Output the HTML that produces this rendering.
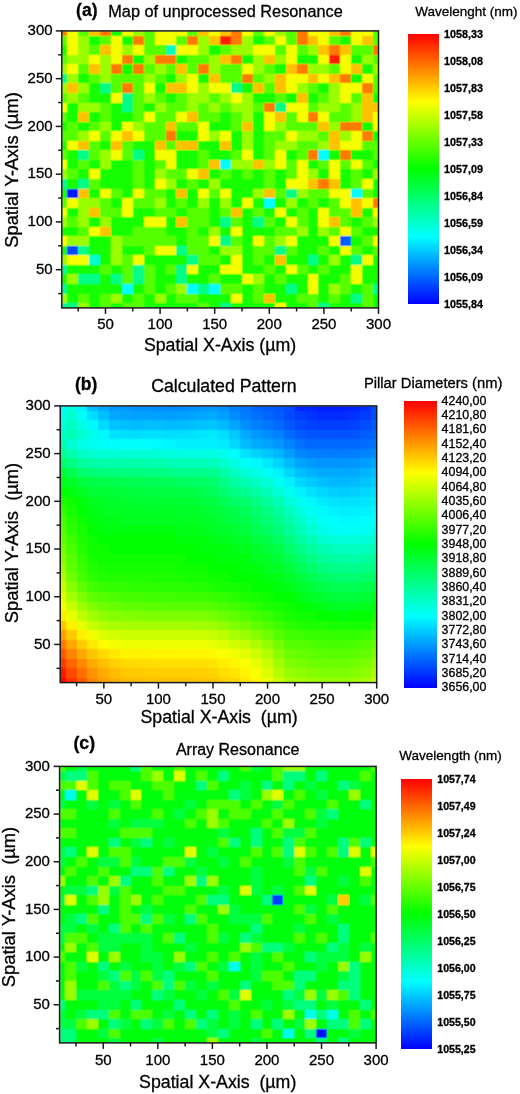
<!DOCTYPE html>
<html><head><meta charset="utf-8"><style>
html,body{margin:0;padding:0;background:#fff;}
body{width:520px;height:1094px;position:relative;overflow:hidden;font-family:"Liberation Sans",Arial,sans-serif;color:#000;-webkit-text-stroke:0.3px #000;}
.t{position:absolute;white-space:pre;line-height:1;}
.tl{position:absolute;white-space:pre;line-height:20px;height:20px;}
.cl{position:absolute;white-space:pre;line-height:20px;height:20px;}
svg{position:absolute;left:0;top:0;}
</style></head><body>
<svg width="520" height="1094" viewBox="0 0 520 1094" shape-rendering="crispEdges"><defs><filter id="bl" x="-2%" y="-2%" width="104%" height="104%"><feConvolveMatrix order="3" kernelMatrix="1 2 1 2 4 2 1 2 1" divisor="16" edgeMode="duplicate"/></filter></defs>
<clipPath id="cpa"><rect x="61.80" y="30.90" width="316.70" height="277.00"/></clipPath>
<g clip-path="url(#cpa)"><g filter="url(#bl)"><rect x="61.80" y="30.90" width="5.76" height="5.08" fill="#ff7a00"/>
<rect x="67.26" y="30.90" width="11.22" height="5.08" fill="#f5ff00"/>
<rect x="78.18" y="30.90" width="11.22" height="5.08" fill="#57ff00"/>
<rect x="89.10" y="30.90" width="11.22" height="5.08" fill="#ffc200"/>
<rect x="100.02" y="30.90" width="11.22" height="5.08" fill="#ff7a00"/>
<rect x="110.94" y="30.90" width="11.22" height="5.08" fill="#14ff00"/>
<rect x="121.86" y="30.90" width="11.22" height="5.08" fill="#f5ff00"/>
<rect x="132.78" y="30.90" width="11.22" height="5.08" fill="#99ff00"/>
<rect x="143.71" y="30.90" width="11.22" height="5.08" fill="#57ff00"/>
<rect x="154.63" y="30.90" width="11.22" height="5.08" fill="#f5ff00"/>
<rect x="165.55" y="30.90" width="11.22" height="5.08" fill="#f5ff00"/>
<rect x="176.47" y="30.90" width="11.22" height="5.08" fill="#f5ff00"/>
<rect x="187.39" y="30.90" width="11.22" height="5.08" fill="#57ff00"/>
<rect x="198.31" y="30.90" width="11.22" height="5.08" fill="#ffc200"/>
<rect x="209.23" y="30.90" width="11.22" height="5.08" fill="#f5ff00"/>
<rect x="220.15" y="30.90" width="11.22" height="5.08" fill="#ffc200"/>
<rect x="231.07" y="30.90" width="11.22" height="5.08" fill="#ff7a00"/>
<rect x="241.99" y="30.90" width="11.22" height="5.08" fill="#f5ff00"/>
<rect x="252.91" y="30.90" width="11.22" height="5.08" fill="#57ff00"/>
<rect x="263.83" y="30.90" width="11.22" height="5.08" fill="#f5ff00"/>
<rect x="274.75" y="30.90" width="11.22" height="5.08" fill="#99ff00"/>
<rect x="285.67" y="30.90" width="11.22" height="5.08" fill="#57ff00"/>
<rect x="296.59" y="30.90" width="11.22" height="5.08" fill="#ff7a00"/>
<rect x="307.52" y="30.90" width="11.22" height="5.08" fill="#f5ff00"/>
<rect x="318.44" y="30.90" width="11.22" height="5.08" fill="#f5ff00"/>
<rect x="329.36" y="30.90" width="11.22" height="5.08" fill="#ffc200"/>
<rect x="340.28" y="30.90" width="11.22" height="5.08" fill="#ff7a00"/>
<rect x="351.20" y="30.90" width="11.22" height="5.08" fill="#f5ff00"/>
<rect x="362.12" y="30.90" width="11.22" height="5.08" fill="#f5ff00"/>
<rect x="373.04" y="30.90" width="5.76" height="5.08" fill="#57ff00"/>
<rect x="61.80" y="35.68" width="5.76" height="9.85" fill="#57ff00"/>
<rect x="67.26" y="35.68" width="11.22" height="9.85" fill="#f5ff00"/>
<rect x="78.18" y="35.68" width="11.22" height="9.85" fill="#99ff00"/>
<rect x="89.10" y="35.68" width="11.22" height="9.85" fill="#14ff00"/>
<rect x="100.02" y="35.68" width="11.22" height="9.85" fill="#57ff00"/>
<rect x="110.94" y="35.68" width="11.22" height="9.85" fill="#f5ff00"/>
<rect x="121.86" y="35.68" width="11.22" height="9.85" fill="#14ff00"/>
<rect x="132.78" y="35.68" width="11.22" height="9.85" fill="#ff7a00"/>
<rect x="143.71" y="35.68" width="11.22" height="9.85" fill="#57ff00"/>
<rect x="154.63" y="35.68" width="11.22" height="9.85" fill="#f5ff00"/>
<rect x="165.55" y="35.68" width="11.22" height="9.85" fill="#f5ff00"/>
<rect x="176.47" y="35.68" width="11.22" height="9.85" fill="#57ff00"/>
<rect x="187.39" y="35.68" width="11.22" height="9.85" fill="#ff7a00"/>
<rect x="198.31" y="35.68" width="11.22" height="9.85" fill="#99ff00"/>
<rect x="209.23" y="35.68" width="11.22" height="9.85" fill="#ffc200"/>
<rect x="220.15" y="35.68" width="11.22" height="9.85" fill="#ff1f00"/>
<rect x="231.07" y="35.68" width="11.22" height="9.85" fill="#ff7a00"/>
<rect x="241.99" y="35.68" width="11.22" height="9.85" fill="#99ff00"/>
<rect x="252.91" y="35.68" width="11.22" height="9.85" fill="#14ff00"/>
<rect x="263.83" y="35.68" width="11.22" height="9.85" fill="#57ff00"/>
<rect x="274.75" y="35.68" width="11.22" height="9.85" fill="#f5ff00"/>
<rect x="285.67" y="35.68" width="11.22" height="9.85" fill="#57ff00"/>
<rect x="296.59" y="35.68" width="11.22" height="9.85" fill="#ff7a00"/>
<rect x="307.52" y="35.68" width="11.22" height="9.85" fill="#ffc200"/>
<rect x="318.44" y="35.68" width="11.22" height="9.85" fill="#f5ff00"/>
<rect x="329.36" y="35.68" width="11.22" height="9.85" fill="#57ff00"/>
<rect x="340.28" y="35.68" width="11.22" height="9.85" fill="#14ff00"/>
<rect x="351.20" y="35.68" width="11.22" height="9.85" fill="#f5ff00"/>
<rect x="362.12" y="35.68" width="11.22" height="9.85" fill="#ffc200"/>
<rect x="373.04" y="35.68" width="5.76" height="9.85" fill="#57ff00"/>
<rect x="61.80" y="45.23" width="5.76" height="9.85" fill="#14ff00"/>
<rect x="67.26" y="45.23" width="11.22" height="9.85" fill="#f5ff00"/>
<rect x="78.18" y="45.23" width="11.22" height="9.85" fill="#99ff00"/>
<rect x="89.10" y="45.23" width="11.22" height="9.85" fill="#57ff00"/>
<rect x="100.02" y="45.23" width="11.22" height="9.85" fill="#ffc200"/>
<rect x="110.94" y="45.23" width="11.22" height="9.85" fill="#f5ff00"/>
<rect x="121.86" y="45.23" width="11.22" height="9.85" fill="#99ff00"/>
<rect x="132.78" y="45.23" width="11.22" height="9.85" fill="#f5ff00"/>
<rect x="143.71" y="45.23" width="11.22" height="9.85" fill="#57ff00"/>
<rect x="154.63" y="45.23" width="11.22" height="9.85" fill="#57ff00"/>
<rect x="165.55" y="45.23" width="11.22" height="9.85" fill="#00ffb8"/>
<rect x="176.47" y="45.23" width="11.22" height="9.85" fill="#f5ff00"/>
<rect x="187.39" y="45.23" width="11.22" height="9.85" fill="#f5ff00"/>
<rect x="198.31" y="45.23" width="11.22" height="9.85" fill="#99ff00"/>
<rect x="209.23" y="45.23" width="11.22" height="9.85" fill="#14ff00"/>
<rect x="220.15" y="45.23" width="11.22" height="9.85" fill="#57ff00"/>
<rect x="231.07" y="45.23" width="11.22" height="9.85" fill="#99ff00"/>
<rect x="241.99" y="45.23" width="11.22" height="9.85" fill="#99ff00"/>
<rect x="252.91" y="45.23" width="11.22" height="9.85" fill="#f5ff00"/>
<rect x="263.83" y="45.23" width="11.22" height="9.85" fill="#f5ff00"/>
<rect x="274.75" y="45.23" width="11.22" height="9.85" fill="#57ff00"/>
<rect x="285.67" y="45.23" width="11.22" height="9.85" fill="#f5ff00"/>
<rect x="296.59" y="45.23" width="11.22" height="9.85" fill="#57ff00"/>
<rect x="307.52" y="45.23" width="11.22" height="9.85" fill="#99ff00"/>
<rect x="318.44" y="45.23" width="11.22" height="9.85" fill="#ffc200"/>
<rect x="329.36" y="45.23" width="11.22" height="9.85" fill="#ff7a00"/>
<rect x="340.28" y="45.23" width="11.22" height="9.85" fill="#ffc200"/>
<rect x="351.20" y="45.23" width="11.22" height="9.85" fill="#57ff00"/>
<rect x="362.12" y="45.23" width="11.22" height="9.85" fill="#57ff00"/>
<rect x="373.04" y="45.23" width="5.76" height="9.85" fill="#ff7a00"/>
<rect x="61.80" y="54.78" width="5.76" height="9.85" fill="#57ff00"/>
<rect x="67.26" y="54.78" width="11.22" height="9.85" fill="#99ff00"/>
<rect x="78.18" y="54.78" width="11.22" height="9.85" fill="#99ff00"/>
<rect x="89.10" y="54.78" width="11.22" height="9.85" fill="#f5ff00"/>
<rect x="100.02" y="54.78" width="11.22" height="9.85" fill="#99ff00"/>
<rect x="110.94" y="54.78" width="11.22" height="9.85" fill="#f5ff00"/>
<rect x="121.86" y="54.78" width="11.22" height="9.85" fill="#ff7a00"/>
<rect x="132.78" y="54.78" width="11.22" height="9.85" fill="#14ff00"/>
<rect x="143.71" y="54.78" width="11.22" height="9.85" fill="#99ff00"/>
<rect x="154.63" y="54.78" width="11.22" height="9.85" fill="#ff7a00"/>
<rect x="165.55" y="54.78" width="11.22" height="9.85" fill="#ff7a00"/>
<rect x="176.47" y="54.78" width="11.22" height="9.85" fill="#14ff00"/>
<rect x="187.39" y="54.78" width="11.22" height="9.85" fill="#57ff00"/>
<rect x="198.31" y="54.78" width="11.22" height="9.85" fill="#57ff00"/>
<rect x="209.23" y="54.78" width="11.22" height="9.85" fill="#99ff00"/>
<rect x="220.15" y="54.78" width="11.22" height="9.85" fill="#ffc200"/>
<rect x="231.07" y="54.78" width="11.22" height="9.85" fill="#ff7a00"/>
<rect x="241.99" y="54.78" width="11.22" height="9.85" fill="#14ff00"/>
<rect x="252.91" y="54.78" width="11.22" height="9.85" fill="#99ff00"/>
<rect x="263.83" y="54.78" width="11.22" height="9.85" fill="#ffc200"/>
<rect x="274.75" y="54.78" width="11.22" height="9.85" fill="#99ff00"/>
<rect x="285.67" y="54.78" width="11.22" height="9.85" fill="#f5ff00"/>
<rect x="296.59" y="54.78" width="11.22" height="9.85" fill="#14ff00"/>
<rect x="307.52" y="54.78" width="11.22" height="9.85" fill="#14ff00"/>
<rect x="318.44" y="54.78" width="11.22" height="9.85" fill="#f5ff00"/>
<rect x="329.36" y="54.78" width="11.22" height="9.85" fill="#ff1f00"/>
<rect x="340.28" y="54.78" width="11.22" height="9.85" fill="#f5ff00"/>
<rect x="351.20" y="54.78" width="11.22" height="9.85" fill="#14ff00"/>
<rect x="362.12" y="54.78" width="11.22" height="9.85" fill="#99ff00"/>
<rect x="373.04" y="54.78" width="5.76" height="9.85" fill="#57ff00"/>
<rect x="61.80" y="64.33" width="5.76" height="9.85" fill="#99ff00"/>
<rect x="67.26" y="64.33" width="11.22" height="9.85" fill="#f5ff00"/>
<rect x="78.18" y="64.33" width="11.22" height="9.85" fill="#57ff00"/>
<rect x="89.10" y="64.33" width="11.22" height="9.85" fill="#ffc200"/>
<rect x="100.02" y="64.33" width="11.22" height="9.85" fill="#99ff00"/>
<rect x="110.94" y="64.33" width="11.22" height="9.85" fill="#ff7a00"/>
<rect x="121.86" y="64.33" width="11.22" height="9.85" fill="#14ff00"/>
<rect x="132.78" y="64.33" width="11.22" height="9.85" fill="#ff7a00"/>
<rect x="143.71" y="64.33" width="11.22" height="9.85" fill="#57ff00"/>
<rect x="154.63" y="64.33" width="11.22" height="9.85" fill="#99ff00"/>
<rect x="165.55" y="64.33" width="11.22" height="9.85" fill="#57ff00"/>
<rect x="176.47" y="64.33" width="11.22" height="9.85" fill="#ffc200"/>
<rect x="187.39" y="64.33" width="11.22" height="9.85" fill="#57ff00"/>
<rect x="198.31" y="64.33" width="11.22" height="9.85" fill="#ff7a00"/>
<rect x="209.23" y="64.33" width="11.22" height="9.85" fill="#99ff00"/>
<rect x="220.15" y="64.33" width="11.22" height="9.85" fill="#57ff00"/>
<rect x="231.07" y="64.33" width="11.22" height="9.85" fill="#57ff00"/>
<rect x="241.99" y="64.33" width="11.22" height="9.85" fill="#f5ff00"/>
<rect x="252.91" y="64.33" width="11.22" height="9.85" fill="#99ff00"/>
<rect x="263.83" y="64.33" width="11.22" height="9.85" fill="#57ff00"/>
<rect x="274.75" y="64.33" width="11.22" height="9.85" fill="#14ff00"/>
<rect x="285.67" y="64.33" width="11.22" height="9.85" fill="#ffc200"/>
<rect x="296.59" y="64.33" width="11.22" height="9.85" fill="#ff7a00"/>
<rect x="307.52" y="64.33" width="11.22" height="9.85" fill="#99ff00"/>
<rect x="318.44" y="64.33" width="11.22" height="9.85" fill="#99ff00"/>
<rect x="329.36" y="64.33" width="11.22" height="9.85" fill="#57ff00"/>
<rect x="340.28" y="64.33" width="11.22" height="9.85" fill="#f5ff00"/>
<rect x="351.20" y="64.33" width="11.22" height="9.85" fill="#ffc200"/>
<rect x="362.12" y="64.33" width="11.22" height="9.85" fill="#14ff00"/>
<rect x="373.04" y="64.33" width="5.76" height="9.85" fill="#99ff00"/>
<rect x="61.80" y="73.88" width="5.76" height="9.85" fill="#00ff85"/>
<rect x="67.26" y="73.88" width="11.22" height="9.85" fill="#99ff00"/>
<rect x="78.18" y="73.88" width="11.22" height="9.85" fill="#14ff00"/>
<rect x="89.10" y="73.88" width="11.22" height="9.85" fill="#57ff00"/>
<rect x="100.02" y="73.88" width="11.22" height="9.85" fill="#99ff00"/>
<rect x="110.94" y="73.88" width="11.22" height="9.85" fill="#57ff00"/>
<rect x="121.86" y="73.88" width="11.22" height="9.85" fill="#57ff00"/>
<rect x="132.78" y="73.88" width="11.22" height="9.85" fill="#57ff00"/>
<rect x="143.71" y="73.88" width="11.22" height="9.85" fill="#99ff00"/>
<rect x="154.63" y="73.88" width="11.22" height="9.85" fill="#57ff00"/>
<rect x="165.55" y="73.88" width="11.22" height="9.85" fill="#14ff00"/>
<rect x="176.47" y="73.88" width="11.22" height="9.85" fill="#99ff00"/>
<rect x="187.39" y="73.88" width="11.22" height="9.85" fill="#f5ff00"/>
<rect x="198.31" y="73.88" width="11.22" height="9.85" fill="#14ff00"/>
<rect x="209.23" y="73.88" width="11.22" height="9.85" fill="#ffc200"/>
<rect x="220.15" y="73.88" width="11.22" height="9.85" fill="#57ff00"/>
<rect x="231.07" y="73.88" width="11.22" height="9.85" fill="#57ff00"/>
<rect x="241.99" y="73.88" width="11.22" height="9.85" fill="#ff7a00"/>
<rect x="252.91" y="73.88" width="11.22" height="9.85" fill="#57ff00"/>
<rect x="263.83" y="73.88" width="11.22" height="9.85" fill="#99ff00"/>
<rect x="274.75" y="73.88" width="11.22" height="9.85" fill="#ffc200"/>
<rect x="285.67" y="73.88" width="11.22" height="9.85" fill="#f5ff00"/>
<rect x="296.59" y="73.88" width="11.22" height="9.85" fill="#f5ff00"/>
<rect x="307.52" y="73.88" width="11.22" height="9.85" fill="#ffc200"/>
<rect x="318.44" y="73.88" width="11.22" height="9.85" fill="#f5ff00"/>
<rect x="329.36" y="73.88" width="11.22" height="9.85" fill="#ffc200"/>
<rect x="340.28" y="73.88" width="11.22" height="9.85" fill="#ff7a00"/>
<rect x="351.20" y="73.88" width="11.22" height="9.85" fill="#14ff00"/>
<rect x="362.12" y="73.88" width="11.22" height="9.85" fill="#f5ff00"/>
<rect x="373.04" y="73.88" width="5.76" height="9.85" fill="#57ff00"/>
<rect x="61.80" y="83.43" width="5.76" height="9.85" fill="#99ff00"/>
<rect x="67.26" y="83.43" width="11.22" height="9.85" fill="#ffc200"/>
<rect x="78.18" y="83.43" width="11.22" height="9.85" fill="#99ff00"/>
<rect x="89.10" y="83.43" width="11.22" height="9.85" fill="#14ff00"/>
<rect x="100.02" y="83.43" width="11.22" height="9.85" fill="#00ff85"/>
<rect x="110.94" y="83.43" width="11.22" height="9.85" fill="#57ff00"/>
<rect x="121.86" y="83.43" width="11.22" height="9.85" fill="#ff7a00"/>
<rect x="132.78" y="83.43" width="11.22" height="9.85" fill="#57ff00"/>
<rect x="143.71" y="83.43" width="11.22" height="9.85" fill="#f5ff00"/>
<rect x="154.63" y="83.43" width="11.22" height="9.85" fill="#14ff00"/>
<rect x="165.55" y="83.43" width="11.22" height="9.85" fill="#ffc200"/>
<rect x="176.47" y="83.43" width="11.22" height="9.85" fill="#ffc200"/>
<rect x="187.39" y="83.43" width="11.22" height="9.85" fill="#f5ff00"/>
<rect x="198.31" y="83.43" width="11.22" height="9.85" fill="#99ff00"/>
<rect x="209.23" y="83.43" width="11.22" height="9.85" fill="#f5ff00"/>
<rect x="220.15" y="83.43" width="11.22" height="9.85" fill="#f5ff00"/>
<rect x="231.07" y="83.43" width="11.22" height="9.85" fill="#00ff85"/>
<rect x="241.99" y="83.43" width="11.22" height="9.85" fill="#14ff00"/>
<rect x="252.91" y="83.43" width="11.22" height="9.85" fill="#ffc200"/>
<rect x="263.83" y="83.43" width="11.22" height="9.85" fill="#57ff00"/>
<rect x="274.75" y="83.43" width="11.22" height="9.85" fill="#ffc200"/>
<rect x="285.67" y="83.43" width="11.22" height="9.85" fill="#f5ff00"/>
<rect x="296.59" y="83.43" width="11.22" height="9.85" fill="#99ff00"/>
<rect x="307.52" y="83.43" width="11.22" height="9.85" fill="#57ff00"/>
<rect x="318.44" y="83.43" width="11.22" height="9.85" fill="#14ff00"/>
<rect x="329.36" y="83.43" width="11.22" height="9.85" fill="#99ff00"/>
<rect x="340.28" y="83.43" width="11.22" height="9.85" fill="#f5ff00"/>
<rect x="351.20" y="83.43" width="11.22" height="9.85" fill="#f5ff00"/>
<rect x="362.12" y="83.43" width="11.22" height="9.85" fill="#ff7a00"/>
<rect x="373.04" y="83.43" width="5.76" height="9.85" fill="#57ff00"/>
<rect x="61.80" y="92.99" width="5.76" height="9.85" fill="#57ff00"/>
<rect x="67.26" y="92.99" width="11.22" height="9.85" fill="#99ff00"/>
<rect x="78.18" y="92.99" width="11.22" height="9.85" fill="#57ff00"/>
<rect x="89.10" y="92.99" width="11.22" height="9.85" fill="#14ff00"/>
<rect x="100.02" y="92.99" width="11.22" height="9.85" fill="#14ff00"/>
<rect x="110.94" y="92.99" width="11.22" height="9.85" fill="#f5ff00"/>
<rect x="121.86" y="92.99" width="11.22" height="9.85" fill="#00ff85"/>
<rect x="132.78" y="92.99" width="11.22" height="9.85" fill="#57ff00"/>
<rect x="143.71" y="92.99" width="11.22" height="9.85" fill="#99ff00"/>
<rect x="154.63" y="92.99" width="11.22" height="9.85" fill="#57ff00"/>
<rect x="165.55" y="92.99" width="11.22" height="9.85" fill="#14ff00"/>
<rect x="176.47" y="92.99" width="11.22" height="9.85" fill="#57ff00"/>
<rect x="187.39" y="92.99" width="11.22" height="9.85" fill="#99ff00"/>
<rect x="198.31" y="92.99" width="11.22" height="9.85" fill="#99ff00"/>
<rect x="209.23" y="92.99" width="11.22" height="9.85" fill="#57ff00"/>
<rect x="220.15" y="92.99" width="11.22" height="9.85" fill="#99ff00"/>
<rect x="231.07" y="92.99" width="11.22" height="9.85" fill="#f5ff00"/>
<rect x="241.99" y="92.99" width="11.22" height="9.85" fill="#99ff00"/>
<rect x="252.91" y="92.99" width="11.22" height="9.85" fill="#14ff00"/>
<rect x="263.83" y="92.99" width="11.22" height="9.85" fill="#14ff00"/>
<rect x="274.75" y="92.99" width="11.22" height="9.85" fill="#57ff00"/>
<rect x="285.67" y="92.99" width="11.22" height="9.85" fill="#14ff00"/>
<rect x="296.59" y="92.99" width="11.22" height="9.85" fill="#ffc200"/>
<rect x="307.52" y="92.99" width="11.22" height="9.85" fill="#14ff00"/>
<rect x="318.44" y="92.99" width="11.22" height="9.85" fill="#57ff00"/>
<rect x="329.36" y="92.99" width="11.22" height="9.85" fill="#99ff00"/>
<rect x="340.28" y="92.99" width="11.22" height="9.85" fill="#f5ff00"/>
<rect x="351.20" y="92.99" width="11.22" height="9.85" fill="#57ff00"/>
<rect x="362.12" y="92.99" width="11.22" height="9.85" fill="#ffc200"/>
<rect x="373.04" y="92.99" width="5.76" height="9.85" fill="#14ff00"/>
<rect x="61.80" y="102.54" width="5.76" height="9.85" fill="#f5ff00"/>
<rect x="67.26" y="102.54" width="11.22" height="9.85" fill="#14ff00"/>
<rect x="78.18" y="102.54" width="11.22" height="9.85" fill="#99ff00"/>
<rect x="89.10" y="102.54" width="11.22" height="9.85" fill="#99ff00"/>
<rect x="100.02" y="102.54" width="11.22" height="9.85" fill="#57ff00"/>
<rect x="110.94" y="102.54" width="11.22" height="9.85" fill="#14ff00"/>
<rect x="121.86" y="102.54" width="11.22" height="9.85" fill="#00ff85"/>
<rect x="132.78" y="102.54" width="11.22" height="9.85" fill="#57ff00"/>
<rect x="143.71" y="102.54" width="11.22" height="9.85" fill="#14ff00"/>
<rect x="154.63" y="102.54" width="11.22" height="9.85" fill="#99ff00"/>
<rect x="165.55" y="102.54" width="11.22" height="9.85" fill="#57ff00"/>
<rect x="176.47" y="102.54" width="11.22" height="9.85" fill="#57ff00"/>
<rect x="187.39" y="102.54" width="11.22" height="9.85" fill="#99ff00"/>
<rect x="198.31" y="102.54" width="11.22" height="9.85" fill="#57ff00"/>
<rect x="209.23" y="102.54" width="11.22" height="9.85" fill="#99ff00"/>
<rect x="220.15" y="102.54" width="11.22" height="9.85" fill="#57ff00"/>
<rect x="231.07" y="102.54" width="11.22" height="9.85" fill="#99ff00"/>
<rect x="241.99" y="102.54" width="11.22" height="9.85" fill="#99ff00"/>
<rect x="252.91" y="102.54" width="11.22" height="9.85" fill="#57ff00"/>
<rect x="263.83" y="102.54" width="11.22" height="9.85" fill="#ff7a00"/>
<rect x="274.75" y="102.54" width="11.22" height="9.85" fill="#00ff85"/>
<rect x="285.67" y="102.54" width="11.22" height="9.85" fill="#f5ff00"/>
<rect x="296.59" y="102.54" width="11.22" height="9.85" fill="#f5ff00"/>
<rect x="307.52" y="102.54" width="11.22" height="9.85" fill="#57ff00"/>
<rect x="318.44" y="102.54" width="11.22" height="9.85" fill="#99ff00"/>
<rect x="329.36" y="102.54" width="11.22" height="9.85" fill="#99ff00"/>
<rect x="340.28" y="102.54" width="11.22" height="9.85" fill="#57ff00"/>
<rect x="351.20" y="102.54" width="11.22" height="9.85" fill="#99ff00"/>
<rect x="362.12" y="102.54" width="11.22" height="9.85" fill="#ffc200"/>
<rect x="373.04" y="102.54" width="5.76" height="9.85" fill="#ffc200"/>
<rect x="61.80" y="112.09" width="5.76" height="9.85" fill="#57ff00"/>
<rect x="67.26" y="112.09" width="11.22" height="9.85" fill="#14ff00"/>
<rect x="78.18" y="112.09" width="11.22" height="9.85" fill="#ffc200"/>
<rect x="89.10" y="112.09" width="11.22" height="9.85" fill="#14ff00"/>
<rect x="100.02" y="112.09" width="11.22" height="9.85" fill="#57ff00"/>
<rect x="110.94" y="112.09" width="11.22" height="9.85" fill="#14ff00"/>
<rect x="121.86" y="112.09" width="11.22" height="9.85" fill="#14ff00"/>
<rect x="132.78" y="112.09" width="11.22" height="9.85" fill="#57ff00"/>
<rect x="143.71" y="112.09" width="11.22" height="9.85" fill="#f5ff00"/>
<rect x="154.63" y="112.09" width="11.22" height="9.85" fill="#57ff00"/>
<rect x="165.55" y="112.09" width="11.22" height="9.85" fill="#57ff00"/>
<rect x="176.47" y="112.09" width="11.22" height="9.85" fill="#f5ff00"/>
<rect x="187.39" y="112.09" width="11.22" height="9.85" fill="#ffc200"/>
<rect x="198.31" y="112.09" width="11.22" height="9.85" fill="#57ff00"/>
<rect x="209.23" y="112.09" width="11.22" height="9.85" fill="#57ff00"/>
<rect x="220.15" y="112.09" width="11.22" height="9.85" fill="#14ff00"/>
<rect x="231.07" y="112.09" width="11.22" height="9.85" fill="#57ff00"/>
<rect x="241.99" y="112.09" width="11.22" height="9.85" fill="#99ff00"/>
<rect x="252.91" y="112.09" width="11.22" height="9.85" fill="#14ff00"/>
<rect x="263.83" y="112.09" width="11.22" height="9.85" fill="#f5ff00"/>
<rect x="274.75" y="112.09" width="11.22" height="9.85" fill="#ffc200"/>
<rect x="285.67" y="112.09" width="11.22" height="9.85" fill="#57ff00"/>
<rect x="296.59" y="112.09" width="11.22" height="9.85" fill="#f5ff00"/>
<rect x="307.52" y="112.09" width="11.22" height="9.85" fill="#ff7a00"/>
<rect x="318.44" y="112.09" width="11.22" height="9.85" fill="#f5ff00"/>
<rect x="329.36" y="112.09" width="11.22" height="9.85" fill="#57ff00"/>
<rect x="340.28" y="112.09" width="11.22" height="9.85" fill="#57ff00"/>
<rect x="351.20" y="112.09" width="11.22" height="9.85" fill="#99ff00"/>
<rect x="362.12" y="112.09" width="11.22" height="9.85" fill="#ffc200"/>
<rect x="373.04" y="112.09" width="5.76" height="9.85" fill="#f5ff00"/>
<rect x="61.80" y="121.64" width="5.76" height="9.85" fill="#14ff00"/>
<rect x="67.26" y="121.64" width="11.22" height="9.85" fill="#57ff00"/>
<rect x="78.18" y="121.64" width="11.22" height="9.85" fill="#14ff00"/>
<rect x="89.10" y="121.64" width="11.22" height="9.85" fill="#57ff00"/>
<rect x="100.02" y="121.64" width="11.22" height="9.85" fill="#99ff00"/>
<rect x="110.94" y="121.64" width="11.22" height="9.85" fill="#14ff00"/>
<rect x="121.86" y="121.64" width="11.22" height="9.85" fill="#f5ff00"/>
<rect x="132.78" y="121.64" width="11.22" height="9.85" fill="#99ff00"/>
<rect x="143.71" y="121.64" width="11.22" height="9.85" fill="#57ff00"/>
<rect x="154.63" y="121.64" width="11.22" height="9.85" fill="#57ff00"/>
<rect x="165.55" y="121.64" width="11.22" height="9.85" fill="#ffc200"/>
<rect x="176.47" y="121.64" width="11.22" height="9.85" fill="#57ff00"/>
<rect x="187.39" y="121.64" width="11.22" height="9.85" fill="#57ff00"/>
<rect x="198.31" y="121.64" width="11.22" height="9.85" fill="#f5ff00"/>
<rect x="209.23" y="121.64" width="11.22" height="9.85" fill="#14ff00"/>
<rect x="220.15" y="121.64" width="11.22" height="9.85" fill="#14ff00"/>
<rect x="231.07" y="121.64" width="11.22" height="9.85" fill="#57ff00"/>
<rect x="241.99" y="121.64" width="11.22" height="9.85" fill="#ffc200"/>
<rect x="252.91" y="121.64" width="11.22" height="9.85" fill="#14ff00"/>
<rect x="263.83" y="121.64" width="11.22" height="9.85" fill="#f5ff00"/>
<rect x="274.75" y="121.64" width="11.22" height="9.85" fill="#99ff00"/>
<rect x="285.67" y="121.64" width="11.22" height="9.85" fill="#57ff00"/>
<rect x="296.59" y="121.64" width="11.22" height="9.85" fill="#57ff00"/>
<rect x="307.52" y="121.64" width="11.22" height="9.85" fill="#57ff00"/>
<rect x="318.44" y="121.64" width="11.22" height="9.85" fill="#ffc200"/>
<rect x="329.36" y="121.64" width="11.22" height="9.85" fill="#99ff00"/>
<rect x="340.28" y="121.64" width="11.22" height="9.85" fill="#ff7a00"/>
<rect x="351.20" y="121.64" width="11.22" height="9.85" fill="#ff7a00"/>
<rect x="362.12" y="121.64" width="11.22" height="9.85" fill="#14ff00"/>
<rect x="373.04" y="121.64" width="5.76" height="9.85" fill="#f5ff00"/>
<rect x="61.80" y="131.19" width="5.76" height="9.85" fill="#57ff00"/>
<rect x="67.26" y="131.19" width="11.22" height="9.85" fill="#57ff00"/>
<rect x="78.18" y="131.19" width="11.22" height="9.85" fill="#99ff00"/>
<rect x="89.10" y="131.19" width="11.22" height="9.85" fill="#f5ff00"/>
<rect x="100.02" y="131.19" width="11.22" height="9.85" fill="#57ff00"/>
<rect x="110.94" y="131.19" width="11.22" height="9.85" fill="#f5ff00"/>
<rect x="121.86" y="131.19" width="11.22" height="9.85" fill="#ffc200"/>
<rect x="132.78" y="131.19" width="11.22" height="9.85" fill="#f5ff00"/>
<rect x="143.71" y="131.19" width="11.22" height="9.85" fill="#57ff00"/>
<rect x="154.63" y="131.19" width="11.22" height="9.85" fill="#57ff00"/>
<rect x="165.55" y="131.19" width="11.22" height="9.85" fill="#ff7a00"/>
<rect x="176.47" y="131.19" width="11.22" height="9.85" fill="#14ff00"/>
<rect x="187.39" y="131.19" width="11.22" height="9.85" fill="#14ff00"/>
<rect x="198.31" y="131.19" width="11.22" height="9.85" fill="#f5ff00"/>
<rect x="209.23" y="131.19" width="11.22" height="9.85" fill="#99ff00"/>
<rect x="220.15" y="131.19" width="11.22" height="9.85" fill="#f5ff00"/>
<rect x="231.07" y="131.19" width="11.22" height="9.85" fill="#14ff00"/>
<rect x="241.99" y="131.19" width="11.22" height="9.85" fill="#99ff00"/>
<rect x="252.91" y="131.19" width="11.22" height="9.85" fill="#14ff00"/>
<rect x="263.83" y="131.19" width="11.22" height="9.85" fill="#57ff00"/>
<rect x="274.75" y="131.19" width="11.22" height="9.85" fill="#57ff00"/>
<rect x="285.67" y="131.19" width="11.22" height="9.85" fill="#f5ff00"/>
<rect x="296.59" y="131.19" width="11.22" height="9.85" fill="#99ff00"/>
<rect x="307.52" y="131.19" width="11.22" height="9.85" fill="#99ff00"/>
<rect x="318.44" y="131.19" width="11.22" height="9.85" fill="#57ff00"/>
<rect x="329.36" y="131.19" width="11.22" height="9.85" fill="#ffc200"/>
<rect x="340.28" y="131.19" width="11.22" height="9.85" fill="#99ff00"/>
<rect x="351.20" y="131.19" width="11.22" height="9.85" fill="#f5ff00"/>
<rect x="362.12" y="131.19" width="11.22" height="9.85" fill="#ff7a00"/>
<rect x="373.04" y="131.19" width="5.76" height="9.85" fill="#14ff00"/>
<rect x="61.80" y="140.74" width="5.76" height="9.85" fill="#14ff00"/>
<rect x="67.26" y="140.74" width="11.22" height="9.85" fill="#f5ff00"/>
<rect x="78.18" y="140.74" width="11.22" height="9.85" fill="#ffc200"/>
<rect x="89.10" y="140.74" width="11.22" height="9.85" fill="#57ff00"/>
<rect x="100.02" y="140.74" width="11.22" height="9.85" fill="#14ff00"/>
<rect x="110.94" y="140.74" width="11.22" height="9.85" fill="#ffc200"/>
<rect x="121.86" y="140.74" width="11.22" height="9.85" fill="#57ff00"/>
<rect x="132.78" y="140.74" width="11.22" height="9.85" fill="#14ff00"/>
<rect x="143.71" y="140.74" width="11.22" height="9.85" fill="#14ff00"/>
<rect x="154.63" y="140.74" width="11.22" height="9.85" fill="#ffc200"/>
<rect x="165.55" y="140.74" width="11.22" height="9.85" fill="#57ff00"/>
<rect x="176.47" y="140.74" width="11.22" height="9.85" fill="#ffc200"/>
<rect x="187.39" y="140.74" width="11.22" height="9.85" fill="#ffc200"/>
<rect x="198.31" y="140.74" width="11.22" height="9.85" fill="#14ff00"/>
<rect x="209.23" y="140.74" width="11.22" height="9.85" fill="#14ff00"/>
<rect x="220.15" y="140.74" width="11.22" height="9.85" fill="#ffc200"/>
<rect x="231.07" y="140.74" width="11.22" height="9.85" fill="#14ff00"/>
<rect x="241.99" y="140.74" width="11.22" height="9.85" fill="#99ff00"/>
<rect x="252.91" y="140.74" width="11.22" height="9.85" fill="#14ff00"/>
<rect x="263.83" y="140.74" width="11.22" height="9.85" fill="#57ff00"/>
<rect x="274.75" y="140.74" width="11.22" height="9.85" fill="#99ff00"/>
<rect x="285.67" y="140.74" width="11.22" height="9.85" fill="#99ff00"/>
<rect x="296.59" y="140.74" width="11.22" height="9.85" fill="#57ff00"/>
<rect x="307.52" y="140.74" width="11.22" height="9.85" fill="#57ff00"/>
<rect x="318.44" y="140.74" width="11.22" height="9.85" fill="#99ff00"/>
<rect x="329.36" y="140.74" width="11.22" height="9.85" fill="#ffc200"/>
<rect x="340.28" y="140.74" width="11.22" height="9.85" fill="#f5ff00"/>
<rect x="351.20" y="140.74" width="11.22" height="9.85" fill="#f5ff00"/>
<rect x="362.12" y="140.74" width="11.22" height="9.85" fill="#57ff00"/>
<rect x="373.04" y="140.74" width="5.76" height="9.85" fill="#57ff00"/>
<rect x="61.80" y="150.30" width="5.76" height="9.85" fill="#57ff00"/>
<rect x="67.26" y="150.30" width="11.22" height="9.85" fill="#14ff00"/>
<rect x="78.18" y="150.30" width="11.22" height="9.85" fill="#00ff85"/>
<rect x="89.10" y="150.30" width="11.22" height="9.85" fill="#57ff00"/>
<rect x="100.02" y="150.30" width="11.22" height="9.85" fill="#99ff00"/>
<rect x="110.94" y="150.30" width="11.22" height="9.85" fill="#f5ff00"/>
<rect x="121.86" y="150.30" width="11.22" height="9.85" fill="#57ff00"/>
<rect x="132.78" y="150.30" width="11.22" height="9.85" fill="#00ff85"/>
<rect x="143.71" y="150.30" width="11.22" height="9.85" fill="#14ff00"/>
<rect x="154.63" y="150.30" width="11.22" height="9.85" fill="#f5ff00"/>
<rect x="165.55" y="150.30" width="11.22" height="9.85" fill="#f5ff00"/>
<rect x="176.47" y="150.30" width="11.22" height="9.85" fill="#14ff00"/>
<rect x="187.39" y="150.30" width="11.22" height="9.85" fill="#14ff00"/>
<rect x="198.31" y="150.30" width="11.22" height="9.85" fill="#57ff00"/>
<rect x="209.23" y="150.30" width="11.22" height="9.85" fill="#14ff00"/>
<rect x="220.15" y="150.30" width="11.22" height="9.85" fill="#14ff00"/>
<rect x="231.07" y="150.30" width="11.22" height="9.85" fill="#57ff00"/>
<rect x="241.99" y="150.30" width="11.22" height="9.85" fill="#f5ff00"/>
<rect x="252.91" y="150.30" width="11.22" height="9.85" fill="#14ff00"/>
<rect x="263.83" y="150.30" width="11.22" height="9.85" fill="#57ff00"/>
<rect x="274.75" y="150.30" width="11.22" height="9.85" fill="#f5ff00"/>
<rect x="285.67" y="150.30" width="11.22" height="9.85" fill="#14ff00"/>
<rect x="296.59" y="150.30" width="11.22" height="9.85" fill="#57ff00"/>
<rect x="307.52" y="150.30" width="11.22" height="9.85" fill="#ff7a00"/>
<rect x="318.44" y="150.30" width="11.22" height="9.85" fill="#00ffff"/>
<rect x="329.36" y="150.30" width="11.22" height="9.85" fill="#14ff00"/>
<rect x="340.28" y="150.30" width="11.22" height="9.85" fill="#ff7a00"/>
<rect x="351.20" y="150.30" width="11.22" height="9.85" fill="#14ff00"/>
<rect x="362.12" y="150.30" width="11.22" height="9.85" fill="#14ff00"/>
<rect x="373.04" y="150.30" width="5.76" height="9.85" fill="#57ff00"/>
<rect x="61.80" y="159.85" width="5.76" height="9.85" fill="#f5ff00"/>
<rect x="67.26" y="159.85" width="11.22" height="9.85" fill="#14ff00"/>
<rect x="78.18" y="159.85" width="11.22" height="9.85" fill="#57ff00"/>
<rect x="89.10" y="159.85" width="11.22" height="9.85" fill="#14ff00"/>
<rect x="100.02" y="159.85" width="11.22" height="9.85" fill="#99ff00"/>
<rect x="110.94" y="159.85" width="11.22" height="9.85" fill="#14ff00"/>
<rect x="121.86" y="159.85" width="11.22" height="9.85" fill="#14ff00"/>
<rect x="132.78" y="159.85" width="11.22" height="9.85" fill="#57ff00"/>
<rect x="143.71" y="159.85" width="11.22" height="9.85" fill="#14ff00"/>
<rect x="154.63" y="159.85" width="11.22" height="9.85" fill="#57ff00"/>
<rect x="165.55" y="159.85" width="11.22" height="9.85" fill="#f5ff00"/>
<rect x="176.47" y="159.85" width="11.22" height="9.85" fill="#14ff00"/>
<rect x="187.39" y="159.85" width="11.22" height="9.85" fill="#14ff00"/>
<rect x="198.31" y="159.85" width="11.22" height="9.85" fill="#57ff00"/>
<rect x="209.23" y="159.85" width="11.22" height="9.85" fill="#ffc200"/>
<rect x="220.15" y="159.85" width="11.22" height="9.85" fill="#00ffff"/>
<rect x="231.07" y="159.85" width="11.22" height="9.85" fill="#99ff00"/>
<rect x="241.99" y="159.85" width="11.22" height="9.85" fill="#99ff00"/>
<rect x="252.91" y="159.85" width="11.22" height="9.85" fill="#ffc200"/>
<rect x="263.83" y="159.85" width="11.22" height="9.85" fill="#99ff00"/>
<rect x="274.75" y="159.85" width="11.22" height="9.85" fill="#f5ff00"/>
<rect x="285.67" y="159.85" width="11.22" height="9.85" fill="#57ff00"/>
<rect x="296.59" y="159.85" width="11.22" height="9.85" fill="#f5ff00"/>
<rect x="307.52" y="159.85" width="11.22" height="9.85" fill="#14ff00"/>
<rect x="318.44" y="159.85" width="11.22" height="9.85" fill="#57ff00"/>
<rect x="329.36" y="159.85" width="11.22" height="9.85" fill="#f5ff00"/>
<rect x="340.28" y="159.85" width="11.22" height="9.85" fill="#57ff00"/>
<rect x="351.20" y="159.85" width="11.22" height="9.85" fill="#f5ff00"/>
<rect x="362.12" y="159.85" width="11.22" height="9.85" fill="#57ff00"/>
<rect x="373.04" y="159.85" width="5.76" height="9.85" fill="#14ff00"/>
<rect x="61.80" y="169.40" width="5.76" height="9.85" fill="#99ff00"/>
<rect x="67.26" y="169.40" width="11.22" height="9.85" fill="#57ff00"/>
<rect x="78.18" y="169.40" width="11.22" height="9.85" fill="#14ff00"/>
<rect x="89.10" y="169.40" width="11.22" height="9.85" fill="#f5ff00"/>
<rect x="100.02" y="169.40" width="11.22" height="9.85" fill="#14ff00"/>
<rect x="110.94" y="169.40" width="11.22" height="9.85" fill="#14ff00"/>
<rect x="121.86" y="169.40" width="11.22" height="9.85" fill="#14ff00"/>
<rect x="132.78" y="169.40" width="11.22" height="9.85" fill="#57ff00"/>
<rect x="143.71" y="169.40" width="11.22" height="9.85" fill="#14ff00"/>
<rect x="154.63" y="169.40" width="11.22" height="9.85" fill="#99ff00"/>
<rect x="165.55" y="169.40" width="11.22" height="9.85" fill="#57ff00"/>
<rect x="176.47" y="169.40" width="11.22" height="9.85" fill="#57ff00"/>
<rect x="187.39" y="169.40" width="11.22" height="9.85" fill="#f5ff00"/>
<rect x="198.31" y="169.40" width="11.22" height="9.85" fill="#ffc200"/>
<rect x="209.23" y="169.40" width="11.22" height="9.85" fill="#14ff00"/>
<rect x="220.15" y="169.40" width="11.22" height="9.85" fill="#57ff00"/>
<rect x="231.07" y="169.40" width="11.22" height="9.85" fill="#14ff00"/>
<rect x="241.99" y="169.40" width="11.22" height="9.85" fill="#57ff00"/>
<rect x="252.91" y="169.40" width="11.22" height="9.85" fill="#14ff00"/>
<rect x="263.83" y="169.40" width="11.22" height="9.85" fill="#57ff00"/>
<rect x="274.75" y="169.40" width="11.22" height="9.85" fill="#14ff00"/>
<rect x="285.67" y="169.40" width="11.22" height="9.85" fill="#57ff00"/>
<rect x="296.59" y="169.40" width="11.22" height="9.85" fill="#f5ff00"/>
<rect x="307.52" y="169.40" width="11.22" height="9.85" fill="#99ff00"/>
<rect x="318.44" y="169.40" width="11.22" height="9.85" fill="#14ff00"/>
<rect x="329.36" y="169.40" width="11.22" height="9.85" fill="#f5ff00"/>
<rect x="340.28" y="169.40" width="11.22" height="9.85" fill="#14ff00"/>
<rect x="351.20" y="169.40" width="11.22" height="9.85" fill="#57ff00"/>
<rect x="362.12" y="169.40" width="11.22" height="9.85" fill="#14ff00"/>
<rect x="373.04" y="169.40" width="5.76" height="9.85" fill="#99ff00"/>
<rect x="61.80" y="178.95" width="5.76" height="9.85" fill="#00ff85"/>
<rect x="67.26" y="178.95" width="11.22" height="9.85" fill="#14ff00"/>
<rect x="78.18" y="178.95" width="11.22" height="9.85" fill="#00ff85"/>
<rect x="89.10" y="178.95" width="11.22" height="9.85" fill="#57ff00"/>
<rect x="100.02" y="178.95" width="11.22" height="9.85" fill="#14ff00"/>
<rect x="110.94" y="178.95" width="11.22" height="9.85" fill="#14ff00"/>
<rect x="121.86" y="178.95" width="11.22" height="9.85" fill="#14ff00"/>
<rect x="132.78" y="178.95" width="11.22" height="9.85" fill="#57ff00"/>
<rect x="143.71" y="178.95" width="11.22" height="9.85" fill="#14ff00"/>
<rect x="154.63" y="178.95" width="11.22" height="9.85" fill="#f5ff00"/>
<rect x="165.55" y="178.95" width="11.22" height="9.85" fill="#99ff00"/>
<rect x="176.47" y="178.95" width="11.22" height="9.85" fill="#14ff00"/>
<rect x="187.39" y="178.95" width="11.22" height="9.85" fill="#57ff00"/>
<rect x="198.31" y="178.95" width="11.22" height="9.85" fill="#14ff00"/>
<rect x="209.23" y="178.95" width="11.22" height="9.85" fill="#99ff00"/>
<rect x="220.15" y="178.95" width="11.22" height="9.85" fill="#14ff00"/>
<rect x="231.07" y="178.95" width="11.22" height="9.85" fill="#14ff00"/>
<rect x="241.99" y="178.95" width="11.22" height="9.85" fill="#14ff00"/>
<rect x="252.91" y="178.95" width="11.22" height="9.85" fill="#14ff00"/>
<rect x="263.83" y="178.95" width="11.22" height="9.85" fill="#57ff00"/>
<rect x="274.75" y="178.95" width="11.22" height="9.85" fill="#14ff00"/>
<rect x="285.67" y="178.95" width="11.22" height="9.85" fill="#f5ff00"/>
<rect x="296.59" y="178.95" width="11.22" height="9.85" fill="#f5ff00"/>
<rect x="307.52" y="178.95" width="11.22" height="9.85" fill="#ffc200"/>
<rect x="318.44" y="178.95" width="11.22" height="9.85" fill="#ff7a00"/>
<rect x="329.36" y="178.95" width="11.22" height="9.85" fill="#ffc200"/>
<rect x="340.28" y="178.95" width="11.22" height="9.85" fill="#14ff00"/>
<rect x="351.20" y="178.95" width="11.22" height="9.85" fill="#57ff00"/>
<rect x="362.12" y="178.95" width="11.22" height="9.85" fill="#f5ff00"/>
<rect x="373.04" y="178.95" width="5.76" height="9.85" fill="#14ff00"/>
<rect x="61.80" y="188.50" width="5.76" height="9.85" fill="#14ff00"/>
<rect x="67.26" y="188.50" width="11.22" height="9.85" fill="#0014ff"/>
<rect x="78.18" y="188.50" width="11.22" height="9.85" fill="#ffc200"/>
<rect x="89.10" y="188.50" width="11.22" height="9.85" fill="#14ff00"/>
<rect x="100.02" y="188.50" width="11.22" height="9.85" fill="#f5ff00"/>
<rect x="110.94" y="188.50" width="11.22" height="9.85" fill="#57ff00"/>
<rect x="121.86" y="188.50" width="11.22" height="9.85" fill="#14ff00"/>
<rect x="132.78" y="188.50" width="11.22" height="9.85" fill="#f5ff00"/>
<rect x="143.71" y="188.50" width="11.22" height="9.85" fill="#57ff00"/>
<rect x="154.63" y="188.50" width="11.22" height="9.85" fill="#57ff00"/>
<rect x="165.55" y="188.50" width="11.22" height="9.85" fill="#14ff00"/>
<rect x="176.47" y="188.50" width="11.22" height="9.85" fill="#ffc200"/>
<rect x="187.39" y="188.50" width="11.22" height="9.85" fill="#14ff00"/>
<rect x="198.31" y="188.50" width="11.22" height="9.85" fill="#f5ff00"/>
<rect x="209.23" y="188.50" width="11.22" height="9.85" fill="#57ff00"/>
<rect x="220.15" y="188.50" width="11.22" height="9.85" fill="#f5ff00"/>
<rect x="231.07" y="188.50" width="11.22" height="9.85" fill="#14ff00"/>
<rect x="241.99" y="188.50" width="11.22" height="9.85" fill="#14ff00"/>
<rect x="252.91" y="188.50" width="11.22" height="9.85" fill="#99ff00"/>
<rect x="263.83" y="188.50" width="11.22" height="9.85" fill="#ffc200"/>
<rect x="274.75" y="188.50" width="11.22" height="9.85" fill="#57ff00"/>
<rect x="285.67" y="188.50" width="11.22" height="9.85" fill="#00ff85"/>
<rect x="296.59" y="188.50" width="11.22" height="9.85" fill="#99ff00"/>
<rect x="307.52" y="188.50" width="11.22" height="9.85" fill="#57ff00"/>
<rect x="318.44" y="188.50" width="11.22" height="9.85" fill="#57ff00"/>
<rect x="329.36" y="188.50" width="11.22" height="9.85" fill="#f5ff00"/>
<rect x="340.28" y="188.50" width="11.22" height="9.85" fill="#f5ff00"/>
<rect x="351.20" y="188.50" width="11.22" height="9.85" fill="#00ffff"/>
<rect x="362.12" y="188.50" width="11.22" height="9.85" fill="#57ff00"/>
<rect x="373.04" y="188.50" width="5.76" height="9.85" fill="#14ff00"/>
<rect x="61.80" y="198.06" width="5.76" height="9.85" fill="#57ff00"/>
<rect x="67.26" y="198.06" width="11.22" height="9.85" fill="#f5ff00"/>
<rect x="78.18" y="198.06" width="11.22" height="9.85" fill="#99ff00"/>
<rect x="89.10" y="198.06" width="11.22" height="9.85" fill="#99ff00"/>
<rect x="100.02" y="198.06" width="11.22" height="9.85" fill="#57ff00"/>
<rect x="110.94" y="198.06" width="11.22" height="9.85" fill="#14ff00"/>
<rect x="121.86" y="198.06" width="11.22" height="9.85" fill="#f5ff00"/>
<rect x="132.78" y="198.06" width="11.22" height="9.85" fill="#57ff00"/>
<rect x="143.71" y="198.06" width="11.22" height="9.85" fill="#57ff00"/>
<rect x="154.63" y="198.06" width="11.22" height="9.85" fill="#99ff00"/>
<rect x="165.55" y="198.06" width="11.22" height="9.85" fill="#14ff00"/>
<rect x="176.47" y="198.06" width="11.22" height="9.85" fill="#57ff00"/>
<rect x="187.39" y="198.06" width="11.22" height="9.85" fill="#14ff00"/>
<rect x="198.31" y="198.06" width="11.22" height="9.85" fill="#99ff00"/>
<rect x="209.23" y="198.06" width="11.22" height="9.85" fill="#14ff00"/>
<rect x="220.15" y="198.06" width="11.22" height="9.85" fill="#99ff00"/>
<rect x="231.07" y="198.06" width="11.22" height="9.85" fill="#14ff00"/>
<rect x="241.99" y="198.06" width="11.22" height="9.85" fill="#f5ff00"/>
<rect x="252.91" y="198.06" width="11.22" height="9.85" fill="#14ff00"/>
<rect x="263.83" y="198.06" width="11.22" height="9.85" fill="#00ffff"/>
<rect x="274.75" y="198.06" width="11.22" height="9.85" fill="#14ff00"/>
<rect x="285.67" y="198.06" width="11.22" height="9.85" fill="#99ff00"/>
<rect x="296.59" y="198.06" width="11.22" height="9.85" fill="#14ff00"/>
<rect x="307.52" y="198.06" width="11.22" height="9.85" fill="#57ff00"/>
<rect x="318.44" y="198.06" width="11.22" height="9.85" fill="#14ff00"/>
<rect x="329.36" y="198.06" width="11.22" height="9.85" fill="#57ff00"/>
<rect x="340.28" y="198.06" width="11.22" height="9.85" fill="#f5ff00"/>
<rect x="351.20" y="198.06" width="11.22" height="9.85" fill="#ffc200"/>
<rect x="362.12" y="198.06" width="11.22" height="9.85" fill="#f5ff00"/>
<rect x="373.04" y="198.06" width="5.76" height="9.85" fill="#ff7a00"/>
<rect x="61.80" y="207.61" width="5.76" height="9.85" fill="#f5ff00"/>
<rect x="67.26" y="207.61" width="11.22" height="9.85" fill="#14ff00"/>
<rect x="78.18" y="207.61" width="11.22" height="9.85" fill="#99ff00"/>
<rect x="89.10" y="207.61" width="11.22" height="9.85" fill="#ffc200"/>
<rect x="100.02" y="207.61" width="11.22" height="9.85" fill="#57ff00"/>
<rect x="110.94" y="207.61" width="11.22" height="9.85" fill="#57ff00"/>
<rect x="121.86" y="207.61" width="11.22" height="9.85" fill="#f5ff00"/>
<rect x="132.78" y="207.61" width="11.22" height="9.85" fill="#14ff00"/>
<rect x="143.71" y="207.61" width="11.22" height="9.85" fill="#14ff00"/>
<rect x="154.63" y="207.61" width="11.22" height="9.85" fill="#57ff00"/>
<rect x="165.55" y="207.61" width="11.22" height="9.85" fill="#57ff00"/>
<rect x="176.47" y="207.61" width="11.22" height="9.85" fill="#14ff00"/>
<rect x="187.39" y="207.61" width="11.22" height="9.85" fill="#57ff00"/>
<rect x="198.31" y="207.61" width="11.22" height="9.85" fill="#57ff00"/>
<rect x="209.23" y="207.61" width="11.22" height="9.85" fill="#14ff00"/>
<rect x="220.15" y="207.61" width="11.22" height="9.85" fill="#57ff00"/>
<rect x="231.07" y="207.61" width="11.22" height="9.85" fill="#ffc200"/>
<rect x="241.99" y="207.61" width="11.22" height="9.85" fill="#14ff00"/>
<rect x="252.91" y="207.61" width="11.22" height="9.85" fill="#57ff00"/>
<rect x="263.83" y="207.61" width="11.22" height="9.85" fill="#14ff00"/>
<rect x="274.75" y="207.61" width="11.22" height="9.85" fill="#f5ff00"/>
<rect x="285.67" y="207.61" width="11.22" height="9.85" fill="#14ff00"/>
<rect x="296.59" y="207.61" width="11.22" height="9.85" fill="#57ff00"/>
<rect x="307.52" y="207.61" width="11.22" height="9.85" fill="#14ff00"/>
<rect x="318.44" y="207.61" width="11.22" height="9.85" fill="#f5ff00"/>
<rect x="329.36" y="207.61" width="11.22" height="9.85" fill="#57ff00"/>
<rect x="340.28" y="207.61" width="11.22" height="9.85" fill="#57ff00"/>
<rect x="351.20" y="207.61" width="11.22" height="9.85" fill="#ffc200"/>
<rect x="362.12" y="207.61" width="11.22" height="9.85" fill="#14ff00"/>
<rect x="373.04" y="207.61" width="5.76" height="9.85" fill="#f5ff00"/>
<rect x="61.80" y="217.16" width="5.76" height="9.85" fill="#99ff00"/>
<rect x="67.26" y="217.16" width="11.22" height="9.85" fill="#57ff00"/>
<rect x="78.18" y="217.16" width="11.22" height="9.85" fill="#99ff00"/>
<rect x="89.10" y="217.16" width="11.22" height="9.85" fill="#14ff00"/>
<rect x="100.02" y="217.16" width="11.22" height="9.85" fill="#99ff00"/>
<rect x="110.94" y="217.16" width="11.22" height="9.85" fill="#14ff00"/>
<rect x="121.86" y="217.16" width="11.22" height="9.85" fill="#14ff00"/>
<rect x="132.78" y="217.16" width="11.22" height="9.85" fill="#14ff00"/>
<rect x="143.71" y="217.16" width="11.22" height="9.85" fill="#f5ff00"/>
<rect x="154.63" y="217.16" width="11.22" height="9.85" fill="#f5ff00"/>
<rect x="165.55" y="217.16" width="11.22" height="9.85" fill="#14ff00"/>
<rect x="176.47" y="217.16" width="11.22" height="9.85" fill="#ffc200"/>
<rect x="187.39" y="217.16" width="11.22" height="9.85" fill="#57ff00"/>
<rect x="198.31" y="217.16" width="11.22" height="9.85" fill="#57ff00"/>
<rect x="209.23" y="217.16" width="11.22" height="9.85" fill="#14ff00"/>
<rect x="220.15" y="217.16" width="11.22" height="9.85" fill="#00ff85"/>
<rect x="231.07" y="217.16" width="11.22" height="9.85" fill="#57ff00"/>
<rect x="241.99" y="217.16" width="11.22" height="9.85" fill="#14ff00"/>
<rect x="252.91" y="217.16" width="11.22" height="9.85" fill="#00ff85"/>
<rect x="263.83" y="217.16" width="11.22" height="9.85" fill="#57ff00"/>
<rect x="274.75" y="217.16" width="11.22" height="9.85" fill="#14ff00"/>
<rect x="285.67" y="217.16" width="11.22" height="9.85" fill="#f5ff00"/>
<rect x="296.59" y="217.16" width="11.22" height="9.85" fill="#57ff00"/>
<rect x="307.52" y="217.16" width="11.22" height="9.85" fill="#14ff00"/>
<rect x="318.44" y="217.16" width="11.22" height="9.85" fill="#f5ff00"/>
<rect x="329.36" y="217.16" width="11.22" height="9.85" fill="#ffc200"/>
<rect x="340.28" y="217.16" width="11.22" height="9.85" fill="#57ff00"/>
<rect x="351.20" y="217.16" width="11.22" height="9.85" fill="#14ff00"/>
<rect x="362.12" y="217.16" width="11.22" height="9.85" fill="#57ff00"/>
<rect x="373.04" y="217.16" width="5.76" height="9.85" fill="#99ff00"/>
<rect x="61.80" y="226.71" width="5.76" height="9.85" fill="#14ff00"/>
<rect x="67.26" y="226.71" width="11.22" height="9.85" fill="#14ff00"/>
<rect x="78.18" y="226.71" width="11.22" height="9.85" fill="#57ff00"/>
<rect x="89.10" y="226.71" width="11.22" height="9.85" fill="#f5ff00"/>
<rect x="100.02" y="226.71" width="11.22" height="9.85" fill="#ffc200"/>
<rect x="110.94" y="226.71" width="11.22" height="9.85" fill="#14ff00"/>
<rect x="121.86" y="226.71" width="11.22" height="9.85" fill="#14ff00"/>
<rect x="132.78" y="226.71" width="11.22" height="9.85" fill="#57ff00"/>
<rect x="143.71" y="226.71" width="11.22" height="9.85" fill="#57ff00"/>
<rect x="154.63" y="226.71" width="11.22" height="9.85" fill="#57ff00"/>
<rect x="165.55" y="226.71" width="11.22" height="9.85" fill="#14ff00"/>
<rect x="176.47" y="226.71" width="11.22" height="9.85" fill="#14ff00"/>
<rect x="187.39" y="226.71" width="11.22" height="9.85" fill="#57ff00"/>
<rect x="198.31" y="226.71" width="11.22" height="9.85" fill="#14ff00"/>
<rect x="209.23" y="226.71" width="11.22" height="9.85" fill="#99ff00"/>
<rect x="220.15" y="226.71" width="11.22" height="9.85" fill="#14ff00"/>
<rect x="231.07" y="226.71" width="11.22" height="9.85" fill="#f5ff00"/>
<rect x="241.99" y="226.71" width="11.22" height="9.85" fill="#14ff00"/>
<rect x="252.91" y="226.71" width="11.22" height="9.85" fill="#14ff00"/>
<rect x="263.83" y="226.71" width="11.22" height="9.85" fill="#14ff00"/>
<rect x="274.75" y="226.71" width="11.22" height="9.85" fill="#57ff00"/>
<rect x="285.67" y="226.71" width="11.22" height="9.85" fill="#57ff00"/>
<rect x="296.59" y="226.71" width="11.22" height="9.85" fill="#99ff00"/>
<rect x="307.52" y="226.71" width="11.22" height="9.85" fill="#14ff00"/>
<rect x="318.44" y="226.71" width="11.22" height="9.85" fill="#99ff00"/>
<rect x="329.36" y="226.71" width="11.22" height="9.85" fill="#57ff00"/>
<rect x="340.28" y="226.71" width="11.22" height="9.85" fill="#f5ff00"/>
<rect x="351.20" y="226.71" width="11.22" height="9.85" fill="#57ff00"/>
<rect x="362.12" y="226.71" width="11.22" height="9.85" fill="#14ff00"/>
<rect x="373.04" y="226.71" width="5.76" height="9.85" fill="#14ff00"/>
<rect x="61.80" y="236.26" width="5.76" height="9.85" fill="#f5ff00"/>
<rect x="67.26" y="236.26" width="11.22" height="9.85" fill="#99ff00"/>
<rect x="78.18" y="236.26" width="11.22" height="9.85" fill="#99ff00"/>
<rect x="89.10" y="236.26" width="11.22" height="9.85" fill="#14ff00"/>
<rect x="100.02" y="236.26" width="11.22" height="9.85" fill="#14ff00"/>
<rect x="110.94" y="236.26" width="11.22" height="9.85" fill="#99ff00"/>
<rect x="121.86" y="236.26" width="11.22" height="9.85" fill="#57ff00"/>
<rect x="132.78" y="236.26" width="11.22" height="9.85" fill="#57ff00"/>
<rect x="143.71" y="236.26" width="11.22" height="9.85" fill="#57ff00"/>
<rect x="154.63" y="236.26" width="11.22" height="9.85" fill="#57ff00"/>
<rect x="165.55" y="236.26" width="11.22" height="9.85" fill="#57ff00"/>
<rect x="176.47" y="236.26" width="11.22" height="9.85" fill="#14ff00"/>
<rect x="187.39" y="236.26" width="11.22" height="9.85" fill="#57ff00"/>
<rect x="198.31" y="236.26" width="11.22" height="9.85" fill="#57ff00"/>
<rect x="209.23" y="236.26" width="11.22" height="9.85" fill="#f5ff00"/>
<rect x="220.15" y="236.26" width="11.22" height="9.85" fill="#00ff85"/>
<rect x="231.07" y="236.26" width="11.22" height="9.85" fill="#57ff00"/>
<rect x="241.99" y="236.26" width="11.22" height="9.85" fill="#14ff00"/>
<rect x="252.91" y="236.26" width="11.22" height="9.85" fill="#f5ff00"/>
<rect x="263.83" y="236.26" width="11.22" height="9.85" fill="#57ff00"/>
<rect x="274.75" y="236.26" width="11.22" height="9.85" fill="#99ff00"/>
<rect x="285.67" y="236.26" width="11.22" height="9.85" fill="#f5ff00"/>
<rect x="296.59" y="236.26" width="11.22" height="9.85" fill="#14ff00"/>
<rect x="307.52" y="236.26" width="11.22" height="9.85" fill="#14ff00"/>
<rect x="318.44" y="236.26" width="11.22" height="9.85" fill="#14ff00"/>
<rect x="329.36" y="236.26" width="11.22" height="9.85" fill="#f5ff00"/>
<rect x="340.28" y="236.26" width="11.22" height="9.85" fill="#005cff"/>
<rect x="351.20" y="236.26" width="11.22" height="9.85" fill="#14ff00"/>
<rect x="362.12" y="236.26" width="11.22" height="9.85" fill="#57ff00"/>
<rect x="373.04" y="236.26" width="5.76" height="9.85" fill="#f5ff00"/>
<rect x="61.80" y="245.81" width="5.76" height="9.85" fill="#14ff00"/>
<rect x="67.26" y="245.81" width="11.22" height="9.85" fill="#0047ff"/>
<rect x="78.18" y="245.81" width="11.22" height="9.85" fill="#00ff85"/>
<rect x="89.10" y="245.81" width="11.22" height="9.85" fill="#14ff00"/>
<rect x="100.02" y="245.81" width="11.22" height="9.85" fill="#14ff00"/>
<rect x="110.94" y="245.81" width="11.22" height="9.85" fill="#99ff00"/>
<rect x="121.86" y="245.81" width="11.22" height="9.85" fill="#14ff00"/>
<rect x="132.78" y="245.81" width="11.22" height="9.85" fill="#14ff00"/>
<rect x="143.71" y="245.81" width="11.22" height="9.85" fill="#57ff00"/>
<rect x="154.63" y="245.81" width="11.22" height="9.85" fill="#f5ff00"/>
<rect x="165.55" y="245.81" width="11.22" height="9.85" fill="#f5ff00"/>
<rect x="176.47" y="245.81" width="11.22" height="9.85" fill="#00ff85"/>
<rect x="187.39" y="245.81" width="11.22" height="9.85" fill="#57ff00"/>
<rect x="198.31" y="245.81" width="11.22" height="9.85" fill="#57ff00"/>
<rect x="209.23" y="245.81" width="11.22" height="9.85" fill="#14ff00"/>
<rect x="220.15" y="245.81" width="11.22" height="9.85" fill="#99ff00"/>
<rect x="231.07" y="245.81" width="11.22" height="9.85" fill="#99ff00"/>
<rect x="241.99" y="245.81" width="11.22" height="9.85" fill="#14ff00"/>
<rect x="252.91" y="245.81" width="11.22" height="9.85" fill="#57ff00"/>
<rect x="263.83" y="245.81" width="11.22" height="9.85" fill="#57ff00"/>
<rect x="274.75" y="245.81" width="11.22" height="9.85" fill="#00ff85"/>
<rect x="285.67" y="245.81" width="11.22" height="9.85" fill="#57ff00"/>
<rect x="296.59" y="245.81" width="11.22" height="9.85" fill="#14ff00"/>
<rect x="307.52" y="245.81" width="11.22" height="9.85" fill="#14ff00"/>
<rect x="318.44" y="245.81" width="11.22" height="9.85" fill="#57ff00"/>
<rect x="329.36" y="245.81" width="11.22" height="9.85" fill="#14ff00"/>
<rect x="340.28" y="245.81" width="11.22" height="9.85" fill="#f5ff00"/>
<rect x="351.20" y="245.81" width="11.22" height="9.85" fill="#57ff00"/>
<rect x="362.12" y="245.81" width="11.22" height="9.85" fill="#14ff00"/>
<rect x="373.04" y="245.81" width="5.76" height="9.85" fill="#57ff00"/>
<rect x="61.80" y="255.37" width="5.76" height="9.85" fill="#99ff00"/>
<rect x="67.26" y="255.37" width="11.22" height="9.85" fill="#f5ff00"/>
<rect x="78.18" y="255.37" width="11.22" height="9.85" fill="#f5ff00"/>
<rect x="89.10" y="255.37" width="11.22" height="9.85" fill="#00ffcc"/>
<rect x="100.02" y="255.37" width="11.22" height="9.85" fill="#14ff00"/>
<rect x="110.94" y="255.37" width="11.22" height="9.85" fill="#99ff00"/>
<rect x="121.86" y="255.37" width="11.22" height="9.85" fill="#57ff00"/>
<rect x="132.78" y="255.37" width="11.22" height="9.85" fill="#f5ff00"/>
<rect x="143.71" y="255.37" width="11.22" height="9.85" fill="#14ff00"/>
<rect x="154.63" y="255.37" width="11.22" height="9.85" fill="#14ff00"/>
<rect x="165.55" y="255.37" width="11.22" height="9.85" fill="#14ff00"/>
<rect x="176.47" y="255.37" width="11.22" height="9.85" fill="#14ff00"/>
<rect x="187.39" y="255.37" width="11.22" height="9.85" fill="#00ff85"/>
<rect x="198.31" y="255.37" width="11.22" height="9.85" fill="#57ff00"/>
<rect x="209.23" y="255.37" width="11.22" height="9.85" fill="#57ff00"/>
<rect x="220.15" y="255.37" width="11.22" height="9.85" fill="#14ff00"/>
<rect x="231.07" y="255.37" width="11.22" height="9.85" fill="#f5ff00"/>
<rect x="241.99" y="255.37" width="11.22" height="9.85" fill="#14ff00"/>
<rect x="252.91" y="255.37" width="11.22" height="9.85" fill="#57ff00"/>
<rect x="263.83" y="255.37" width="11.22" height="9.85" fill="#14ff00"/>
<rect x="274.75" y="255.37" width="11.22" height="9.85" fill="#ffc200"/>
<rect x="285.67" y="255.37" width="11.22" height="9.85" fill="#14ff00"/>
<rect x="296.59" y="255.37" width="11.22" height="9.85" fill="#14ff00"/>
<rect x="307.52" y="255.37" width="11.22" height="9.85" fill="#00ff85"/>
<rect x="318.44" y="255.37" width="11.22" height="9.85" fill="#14ff00"/>
<rect x="329.36" y="255.37" width="11.22" height="9.85" fill="#99ff00"/>
<rect x="340.28" y="255.37" width="11.22" height="9.85" fill="#14ff00"/>
<rect x="351.20" y="255.37" width="11.22" height="9.85" fill="#00ff85"/>
<rect x="362.12" y="255.37" width="11.22" height="9.85" fill="#f5ff00"/>
<rect x="373.04" y="255.37" width="5.76" height="9.85" fill="#14ff00"/>
<rect x="61.80" y="264.92" width="5.76" height="9.85" fill="#00ff85"/>
<rect x="67.26" y="264.92" width="11.22" height="9.85" fill="#14ff00"/>
<rect x="78.18" y="264.92" width="11.22" height="9.85" fill="#14ff00"/>
<rect x="89.10" y="264.92" width="11.22" height="9.85" fill="#14ff00"/>
<rect x="100.02" y="264.92" width="11.22" height="9.85" fill="#57ff00"/>
<rect x="110.94" y="264.92" width="11.22" height="9.85" fill="#14ff00"/>
<rect x="121.86" y="264.92" width="11.22" height="9.85" fill="#57ff00"/>
<rect x="132.78" y="264.92" width="11.22" height="9.85" fill="#00ff85"/>
<rect x="143.71" y="264.92" width="11.22" height="9.85" fill="#57ff00"/>
<rect x="154.63" y="264.92" width="11.22" height="9.85" fill="#14ff00"/>
<rect x="165.55" y="264.92" width="11.22" height="9.85" fill="#57ff00"/>
<rect x="176.47" y="264.92" width="11.22" height="9.85" fill="#00ff85"/>
<rect x="187.39" y="264.92" width="11.22" height="9.85" fill="#f5ff00"/>
<rect x="198.31" y="264.92" width="11.22" height="9.85" fill="#14ff00"/>
<rect x="209.23" y="264.92" width="11.22" height="9.85" fill="#14ff00"/>
<rect x="220.15" y="264.92" width="11.22" height="9.85" fill="#f5ff00"/>
<rect x="231.07" y="264.92" width="11.22" height="9.85" fill="#f5ff00"/>
<rect x="241.99" y="264.92" width="11.22" height="9.85" fill="#14ff00"/>
<rect x="252.91" y="264.92" width="11.22" height="9.85" fill="#14ff00"/>
<rect x="263.83" y="264.92" width="11.22" height="9.85" fill="#57ff00"/>
<rect x="274.75" y="264.92" width="11.22" height="9.85" fill="#14ff00"/>
<rect x="285.67" y="264.92" width="11.22" height="9.85" fill="#f5ff00"/>
<rect x="296.59" y="264.92" width="11.22" height="9.85" fill="#57ff00"/>
<rect x="307.52" y="264.92" width="11.22" height="9.85" fill="#14ff00"/>
<rect x="318.44" y="264.92" width="11.22" height="9.85" fill="#57ff00"/>
<rect x="329.36" y="264.92" width="11.22" height="9.85" fill="#14ff00"/>
<rect x="340.28" y="264.92" width="11.22" height="9.85" fill="#14ff00"/>
<rect x="351.20" y="264.92" width="11.22" height="9.85" fill="#f5ff00"/>
<rect x="362.12" y="264.92" width="11.22" height="9.85" fill="#14ff00"/>
<rect x="373.04" y="264.92" width="5.76" height="9.85" fill="#14ff00"/>
<rect x="61.80" y="274.47" width="5.76" height="9.85" fill="#14ff00"/>
<rect x="67.26" y="274.47" width="11.22" height="9.85" fill="#99ff00"/>
<rect x="78.18" y="274.47" width="11.22" height="9.85" fill="#00ff85"/>
<rect x="89.10" y="274.47" width="11.22" height="9.85" fill="#00ff85"/>
<rect x="100.02" y="274.47" width="11.22" height="9.85" fill="#14ff00"/>
<rect x="110.94" y="274.47" width="11.22" height="9.85" fill="#00ff85"/>
<rect x="121.86" y="274.47" width="11.22" height="9.85" fill="#57ff00"/>
<rect x="132.78" y="274.47" width="11.22" height="9.85" fill="#00ff85"/>
<rect x="143.71" y="274.47" width="11.22" height="9.85" fill="#57ff00"/>
<rect x="154.63" y="274.47" width="11.22" height="9.85" fill="#14ff00"/>
<rect x="165.55" y="274.47" width="11.22" height="9.85" fill="#14ff00"/>
<rect x="176.47" y="274.47" width="11.22" height="9.85" fill="#00ff85"/>
<rect x="187.39" y="274.47" width="11.22" height="9.85" fill="#14ff00"/>
<rect x="198.31" y="274.47" width="11.22" height="9.85" fill="#14ff00"/>
<rect x="209.23" y="274.47" width="11.22" height="9.85" fill="#57ff00"/>
<rect x="220.15" y="274.47" width="11.22" height="9.85" fill="#14ff00"/>
<rect x="231.07" y="274.47" width="11.22" height="9.85" fill="#14ff00"/>
<rect x="241.99" y="274.47" width="11.22" height="9.85" fill="#f5ff00"/>
<rect x="252.91" y="274.47" width="11.22" height="9.85" fill="#99ff00"/>
<rect x="263.83" y="274.47" width="11.22" height="9.85" fill="#14ff00"/>
<rect x="274.75" y="274.47" width="11.22" height="9.85" fill="#57ff00"/>
<rect x="285.67" y="274.47" width="11.22" height="9.85" fill="#14ff00"/>
<rect x="296.59" y="274.47" width="11.22" height="9.85" fill="#14ff00"/>
<rect x="307.52" y="274.47" width="11.22" height="9.85" fill="#f5ff00"/>
<rect x="318.44" y="274.47" width="11.22" height="9.85" fill="#14ff00"/>
<rect x="329.36" y="274.47" width="11.22" height="9.85" fill="#14ff00"/>
<rect x="340.28" y="274.47" width="11.22" height="9.85" fill="#57ff00"/>
<rect x="351.20" y="274.47" width="11.22" height="9.85" fill="#f5ff00"/>
<rect x="362.12" y="274.47" width="11.22" height="9.85" fill="#14ff00"/>
<rect x="373.04" y="274.47" width="5.76" height="9.85" fill="#14ff00"/>
<rect x="61.80" y="284.02" width="5.76" height="9.85" fill="#00ff85"/>
<rect x="67.26" y="284.02" width="11.22" height="9.85" fill="#14ff00"/>
<rect x="78.18" y="284.02" width="11.22" height="9.85" fill="#14ff00"/>
<rect x="89.10" y="284.02" width="11.22" height="9.85" fill="#14ff00"/>
<rect x="100.02" y="284.02" width="11.22" height="9.85" fill="#14ff00"/>
<rect x="110.94" y="284.02" width="11.22" height="9.85" fill="#14ff00"/>
<rect x="121.86" y="284.02" width="11.22" height="9.85" fill="#00ffff"/>
<rect x="132.78" y="284.02" width="11.22" height="9.85" fill="#14ff00"/>
<rect x="143.71" y="284.02" width="11.22" height="9.85" fill="#57ff00"/>
<rect x="154.63" y="284.02" width="11.22" height="9.85" fill="#14ff00"/>
<rect x="165.55" y="284.02" width="11.22" height="9.85" fill="#57ff00"/>
<rect x="176.47" y="284.02" width="11.22" height="9.85" fill="#99ff00"/>
<rect x="187.39" y="284.02" width="11.22" height="9.85" fill="#00ffff"/>
<rect x="198.31" y="284.02" width="11.22" height="9.85" fill="#00ff85"/>
<rect x="209.23" y="284.02" width="11.22" height="9.85" fill="#00ffff"/>
<rect x="220.15" y="284.02" width="11.22" height="9.85" fill="#57ff00"/>
<rect x="231.07" y="284.02" width="11.22" height="9.85" fill="#57ff00"/>
<rect x="241.99" y="284.02" width="11.22" height="9.85" fill="#14ff00"/>
<rect x="252.91" y="284.02" width="11.22" height="9.85" fill="#57ff00"/>
<rect x="263.83" y="284.02" width="11.22" height="9.85" fill="#14ff00"/>
<rect x="274.75" y="284.02" width="11.22" height="9.85" fill="#14ff00"/>
<rect x="285.67" y="284.02" width="11.22" height="9.85" fill="#00ff85"/>
<rect x="296.59" y="284.02" width="11.22" height="9.85" fill="#14ff00"/>
<rect x="307.52" y="284.02" width="11.22" height="9.85" fill="#f5ff00"/>
<rect x="318.44" y="284.02" width="11.22" height="9.85" fill="#14ff00"/>
<rect x="329.36" y="284.02" width="11.22" height="9.85" fill="#99ff00"/>
<rect x="340.28" y="284.02" width="11.22" height="9.85" fill="#57ff00"/>
<rect x="351.20" y="284.02" width="11.22" height="9.85" fill="#14ff00"/>
<rect x="362.12" y="284.02" width="11.22" height="9.85" fill="#57ff00"/>
<rect x="373.04" y="284.02" width="5.76" height="9.85" fill="#00ff85"/>
<rect x="61.80" y="293.57" width="5.76" height="9.85" fill="#99ff00"/>
<rect x="67.26" y="293.57" width="11.22" height="9.85" fill="#14ff00"/>
<rect x="78.18" y="293.57" width="11.22" height="9.85" fill="#57ff00"/>
<rect x="89.10" y="293.57" width="11.22" height="9.85" fill="#14ff00"/>
<rect x="100.02" y="293.57" width="11.22" height="9.85" fill="#57ff00"/>
<rect x="110.94" y="293.57" width="11.22" height="9.85" fill="#99ff00"/>
<rect x="121.86" y="293.57" width="11.22" height="9.85" fill="#14ff00"/>
<rect x="132.78" y="293.57" width="11.22" height="9.85" fill="#57ff00"/>
<rect x="143.71" y="293.57" width="11.22" height="9.85" fill="#14ff00"/>
<rect x="154.63" y="293.57" width="11.22" height="9.85" fill="#99ff00"/>
<rect x="165.55" y="293.57" width="11.22" height="9.85" fill="#14ff00"/>
<rect x="176.47" y="293.57" width="11.22" height="9.85" fill="#57ff00"/>
<rect x="187.39" y="293.57" width="11.22" height="9.85" fill="#57ff00"/>
<rect x="198.31" y="293.57" width="11.22" height="9.85" fill="#14ff00"/>
<rect x="209.23" y="293.57" width="11.22" height="9.85" fill="#14ff00"/>
<rect x="220.15" y="293.57" width="11.22" height="9.85" fill="#14ff00"/>
<rect x="231.07" y="293.57" width="11.22" height="9.85" fill="#f5ff00"/>
<rect x="241.99" y="293.57" width="11.22" height="9.85" fill="#14ff00"/>
<rect x="252.91" y="293.57" width="11.22" height="9.85" fill="#57ff00"/>
<rect x="263.83" y="293.57" width="11.22" height="9.85" fill="#ffc200"/>
<rect x="274.75" y="293.57" width="11.22" height="9.85" fill="#14ff00"/>
<rect x="285.67" y="293.57" width="11.22" height="9.85" fill="#14ff00"/>
<rect x="296.59" y="293.57" width="11.22" height="9.85" fill="#57ff00"/>
<rect x="307.52" y="293.57" width="11.22" height="9.85" fill="#57ff00"/>
<rect x="318.44" y="293.57" width="11.22" height="9.85" fill="#14ff00"/>
<rect x="329.36" y="293.57" width="11.22" height="9.85" fill="#57ff00"/>
<rect x="340.28" y="293.57" width="11.22" height="9.85" fill="#14ff00"/>
<rect x="351.20" y="293.57" width="11.22" height="9.85" fill="#00ff85"/>
<rect x="362.12" y="293.57" width="11.22" height="9.85" fill="#57ff00"/>
<rect x="373.04" y="293.57" width="5.76" height="9.85" fill="#14ff00"/>
<rect x="61.80" y="303.12" width="5.76" height="5.08" fill="#00ff85"/>
<rect x="67.26" y="303.12" width="11.22" height="5.08" fill="#00ff85"/>
<rect x="78.18" y="303.12" width="11.22" height="5.08" fill="#99ff00"/>
<rect x="89.10" y="303.12" width="11.22" height="5.08" fill="#14ff00"/>
<rect x="100.02" y="303.12" width="11.22" height="5.08" fill="#57ff00"/>
<rect x="110.94" y="303.12" width="11.22" height="5.08" fill="#14ff00"/>
<rect x="121.86" y="303.12" width="11.22" height="5.08" fill="#57ff00"/>
<rect x="132.78" y="303.12" width="11.22" height="5.08" fill="#57ff00"/>
<rect x="143.71" y="303.12" width="11.22" height="5.08" fill="#14ff00"/>
<rect x="154.63" y="303.12" width="11.22" height="5.08" fill="#14ff00"/>
<rect x="165.55" y="303.12" width="11.22" height="5.08" fill="#14ff00"/>
<rect x="176.47" y="303.12" width="11.22" height="5.08" fill="#14ff00"/>
<rect x="187.39" y="303.12" width="11.22" height="5.08" fill="#14ff00"/>
<rect x="198.31" y="303.12" width="11.22" height="5.08" fill="#57ff00"/>
<rect x="209.23" y="303.12" width="11.22" height="5.08" fill="#14ff00"/>
<rect x="220.15" y="303.12" width="11.22" height="5.08" fill="#00ff85"/>
<rect x="231.07" y="303.12" width="11.22" height="5.08" fill="#14ff00"/>
<rect x="241.99" y="303.12" width="11.22" height="5.08" fill="#14ff00"/>
<rect x="252.91" y="303.12" width="11.22" height="5.08" fill="#14ff00"/>
<rect x="263.83" y="303.12" width="11.22" height="5.08" fill="#14ff00"/>
<rect x="274.75" y="303.12" width="11.22" height="5.08" fill="#f5ff00"/>
<rect x="285.67" y="303.12" width="11.22" height="5.08" fill="#14ff00"/>
<rect x="296.59" y="303.12" width="11.22" height="5.08" fill="#14ff00"/>
<rect x="307.52" y="303.12" width="11.22" height="5.08" fill="#57ff00"/>
<rect x="318.44" y="303.12" width="11.22" height="5.08" fill="#00ff85"/>
<rect x="329.36" y="303.12" width="11.22" height="5.08" fill="#14ff00"/>
<rect x="340.28" y="303.12" width="11.22" height="5.08" fill="#14ff00"/>
<rect x="351.20" y="303.12" width="11.22" height="5.08" fill="#14ff00"/>
<rect x="362.12" y="303.12" width="11.22" height="5.08" fill="#57ff00"/>
<rect x="373.04" y="303.12" width="5.76" height="5.08" fill="#14ff00"/></g></g>
<clipPath id="cpb"><rect x="60.20" y="405.90" width="316.50" height="276.70"/></clipPath>
<g clip-path="url(#cpb)"><g filter="url(#bl)"><rect x="60.20" y="405.90" width="5.76" height="5.07" fill="#00fbff"/>
<rect x="65.66" y="405.90" width="11.21" height="5.07" fill="#00ffde"/>
<rect x="76.57" y="405.90" width="11.21" height="5.07" fill="#00f1ff"/>
<rect x="87.48" y="405.90" width="11.21" height="5.07" fill="#00bdff"/>
<rect x="98.40" y="405.90" width="11.21" height="5.07" fill="#00a9ff"/>
<rect x="109.31" y="405.90" width="11.21" height="5.07" fill="#0099ff"/>
<rect x="120.23" y="405.90" width="11.21" height="5.07" fill="#0097ff"/>
<rect x="131.14" y="405.90" width="11.21" height="5.07" fill="#0092ff"/>
<rect x="142.05" y="405.90" width="11.21" height="5.07" fill="#0090ff"/>
<rect x="152.97" y="405.90" width="11.21" height="5.07" fill="#008dff"/>
<rect x="163.88" y="405.90" width="11.21" height="5.07" fill="#008aff"/>
<rect x="174.79" y="405.90" width="11.21" height="5.07" fill="#008cff"/>
<rect x="185.71" y="405.90" width="11.21" height="5.07" fill="#0090ff"/>
<rect x="196.62" y="405.90" width="11.21" height="5.07" fill="#0095ff"/>
<rect x="207.54" y="405.90" width="11.21" height="5.07" fill="#0098ff"/>
<rect x="218.45" y="405.90" width="11.21" height="5.07" fill="#0091ff"/>
<rect x="229.36" y="405.90" width="11.21" height="5.07" fill="#007eff"/>
<rect x="240.28" y="405.90" width="11.21" height="5.07" fill="#0075ff"/>
<rect x="251.19" y="405.90" width="11.21" height="5.07" fill="#0062ff"/>
<rect x="262.11" y="405.90" width="11.21" height="5.07" fill="#005bff"/>
<rect x="273.02" y="405.90" width="11.21" height="5.07" fill="#0054ff"/>
<rect x="283.93" y="405.90" width="11.21" height="5.07" fill="#0049ff"/>
<rect x="294.85" y="405.90" width="11.21" height="5.07" fill="#0027ff"/>
<rect x="305.76" y="405.90" width="11.21" height="5.07" fill="#0021ff"/>
<rect x="316.67" y="405.90" width="11.21" height="5.07" fill="#001fff"/>
<rect x="327.59" y="405.90" width="11.21" height="5.07" fill="#001fff"/>
<rect x="338.50" y="405.90" width="11.21" height="5.07" fill="#001fff"/>
<rect x="349.42" y="405.90" width="11.21" height="5.07" fill="#0022ff"/>
<rect x="360.33" y="405.90" width="11.21" height="5.07" fill="#002eff"/>
<rect x="371.24" y="405.90" width="5.76" height="5.07" fill="#004aff"/>
<rect x="60.20" y="410.67" width="5.76" height="9.84" fill="#00ffeb"/>
<rect x="65.66" y="410.67" width="11.21" height="9.84" fill="#00ffd1"/>
<rect x="76.57" y="410.67" width="11.21" height="9.84" fill="#00fff9"/>
<rect x="87.48" y="410.67" width="11.21" height="9.84" fill="#00ddff"/>
<rect x="98.40" y="410.67" width="11.21" height="9.84" fill="#00beff"/>
<rect x="109.31" y="410.67" width="11.21" height="9.84" fill="#00a9ff"/>
<rect x="120.23" y="410.67" width="11.21" height="9.84" fill="#00a4ff"/>
<rect x="131.14" y="410.67" width="11.21" height="9.84" fill="#00a1ff"/>
<rect x="142.05" y="410.67" width="11.21" height="9.84" fill="#00a1ff"/>
<rect x="152.97" y="410.67" width="11.21" height="9.84" fill="#00a0ff"/>
<rect x="163.88" y="410.67" width="11.21" height="9.84" fill="#009fff"/>
<rect x="174.79" y="410.67" width="11.21" height="9.84" fill="#00a0ff"/>
<rect x="185.71" y="410.67" width="11.21" height="9.84" fill="#00a3ff"/>
<rect x="196.62" y="410.67" width="11.21" height="9.84" fill="#00a7ff"/>
<rect x="207.54" y="410.67" width="11.21" height="9.84" fill="#00aaff"/>
<rect x="218.45" y="410.67" width="11.21" height="9.84" fill="#009fff"/>
<rect x="229.36" y="410.67" width="11.21" height="9.84" fill="#008eff"/>
<rect x="240.28" y="410.67" width="11.21" height="9.84" fill="#007cff"/>
<rect x="251.19" y="410.67" width="11.21" height="9.84" fill="#006fff"/>
<rect x="262.11" y="410.67" width="11.21" height="9.84" fill="#0066ff"/>
<rect x="273.02" y="410.67" width="11.21" height="9.84" fill="#005bff"/>
<rect x="283.93" y="410.67" width="11.21" height="9.84" fill="#004aff"/>
<rect x="294.85" y="410.67" width="11.21" height="9.84" fill="#003aff"/>
<rect x="305.76" y="410.67" width="11.21" height="9.84" fill="#0030ff"/>
<rect x="316.67" y="410.67" width="11.21" height="9.84" fill="#002cff"/>
<rect x="327.59" y="410.67" width="11.21" height="9.84" fill="#002bff"/>
<rect x="338.50" y="410.67" width="11.21" height="9.84" fill="#002cff"/>
<rect x="349.42" y="410.67" width="11.21" height="9.84" fill="#0031ff"/>
<rect x="360.33" y="410.67" width="11.21" height="9.84" fill="#003dff"/>
<rect x="371.24" y="410.67" width="5.76" height="9.84" fill="#004dff"/>
<rect x="60.20" y="420.21" width="5.76" height="9.84" fill="#00ffde"/>
<rect x="65.66" y="420.21" width="11.21" height="9.84" fill="#00ffc2"/>
<rect x="76.57" y="420.21" width="11.21" height="9.84" fill="#00ffe4"/>
<rect x="87.48" y="420.21" width="11.21" height="9.84" fill="#00f8ff"/>
<rect x="98.40" y="420.21" width="11.21" height="9.84" fill="#00daff"/>
<rect x="109.31" y="420.21" width="11.21" height="9.84" fill="#00c3ff"/>
<rect x="120.23" y="420.21" width="11.21" height="9.84" fill="#00beff"/>
<rect x="131.14" y="420.21" width="11.21" height="9.84" fill="#00bbff"/>
<rect x="142.05" y="420.21" width="11.21" height="9.84" fill="#00beff"/>
<rect x="152.97" y="420.21" width="11.21" height="9.84" fill="#00bdff"/>
<rect x="163.88" y="420.21" width="11.21" height="9.84" fill="#00baff"/>
<rect x="174.79" y="420.21" width="11.21" height="9.84" fill="#00bbff"/>
<rect x="185.71" y="420.21" width="11.21" height="9.84" fill="#00beff"/>
<rect x="196.62" y="420.21" width="11.21" height="9.84" fill="#00c2ff"/>
<rect x="207.54" y="420.21" width="11.21" height="9.84" fill="#00c5ff"/>
<rect x="218.45" y="420.21" width="11.21" height="9.84" fill="#00baff"/>
<rect x="229.36" y="420.21" width="11.21" height="9.84" fill="#00a5ff"/>
<rect x="240.28" y="420.21" width="11.21" height="9.84" fill="#008fff"/>
<rect x="251.19" y="420.21" width="11.21" height="9.84" fill="#0080ff"/>
<rect x="262.11" y="420.21" width="11.21" height="9.84" fill="#0077ff"/>
<rect x="273.02" y="420.21" width="11.21" height="9.84" fill="#006aff"/>
<rect x="283.93" y="420.21" width="11.21" height="9.84" fill="#0057ff"/>
<rect x="294.85" y="420.21" width="11.21" height="9.84" fill="#0048ff"/>
<rect x="305.76" y="420.21" width="11.21" height="9.84" fill="#0040ff"/>
<rect x="316.67" y="420.21" width="11.21" height="9.84" fill="#003dff"/>
<rect x="327.59" y="420.21" width="11.21" height="9.84" fill="#003dff"/>
<rect x="338.50" y="420.21" width="11.21" height="9.84" fill="#003dff"/>
<rect x="349.42" y="420.21" width="11.21" height="9.84" fill="#0041ff"/>
<rect x="360.33" y="420.21" width="11.21" height="9.84" fill="#004bff"/>
<rect x="371.24" y="420.21" width="5.76" height="9.84" fill="#0058ff"/>
<rect x="60.20" y="429.75" width="5.76" height="9.84" fill="#00ffc9"/>
<rect x="65.66" y="429.75" width="11.21" height="9.84" fill="#00ffb2"/>
<rect x="76.57" y="429.75" width="11.21" height="9.84" fill="#00ffd0"/>
<rect x="87.48" y="429.75" width="11.21" height="9.84" fill="#00ffec"/>
<rect x="98.40" y="429.75" width="11.21" height="9.84" fill="#00f8ff"/>
<rect x="109.31" y="429.75" width="11.21" height="9.84" fill="#00e3ff"/>
<rect x="120.23" y="429.75" width="11.21" height="9.84" fill="#00dfff"/>
<rect x="131.14" y="429.75" width="11.21" height="9.84" fill="#00deff"/>
<rect x="142.05" y="429.75" width="11.21" height="9.84" fill="#00e1ff"/>
<rect x="152.97" y="429.75" width="11.21" height="9.84" fill="#00e1ff"/>
<rect x="163.88" y="429.75" width="11.21" height="9.84" fill="#00deff"/>
<rect x="174.79" y="429.75" width="11.21" height="9.84" fill="#00dfff"/>
<rect x="185.71" y="429.75" width="11.21" height="9.84" fill="#00e2ff"/>
<rect x="196.62" y="429.75" width="11.21" height="9.84" fill="#00e6ff"/>
<rect x="207.54" y="429.75" width="11.21" height="9.84" fill="#00eaff"/>
<rect x="218.45" y="429.75" width="11.21" height="9.84" fill="#00dfff"/>
<rect x="229.36" y="429.75" width="11.21" height="9.84" fill="#00c8ff"/>
<rect x="240.28" y="429.75" width="11.21" height="9.84" fill="#00abff"/>
<rect x="251.19" y="429.75" width="11.21" height="9.84" fill="#0099ff"/>
<rect x="262.11" y="429.75" width="11.21" height="9.84" fill="#008eff"/>
<rect x="273.02" y="429.75" width="11.21" height="9.84" fill="#0081ff"/>
<rect x="283.93" y="429.75" width="11.21" height="9.84" fill="#006cff"/>
<rect x="294.85" y="429.75" width="11.21" height="9.84" fill="#005cff"/>
<rect x="305.76" y="429.75" width="11.21" height="9.84" fill="#0054ff"/>
<rect x="316.67" y="429.75" width="11.21" height="9.84" fill="#0052ff"/>
<rect x="327.59" y="429.75" width="11.21" height="9.84" fill="#0051ff"/>
<rect x="338.50" y="429.75" width="11.21" height="9.84" fill="#0052ff"/>
<rect x="349.42" y="429.75" width="11.21" height="9.84" fill="#0054ff"/>
<rect x="360.33" y="429.75" width="11.21" height="9.84" fill="#005bff"/>
<rect x="371.24" y="429.75" width="5.76" height="9.84" fill="#0065ff"/>
<rect x="60.20" y="439.29" width="5.76" height="9.84" fill="#00ffac"/>
<rect x="65.66" y="439.29" width="11.21" height="9.84" fill="#00ffd2"/>
<rect x="76.57" y="439.29" width="11.21" height="9.84" fill="#00ffe6"/>
<rect x="87.48" y="439.29" width="11.21" height="9.84" fill="#00fff1"/>
<rect x="98.40" y="439.29" width="11.21" height="9.84" fill="#00fff8"/>
<rect x="109.31" y="439.29" width="11.21" height="9.84" fill="#00fffc"/>
<rect x="120.23" y="439.29" width="11.21" height="9.84" fill="#00fffd"/>
<rect x="131.14" y="439.29" width="11.21" height="9.84" fill="#00fffe"/>
<rect x="142.05" y="439.29" width="11.21" height="9.84" fill="#00feff"/>
<rect x="152.97" y="439.29" width="11.21" height="9.84" fill="#00fbff"/>
<rect x="163.88" y="439.29" width="11.21" height="9.84" fill="#00f5ff"/>
<rect x="174.79" y="439.29" width="11.21" height="9.84" fill="#00f2ff"/>
<rect x="185.71" y="439.29" width="11.21" height="9.84" fill="#00f1ff"/>
<rect x="196.62" y="439.29" width="11.21" height="9.84" fill="#00f1ff"/>
<rect x="207.54" y="439.29" width="11.21" height="9.84" fill="#00f0ff"/>
<rect x="218.45" y="439.29" width="11.21" height="9.84" fill="#00ebff"/>
<rect x="229.36" y="439.29" width="11.21" height="9.84" fill="#00d8ff"/>
<rect x="240.28" y="439.29" width="11.21" height="9.84" fill="#00bcff"/>
<rect x="251.19" y="439.29" width="11.21" height="9.84" fill="#00abff"/>
<rect x="262.11" y="439.29" width="11.21" height="9.84" fill="#00a3ff"/>
<rect x="273.02" y="439.29" width="11.21" height="9.84" fill="#0097ff"/>
<rect x="283.93" y="439.29" width="11.21" height="9.84" fill="#0083ff"/>
<rect x="294.85" y="439.29" width="11.21" height="9.84" fill="#0071ff"/>
<rect x="305.76" y="439.29" width="11.21" height="9.84" fill="#0068ff"/>
<rect x="316.67" y="439.29" width="11.21" height="9.84" fill="#0067ff"/>
<rect x="327.59" y="439.29" width="11.21" height="9.84" fill="#0067ff"/>
<rect x="338.50" y="439.29" width="11.21" height="9.84" fill="#0067ff"/>
<rect x="349.42" y="439.29" width="11.21" height="9.84" fill="#0068ff"/>
<rect x="360.33" y="439.29" width="11.21" height="9.84" fill="#006dff"/>
<rect x="371.24" y="439.29" width="5.76" height="9.84" fill="#0076ff"/>
<rect x="60.20" y="448.84" width="5.76" height="9.84" fill="#00ff8c"/>
<rect x="65.66" y="448.84" width="11.21" height="9.84" fill="#00ffaf"/>
<rect x="76.57" y="448.84" width="11.21" height="9.84" fill="#00ffc7"/>
<rect x="87.48" y="448.84" width="11.21" height="9.84" fill="#00ffd1"/>
<rect x="98.40" y="448.84" width="11.21" height="9.84" fill="#00ffd4"/>
<rect x="109.31" y="448.84" width="11.21" height="9.84" fill="#00ffd6"/>
<rect x="120.23" y="448.84" width="11.21" height="9.84" fill="#00ffd6"/>
<rect x="131.14" y="448.84" width="11.21" height="9.84" fill="#00ffd7"/>
<rect x="142.05" y="448.84" width="11.21" height="9.84" fill="#00ffd8"/>
<rect x="152.97" y="448.84" width="11.21" height="9.84" fill="#00ffdb"/>
<rect x="163.88" y="448.84" width="11.21" height="9.84" fill="#00ffdf"/>
<rect x="174.79" y="448.84" width="11.21" height="9.84" fill="#00ffe2"/>
<rect x="185.71" y="448.84" width="11.21" height="9.84" fill="#00ffe3"/>
<rect x="196.62" y="448.84" width="11.21" height="9.84" fill="#00ffe3"/>
<rect x="207.54" y="448.84" width="11.21" height="9.84" fill="#00ffe4"/>
<rect x="218.45" y="448.84" width="11.21" height="9.84" fill="#00ffed"/>
<rect x="229.36" y="448.84" width="11.21" height="9.84" fill="#00fdff"/>
<rect x="240.28" y="448.84" width="11.21" height="9.84" fill="#00e2ff"/>
<rect x="251.19" y="448.84" width="11.21" height="9.84" fill="#00d2ff"/>
<rect x="262.11" y="448.84" width="11.21" height="9.84" fill="#00c6ff"/>
<rect x="273.02" y="448.84" width="11.21" height="9.84" fill="#00b5ff"/>
<rect x="283.93" y="448.84" width="11.21" height="9.84" fill="#009dff"/>
<rect x="294.85" y="448.84" width="11.21" height="9.84" fill="#0089ff"/>
<rect x="305.76" y="448.84" width="11.21" height="9.84" fill="#0080ff"/>
<rect x="316.67" y="448.84" width="11.21" height="9.84" fill="#007eff"/>
<rect x="327.59" y="448.84" width="11.21" height="9.84" fill="#007dff"/>
<rect x="338.50" y="448.84" width="11.21" height="9.84" fill="#007eff"/>
<rect x="349.42" y="448.84" width="11.21" height="9.84" fill="#007fff"/>
<rect x="360.33" y="448.84" width="11.21" height="9.84" fill="#0084ff"/>
<rect x="371.24" y="448.84" width="5.76" height="9.84" fill="#008cff"/>
<rect x="60.20" y="458.38" width="5.76" height="9.84" fill="#00ff64"/>
<rect x="65.66" y="458.38" width="11.21" height="9.84" fill="#00ff83"/>
<rect x="76.57" y="458.38" width="11.21" height="9.84" fill="#00ff9d"/>
<rect x="87.48" y="458.38" width="11.21" height="9.84" fill="#00ffa7"/>
<rect x="98.40" y="458.38" width="11.21" height="9.84" fill="#00ffaa"/>
<rect x="109.31" y="458.38" width="11.21" height="9.84" fill="#00ffaa"/>
<rect x="120.23" y="458.38" width="11.21" height="9.84" fill="#00ffab"/>
<rect x="131.14" y="458.38" width="11.21" height="9.84" fill="#00ffab"/>
<rect x="142.05" y="458.38" width="11.21" height="9.84" fill="#00ffac"/>
<rect x="152.97" y="458.38" width="11.21" height="9.84" fill="#00ffaf"/>
<rect x="163.88" y="458.38" width="11.21" height="9.84" fill="#00ffb4"/>
<rect x="174.79" y="458.38" width="11.21" height="9.84" fill="#00ffb7"/>
<rect x="185.71" y="458.38" width="11.21" height="9.84" fill="#00ffb8"/>
<rect x="196.62" y="458.38" width="11.21" height="9.84" fill="#00ffb9"/>
<rect x="207.54" y="458.38" width="11.21" height="9.84" fill="#00ffbb"/>
<rect x="218.45" y="458.38" width="11.21" height="9.84" fill="#00ffca"/>
<rect x="229.36" y="458.38" width="11.21" height="9.84" fill="#00ffe2"/>
<rect x="240.28" y="458.38" width="11.21" height="9.84" fill="#00fff8"/>
<rect x="251.19" y="458.38" width="11.21" height="9.84" fill="#00f9ff"/>
<rect x="262.11" y="458.38" width="11.21" height="9.84" fill="#00eaff"/>
<rect x="273.02" y="458.38" width="11.21" height="9.84" fill="#00d5ff"/>
<rect x="283.93" y="458.38" width="11.21" height="9.84" fill="#00baff"/>
<rect x="294.85" y="458.38" width="11.21" height="9.84" fill="#00a4ff"/>
<rect x="305.76" y="458.38" width="11.21" height="9.84" fill="#0099ff"/>
<rect x="316.67" y="458.38" width="11.21" height="9.84" fill="#0096ff"/>
<rect x="327.59" y="458.38" width="11.21" height="9.84" fill="#0096ff"/>
<rect x="338.50" y="458.38" width="11.21" height="9.84" fill="#0096ff"/>
<rect x="349.42" y="458.38" width="11.21" height="9.84" fill="#0097ff"/>
<rect x="360.33" y="458.38" width="11.21" height="9.84" fill="#009dff"/>
<rect x="371.24" y="458.38" width="5.76" height="9.84" fill="#00a6ff"/>
<rect x="60.20" y="467.92" width="5.76" height="9.84" fill="#00ff37"/>
<rect x="65.66" y="467.92" width="11.21" height="9.84" fill="#00ff52"/>
<rect x="76.57" y="467.92" width="11.21" height="9.84" fill="#00ff6b"/>
<rect x="87.48" y="467.92" width="11.21" height="9.84" fill="#00ff76"/>
<rect x="98.40" y="467.92" width="11.21" height="9.84" fill="#00ff79"/>
<rect x="109.31" y="467.92" width="11.21" height="9.84" fill="#00ff7a"/>
<rect x="120.23" y="467.92" width="11.21" height="9.84" fill="#00ff7b"/>
<rect x="131.14" y="467.92" width="11.21" height="9.84" fill="#00ff7c"/>
<rect x="142.05" y="467.92" width="11.21" height="9.84" fill="#00ff7e"/>
<rect x="152.97" y="467.92" width="11.21" height="9.84" fill="#00ff81"/>
<rect x="163.88" y="467.92" width="11.21" height="9.84" fill="#00ff85"/>
<rect x="174.79" y="467.92" width="11.21" height="9.84" fill="#00ff89"/>
<rect x="185.71" y="467.92" width="11.21" height="9.84" fill="#00ff8b"/>
<rect x="196.62" y="467.92" width="11.21" height="9.84" fill="#00ff8d"/>
<rect x="207.54" y="467.92" width="11.21" height="9.84" fill="#00ff92"/>
<rect x="218.45" y="467.92" width="11.21" height="9.84" fill="#00ffa5"/>
<rect x="229.36" y="467.92" width="11.21" height="9.84" fill="#00ffc1"/>
<rect x="240.28" y="467.92" width="11.21" height="9.84" fill="#00ffd7"/>
<rect x="251.19" y="467.92" width="11.21" height="9.84" fill="#00ffe4"/>
<rect x="262.11" y="467.92" width="11.21" height="9.84" fill="#00fff5"/>
<rect x="273.02" y="467.92" width="11.21" height="9.84" fill="#00f2ff"/>
<rect x="283.93" y="467.92" width="11.21" height="9.84" fill="#00d6ff"/>
<rect x="294.85" y="467.92" width="11.21" height="9.84" fill="#00beff"/>
<rect x="305.76" y="467.92" width="11.21" height="9.84" fill="#00b1ff"/>
<rect x="316.67" y="467.92" width="11.21" height="9.84" fill="#00abff"/>
<rect x="327.59" y="467.92" width="11.21" height="9.84" fill="#00a9ff"/>
<rect x="338.50" y="467.92" width="11.21" height="9.84" fill="#00a9ff"/>
<rect x="349.42" y="467.92" width="11.21" height="9.84" fill="#00abff"/>
<rect x="360.33" y="467.92" width="11.21" height="9.84" fill="#00b3ff"/>
<rect x="371.24" y="467.92" width="5.76" height="9.84" fill="#00bdff"/>
<rect x="60.20" y="477.46" width="5.76" height="9.84" fill="#00ff17"/>
<rect x="65.66" y="477.46" width="11.21" height="9.84" fill="#00ff25"/>
<rect x="76.57" y="477.46" width="11.21" height="9.84" fill="#00ff3d"/>
<rect x="87.48" y="477.46" width="11.21" height="9.84" fill="#00ff49"/>
<rect x="98.40" y="477.46" width="11.21" height="9.84" fill="#00ff4c"/>
<rect x="109.31" y="477.46" width="11.21" height="9.84" fill="#00ff4e"/>
<rect x="120.23" y="477.46" width="11.21" height="9.84" fill="#00ff4f"/>
<rect x="131.14" y="477.46" width="11.21" height="9.84" fill="#00ff51"/>
<rect x="142.05" y="477.46" width="11.21" height="9.84" fill="#00ff53"/>
<rect x="152.97" y="477.46" width="11.21" height="9.84" fill="#00ff55"/>
<rect x="163.88" y="477.46" width="11.21" height="9.84" fill="#00ff59"/>
<rect x="174.79" y="477.46" width="11.21" height="9.84" fill="#00ff5d"/>
<rect x="185.71" y="477.46" width="11.21" height="9.84" fill="#00ff60"/>
<rect x="196.62" y="477.46" width="11.21" height="9.84" fill="#00ff63"/>
<rect x="207.54" y="477.46" width="11.21" height="9.84" fill="#00ff6b"/>
<rect x="218.45" y="477.46" width="11.21" height="9.84" fill="#00ff83"/>
<rect x="229.36" y="477.46" width="11.21" height="9.84" fill="#00ff9f"/>
<rect x="240.28" y="477.46" width="11.21" height="9.84" fill="#00ffb4"/>
<rect x="251.19" y="477.46" width="11.21" height="9.84" fill="#00ffc4"/>
<rect x="262.11" y="477.46" width="11.21" height="9.84" fill="#00ffd9"/>
<rect x="273.02" y="477.46" width="11.21" height="9.84" fill="#00fff2"/>
<rect x="283.93" y="477.46" width="11.21" height="9.84" fill="#00f1ff"/>
<rect x="294.85" y="477.46" width="11.21" height="9.84" fill="#00d8ff"/>
<rect x="305.76" y="477.46" width="11.21" height="9.84" fill="#00c9ff"/>
<rect x="316.67" y="477.46" width="11.21" height="9.84" fill="#00bfff"/>
<rect x="327.59" y="477.46" width="11.21" height="9.84" fill="#00b9ff"/>
<rect x="338.50" y="477.46" width="11.21" height="9.84" fill="#00b8ff"/>
<rect x="349.42" y="477.46" width="11.21" height="9.84" fill="#00bbff"/>
<rect x="360.33" y="477.46" width="11.21" height="9.84" fill="#00c4ff"/>
<rect x="371.24" y="477.46" width="5.76" height="9.84" fill="#00ceff"/>
<rect x="60.20" y="487.00" width="5.76" height="9.84" fill="#01ff00"/>
<rect x="65.66" y="487.00" width="11.21" height="9.84" fill="#00ff0d"/>
<rect x="76.57" y="487.00" width="11.21" height="9.84" fill="#00ff24"/>
<rect x="87.48" y="487.00" width="11.21" height="9.84" fill="#00ff31"/>
<rect x="98.40" y="487.00" width="11.21" height="9.84" fill="#00ff36"/>
<rect x="109.31" y="487.00" width="11.21" height="9.84" fill="#00ff39"/>
<rect x="120.23" y="487.00" width="11.21" height="9.84" fill="#00ff3b"/>
<rect x="131.14" y="487.00" width="11.21" height="9.84" fill="#00ff3c"/>
<rect x="142.05" y="487.00" width="11.21" height="9.84" fill="#00ff3e"/>
<rect x="152.97" y="487.00" width="11.21" height="9.84" fill="#00ff3f"/>
<rect x="163.88" y="487.00" width="11.21" height="9.84" fill="#00ff40"/>
<rect x="174.79" y="487.00" width="11.21" height="9.84" fill="#00ff43"/>
<rect x="185.71" y="487.00" width="11.21" height="9.84" fill="#00ff47"/>
<rect x="196.62" y="487.00" width="11.21" height="9.84" fill="#00ff4d"/>
<rect x="207.54" y="487.00" width="11.21" height="9.84" fill="#00ff57"/>
<rect x="218.45" y="487.00" width="11.21" height="9.84" fill="#00ff6c"/>
<rect x="229.36" y="487.00" width="11.21" height="9.84" fill="#00ff82"/>
<rect x="240.28" y="487.00" width="11.21" height="9.84" fill="#00ff92"/>
<rect x="251.19" y="487.00" width="11.21" height="9.84" fill="#00ffa3"/>
<rect x="262.11" y="487.00" width="11.21" height="9.84" fill="#00ffb9"/>
<rect x="273.02" y="487.00" width="11.21" height="9.84" fill="#00ffd4"/>
<rect x="283.93" y="487.00" width="11.21" height="9.84" fill="#00fff1"/>
<rect x="294.85" y="487.00" width="11.21" height="9.84" fill="#00f3ff"/>
<rect x="305.76" y="487.00" width="11.21" height="9.84" fill="#00e3ff"/>
<rect x="316.67" y="487.00" width="11.21" height="9.84" fill="#00d6ff"/>
<rect x="327.59" y="487.00" width="11.21" height="9.84" fill="#00cfff"/>
<rect x="338.50" y="487.00" width="11.21" height="9.84" fill="#00ccff"/>
<rect x="349.42" y="487.00" width="11.21" height="9.84" fill="#00cfff"/>
<rect x="360.33" y="487.00" width="11.21" height="9.84" fill="#00d6ff"/>
<rect x="371.24" y="487.00" width="5.76" height="9.84" fill="#00deff"/>
<rect x="60.20" y="496.54" width="5.76" height="9.84" fill="#1dff00"/>
<rect x="65.66" y="496.54" width="11.21" height="9.84" fill="#08ff00"/>
<rect x="76.57" y="496.54" width="11.21" height="9.84" fill="#00ff0f"/>
<rect x="87.48" y="496.54" width="11.21" height="9.84" fill="#00ff1e"/>
<rect x="98.40" y="496.54" width="11.21" height="9.84" fill="#00ff26"/>
<rect x="109.31" y="496.54" width="11.21" height="9.84" fill="#00ff2a"/>
<rect x="120.23" y="496.54" width="11.21" height="9.84" fill="#00ff2d"/>
<rect x="131.14" y="496.54" width="11.21" height="9.84" fill="#00ff2f"/>
<rect x="142.05" y="496.54" width="11.21" height="9.84" fill="#00ff2f"/>
<rect x="152.97" y="496.54" width="11.21" height="9.84" fill="#00ff2f"/>
<rect x="163.88" y="496.54" width="11.21" height="9.84" fill="#00ff2f"/>
<rect x="174.79" y="496.54" width="11.21" height="9.84" fill="#00ff30"/>
<rect x="185.71" y="496.54" width="11.21" height="9.84" fill="#00ff34"/>
<rect x="196.62" y="496.54" width="11.21" height="9.84" fill="#00ff3a"/>
<rect x="207.54" y="496.54" width="11.21" height="9.84" fill="#00ff42"/>
<rect x="218.45" y="496.54" width="11.21" height="9.84" fill="#00ff52"/>
<rect x="229.36" y="496.54" width="11.21" height="9.84" fill="#00ff62"/>
<rect x="240.28" y="496.54" width="11.21" height="9.84" fill="#00ff70"/>
<rect x="251.19" y="496.54" width="11.21" height="9.84" fill="#00ff82"/>
<rect x="262.11" y="496.54" width="11.21" height="9.84" fill="#00ff9a"/>
<rect x="273.02" y="496.54" width="11.21" height="9.84" fill="#00ffb6"/>
<rect x="283.93" y="496.54" width="11.21" height="9.84" fill="#00ffd6"/>
<rect x="294.85" y="496.54" width="11.21" height="9.84" fill="#00fff3"/>
<rect x="305.76" y="496.54" width="11.21" height="9.84" fill="#00f8ff"/>
<rect x="316.67" y="496.54" width="11.21" height="9.84" fill="#00ebff"/>
<rect x="327.59" y="496.54" width="11.21" height="9.84" fill="#00e4ff"/>
<rect x="338.50" y="496.54" width="11.21" height="9.84" fill="#00e1ff"/>
<rect x="349.42" y="496.54" width="11.21" height="9.84" fill="#00e2ff"/>
<rect x="360.33" y="496.54" width="11.21" height="9.84" fill="#00e6ff"/>
<rect x="371.24" y="496.54" width="5.76" height="9.84" fill="#00ecff"/>
<rect x="60.20" y="506.08" width="5.76" height="9.84" fill="#32ff00"/>
<rect x="65.66" y="506.08" width="11.21" height="9.84" fill="#16ff00"/>
<rect x="76.57" y="506.08" width="11.21" height="9.84" fill="#00ff02"/>
<rect x="87.48" y="506.08" width="11.21" height="9.84" fill="#00ff12"/>
<rect x="98.40" y="506.08" width="11.21" height="9.84" fill="#00ff1b"/>
<rect x="109.31" y="506.08" width="11.21" height="9.84" fill="#00ff20"/>
<rect x="120.23" y="506.08" width="11.21" height="9.84" fill="#00ff23"/>
<rect x="131.14" y="506.08" width="11.21" height="9.84" fill="#00ff24"/>
<rect x="142.05" y="506.08" width="11.21" height="9.84" fill="#00ff25"/>
<rect x="152.97" y="506.08" width="11.21" height="9.84" fill="#00ff25"/>
<rect x="163.88" y="506.08" width="11.21" height="9.84" fill="#00ff24"/>
<rect x="174.79" y="506.08" width="11.21" height="9.84" fill="#00ff25"/>
<rect x="185.71" y="506.08" width="11.21" height="9.84" fill="#00ff28"/>
<rect x="196.62" y="506.08" width="11.21" height="9.84" fill="#00ff2d"/>
<rect x="207.54" y="506.08" width="11.21" height="9.84" fill="#00ff34"/>
<rect x="218.45" y="506.08" width="11.21" height="9.84" fill="#00ff3f"/>
<rect x="229.36" y="506.08" width="11.21" height="9.84" fill="#00ff4c"/>
<rect x="240.28" y="506.08" width="11.21" height="9.84" fill="#00ff59"/>
<rect x="251.19" y="506.08" width="11.21" height="9.84" fill="#00ff6d"/>
<rect x="262.11" y="506.08" width="11.21" height="9.84" fill="#00ff83"/>
<rect x="273.02" y="506.08" width="11.21" height="9.84" fill="#00ff9d"/>
<rect x="283.93" y="506.08" width="11.21" height="9.84" fill="#00ffbe"/>
<rect x="294.85" y="506.08" width="11.21" height="9.84" fill="#00ffde"/>
<rect x="305.76" y="506.08" width="11.21" height="9.84" fill="#00fff4"/>
<rect x="316.67" y="506.08" width="11.21" height="9.84" fill="#00fbff"/>
<rect x="327.59" y="506.08" width="11.21" height="9.84" fill="#00f2ff"/>
<rect x="338.50" y="506.08" width="11.21" height="9.84" fill="#00eeff"/>
<rect x="349.42" y="506.08" width="11.21" height="9.84" fill="#00eeff"/>
<rect x="360.33" y="506.08" width="11.21" height="9.84" fill="#00f2ff"/>
<rect x="371.24" y="506.08" width="5.76" height="9.84" fill="#00f9ff"/>
<rect x="60.20" y="515.63" width="5.76" height="9.84" fill="#46ff00"/>
<rect x="65.66" y="515.63" width="11.21" height="9.84" fill="#20ff00"/>
<rect x="76.57" y="515.63" width="11.21" height="9.84" fill="#07ff00"/>
<rect x="87.48" y="515.63" width="11.21" height="9.84" fill="#00ff0b"/>
<rect x="98.40" y="515.63" width="11.21" height="9.84" fill="#00ff14"/>
<rect x="109.31" y="515.63" width="11.21" height="9.84" fill="#00ff18"/>
<rect x="120.23" y="515.63" width="11.21" height="9.84" fill="#00ff1a"/>
<rect x="131.14" y="515.63" width="11.21" height="9.84" fill="#00ff1c"/>
<rect x="142.05" y="515.63" width="11.21" height="9.84" fill="#00ff1d"/>
<rect x="152.97" y="515.63" width="11.21" height="9.84" fill="#00ff1e"/>
<rect x="163.88" y="515.63" width="11.21" height="9.84" fill="#00ff1e"/>
<rect x="174.79" y="515.63" width="11.21" height="9.84" fill="#00ff1f"/>
<rect x="185.71" y="515.63" width="11.21" height="9.84" fill="#00ff22"/>
<rect x="196.62" y="515.63" width="11.21" height="9.84" fill="#00ff26"/>
<rect x="207.54" y="515.63" width="11.21" height="9.84" fill="#00ff2c"/>
<rect x="218.45" y="515.63" width="11.21" height="9.84" fill="#00ff35"/>
<rect x="229.36" y="515.63" width="11.21" height="9.84" fill="#00ff3f"/>
<rect x="240.28" y="515.63" width="11.21" height="9.84" fill="#00ff4b"/>
<rect x="251.19" y="515.63" width="11.21" height="9.84" fill="#00ff5f"/>
<rect x="262.11" y="515.63" width="11.21" height="9.84" fill="#00ff72"/>
<rect x="273.02" y="515.63" width="11.21" height="9.84" fill="#00ff89"/>
<rect x="283.93" y="515.63" width="11.21" height="9.84" fill="#00ffa8"/>
<rect x="294.85" y="515.63" width="11.21" height="9.84" fill="#00ffcb"/>
<rect x="305.76" y="515.63" width="11.21" height="9.84" fill="#00ffe4"/>
<rect x="316.67" y="515.63" width="11.21" height="9.84" fill="#00fff6"/>
<rect x="327.59" y="515.63" width="11.21" height="9.84" fill="#00feff"/>
<rect x="338.50" y="515.63" width="11.21" height="9.84" fill="#00f9ff"/>
<rect x="349.42" y="515.63" width="11.21" height="9.84" fill="#00f9ff"/>
<rect x="360.33" y="515.63" width="11.21" height="9.84" fill="#00feff"/>
<rect x="371.24" y="515.63" width="5.76" height="9.84" fill="#00fff9"/>
<rect x="60.20" y="525.17" width="5.76" height="9.84" fill="#56ff00"/>
<rect x="65.66" y="525.17" width="11.21" height="9.84" fill="#2fff00"/>
<rect x="76.57" y="525.17" width="11.21" height="9.84" fill="#14ff00"/>
<rect x="87.48" y="525.17" width="11.21" height="9.84" fill="#01ff00"/>
<rect x="98.40" y="525.17" width="11.21" height="9.84" fill="#00ff08"/>
<rect x="109.31" y="525.17" width="11.21" height="9.84" fill="#00ff0c"/>
<rect x="120.23" y="525.17" width="11.21" height="9.84" fill="#00ff0d"/>
<rect x="131.14" y="525.17" width="11.21" height="9.84" fill="#00ff0e"/>
<rect x="142.05" y="525.17" width="11.21" height="9.84" fill="#00ff0f"/>
<rect x="152.97" y="525.17" width="11.21" height="9.84" fill="#00ff10"/>
<rect x="163.88" y="525.17" width="11.21" height="9.84" fill="#00ff11"/>
<rect x="174.79" y="525.17" width="11.21" height="9.84" fill="#00ff13"/>
<rect x="185.71" y="525.17" width="11.21" height="9.84" fill="#00ff16"/>
<rect x="196.62" y="525.17" width="11.21" height="9.84" fill="#00ff1a"/>
<rect x="207.54" y="525.17" width="11.21" height="9.84" fill="#00ff20"/>
<rect x="218.45" y="525.17" width="11.21" height="9.84" fill="#00ff27"/>
<rect x="229.36" y="525.17" width="11.21" height="9.84" fill="#00ff30"/>
<rect x="240.28" y="525.17" width="11.21" height="9.84" fill="#00ff3b"/>
<rect x="251.19" y="525.17" width="11.21" height="9.84" fill="#00ff4f"/>
<rect x="262.11" y="525.17" width="11.21" height="9.84" fill="#00ff62"/>
<rect x="273.02" y="525.17" width="11.21" height="9.84" fill="#00ff78"/>
<rect x="283.93" y="525.17" width="11.21" height="9.84" fill="#00ff97"/>
<rect x="294.85" y="525.17" width="11.21" height="9.84" fill="#00ffbb"/>
<rect x="305.76" y="525.17" width="11.21" height="9.84" fill="#00ffd5"/>
<rect x="316.67" y="525.17" width="11.21" height="9.84" fill="#00ffe8"/>
<rect x="327.59" y="525.17" width="11.21" height="9.84" fill="#00fff3"/>
<rect x="338.50" y="525.17" width="11.21" height="9.84" fill="#00fff8"/>
<rect x="349.42" y="525.17" width="11.21" height="9.84" fill="#00fff8"/>
<rect x="360.33" y="525.17" width="11.21" height="9.84" fill="#00fff4"/>
<rect x="371.24" y="525.17" width="5.76" height="9.84" fill="#00ffec"/>
<rect x="60.20" y="534.71" width="5.76" height="9.84" fill="#66ff00"/>
<rect x="65.66" y="534.71" width="11.21" height="9.84" fill="#3dff00"/>
<rect x="76.57" y="534.71" width="11.21" height="9.84" fill="#1fff00"/>
<rect x="87.48" y="534.71" width="11.21" height="9.84" fill="#0aff00"/>
<rect x="98.40" y="534.71" width="11.21" height="9.84" fill="#00ff00"/>
<rect x="109.31" y="534.71" width="11.21" height="9.84" fill="#00ff02"/>
<rect x="120.23" y="534.71" width="11.21" height="9.84" fill="#00ff03"/>
<rect x="131.14" y="534.71" width="11.21" height="9.84" fill="#00ff03"/>
<rect x="142.05" y="534.71" width="11.21" height="9.84" fill="#00ff03"/>
<rect x="152.97" y="534.71" width="11.21" height="9.84" fill="#00ff04"/>
<rect x="163.88" y="534.71" width="11.21" height="9.84" fill="#00ff05"/>
<rect x="174.79" y="534.71" width="11.21" height="9.84" fill="#00ff08"/>
<rect x="185.71" y="534.71" width="11.21" height="9.84" fill="#00ff0c"/>
<rect x="196.62" y="534.71" width="11.21" height="9.84" fill="#00ff10"/>
<rect x="207.54" y="534.71" width="11.21" height="9.84" fill="#00ff15"/>
<rect x="218.45" y="534.71" width="11.21" height="9.84" fill="#00ff1b"/>
<rect x="229.36" y="534.71" width="11.21" height="9.84" fill="#00ff22"/>
<rect x="240.28" y="534.71" width="11.21" height="9.84" fill="#00ff2b"/>
<rect x="251.19" y="534.71" width="11.21" height="9.84" fill="#00ff3c"/>
<rect x="262.11" y="534.71" width="11.21" height="9.84" fill="#00ff4c"/>
<rect x="273.02" y="534.71" width="11.21" height="9.84" fill="#00ff60"/>
<rect x="283.93" y="534.71" width="11.21" height="9.84" fill="#00ff7d"/>
<rect x="294.85" y="534.71" width="11.21" height="9.84" fill="#00ffa0"/>
<rect x="305.76" y="534.71" width="11.21" height="9.84" fill="#00ffb9"/>
<rect x="316.67" y="534.71" width="11.21" height="9.84" fill="#00ffcd"/>
<rect x="327.59" y="534.71" width="11.21" height="9.84" fill="#00ffd8"/>
<rect x="338.50" y="534.71" width="11.21" height="9.84" fill="#00ffdc"/>
<rect x="349.42" y="534.71" width="11.21" height="9.84" fill="#00ffdd"/>
<rect x="360.33" y="534.71" width="11.21" height="9.84" fill="#00ffd8"/>
<rect x="371.24" y="534.71" width="5.76" height="9.84" fill="#00ffd0"/>
<rect x="60.20" y="544.25" width="5.76" height="9.84" fill="#76ff00"/>
<rect x="65.66" y="544.25" width="11.21" height="9.84" fill="#49ff00"/>
<rect x="76.57" y="544.25" width="11.21" height="9.84" fill="#28ff00"/>
<rect x="87.48" y="544.25" width="11.21" height="9.84" fill="#11ff00"/>
<rect x="98.40" y="544.25" width="11.21" height="9.84" fill="#07ff00"/>
<rect x="109.31" y="544.25" width="11.21" height="9.84" fill="#05ff00"/>
<rect x="120.23" y="544.25" width="11.21" height="9.84" fill="#05ff00"/>
<rect x="131.14" y="544.25" width="11.21" height="9.84" fill="#05ff00"/>
<rect x="142.05" y="544.25" width="11.21" height="9.84" fill="#05ff00"/>
<rect x="152.97" y="544.25" width="11.21" height="9.84" fill="#04ff00"/>
<rect x="163.88" y="544.25" width="11.21" height="9.84" fill="#03ff00"/>
<rect x="174.79" y="544.25" width="11.21" height="9.84" fill="#00ff00"/>
<rect x="185.71" y="544.25" width="11.21" height="9.84" fill="#00ff04"/>
<rect x="196.62" y="544.25" width="11.21" height="9.84" fill="#00ff08"/>
<rect x="207.54" y="544.25" width="11.21" height="9.84" fill="#00ff0b"/>
<rect x="218.45" y="544.25" width="11.21" height="9.84" fill="#00ff10"/>
<rect x="229.36" y="544.25" width="11.21" height="9.84" fill="#00ff16"/>
<rect x="240.28" y="544.25" width="11.21" height="9.84" fill="#00ff1d"/>
<rect x="251.19" y="544.25" width="11.21" height="9.84" fill="#00ff2b"/>
<rect x="262.11" y="544.25" width="11.21" height="9.84" fill="#00ff39"/>
<rect x="273.02" y="544.25" width="11.21" height="9.84" fill="#00ff4a"/>
<rect x="283.93" y="544.25" width="11.21" height="9.84" fill="#00ff65"/>
<rect x="294.85" y="544.25" width="11.21" height="9.84" fill="#00ff85"/>
<rect x="305.76" y="544.25" width="11.21" height="9.84" fill="#00ff9e"/>
<rect x="316.67" y="544.25" width="11.21" height="9.84" fill="#00ffb1"/>
<rect x="327.59" y="544.25" width="11.21" height="9.84" fill="#00ffbc"/>
<rect x="338.50" y="544.25" width="11.21" height="9.84" fill="#00ffc1"/>
<rect x="349.42" y="544.25" width="11.21" height="9.84" fill="#00ffc1"/>
<rect x="360.33" y="544.25" width="11.21" height="9.84" fill="#00ffbd"/>
<rect x="371.24" y="544.25" width="5.76" height="9.84" fill="#00ffb5"/>
<rect x="60.20" y="553.79" width="5.76" height="9.84" fill="#86ff00"/>
<rect x="65.66" y="553.79" width="11.21" height="9.84" fill="#54ff00"/>
<rect x="76.57" y="553.79" width="11.21" height="9.84" fill="#30ff00"/>
<rect x="87.48" y="553.79" width="11.21" height="9.84" fill="#18ff00"/>
<rect x="98.40" y="553.79" width="11.21" height="9.84" fill="#0eff00"/>
<rect x="109.31" y="553.79" width="11.21" height="9.84" fill="#0cff00"/>
<rect x="120.23" y="553.79" width="11.21" height="9.84" fill="#0cff00"/>
<rect x="131.14" y="553.79" width="11.21" height="9.84" fill="#0cff00"/>
<rect x="142.05" y="553.79" width="11.21" height="9.84" fill="#0cff00"/>
<rect x="152.97" y="553.79" width="11.21" height="9.84" fill="#0cff00"/>
<rect x="163.88" y="553.79" width="11.21" height="9.84" fill="#0aff00"/>
<rect x="174.79" y="553.79" width="11.21" height="9.84" fill="#07ff00"/>
<rect x="185.71" y="553.79" width="11.21" height="9.84" fill="#03ff00"/>
<rect x="196.62" y="553.79" width="11.21" height="9.84" fill="#00ff00"/>
<rect x="207.54" y="553.79" width="11.21" height="9.84" fill="#00ff03"/>
<rect x="218.45" y="553.79" width="11.21" height="9.84" fill="#00ff07"/>
<rect x="229.36" y="553.79" width="11.21" height="9.84" fill="#00ff0c"/>
<rect x="240.28" y="553.79" width="11.21" height="9.84" fill="#00ff11"/>
<rect x="251.19" y="553.79" width="11.21" height="9.84" fill="#00ff1c"/>
<rect x="262.11" y="553.79" width="11.21" height="9.84" fill="#00ff28"/>
<rect x="273.02" y="553.79" width="11.21" height="9.84" fill="#00ff37"/>
<rect x="283.93" y="553.79" width="11.21" height="9.84" fill="#00ff4f"/>
<rect x="294.85" y="553.79" width="11.21" height="9.84" fill="#00ff6c"/>
<rect x="305.76" y="553.79" width="11.21" height="9.84" fill="#00ff84"/>
<rect x="316.67" y="553.79" width="11.21" height="9.84" fill="#00ff96"/>
<rect x="327.59" y="553.79" width="11.21" height="9.84" fill="#00ffa1"/>
<rect x="338.50" y="553.79" width="11.21" height="9.84" fill="#00ffa5"/>
<rect x="349.42" y="553.79" width="11.21" height="9.84" fill="#00ffa6"/>
<rect x="360.33" y="553.79" width="11.21" height="9.84" fill="#00ffa1"/>
<rect x="371.24" y="553.79" width="5.76" height="9.84" fill="#00ff99"/>
<rect x="60.20" y="563.33" width="5.76" height="9.84" fill="#9aff00"/>
<rect x="65.66" y="563.33" width="11.21" height="9.84" fill="#61ff00"/>
<rect x="76.57" y="563.33" width="11.21" height="9.84" fill="#3aff00"/>
<rect x="87.48" y="563.33" width="11.21" height="9.84" fill="#21ff00"/>
<rect x="98.40" y="563.33" width="11.21" height="9.84" fill="#17ff00"/>
<rect x="109.31" y="563.33" width="11.21" height="9.84" fill="#15ff00"/>
<rect x="120.23" y="563.33" width="11.21" height="9.84" fill="#15ff00"/>
<rect x="131.14" y="563.33" width="11.21" height="9.84" fill="#15ff00"/>
<rect x="142.05" y="563.33" width="11.21" height="9.84" fill="#15ff00"/>
<rect x="152.97" y="563.33" width="11.21" height="9.84" fill="#15ff00"/>
<rect x="163.88" y="563.33" width="11.21" height="9.84" fill="#13ff00"/>
<rect x="174.79" y="563.33" width="11.21" height="9.84" fill="#10ff00"/>
<rect x="185.71" y="563.33" width="11.21" height="9.84" fill="#0bff00"/>
<rect x="196.62" y="563.33" width="11.21" height="9.84" fill="#08ff00"/>
<rect x="207.54" y="563.33" width="11.21" height="9.84" fill="#04ff00"/>
<rect x="218.45" y="563.33" width="11.21" height="9.84" fill="#00ff00"/>
<rect x="229.36" y="563.33" width="11.21" height="9.84" fill="#00ff04"/>
<rect x="240.28" y="563.33" width="11.21" height="9.84" fill="#00ff08"/>
<rect x="251.19" y="563.33" width="11.21" height="9.84" fill="#00ff10"/>
<rect x="262.11" y="563.33" width="11.21" height="9.84" fill="#00ff1a"/>
<rect x="273.02" y="563.33" width="11.21" height="9.84" fill="#00ff26"/>
<rect x="283.93" y="563.33" width="11.21" height="9.84" fill="#00ff3b"/>
<rect x="294.85" y="563.33" width="11.21" height="9.84" fill="#00ff55"/>
<rect x="305.76" y="563.33" width="11.21" height="9.84" fill="#00ff6b"/>
<rect x="316.67" y="563.33" width="11.21" height="9.84" fill="#00ff7c"/>
<rect x="327.59" y="563.33" width="11.21" height="9.84" fill="#00ff86"/>
<rect x="338.50" y="563.33" width="11.21" height="9.84" fill="#00ff8a"/>
<rect x="349.42" y="563.33" width="11.21" height="9.84" fill="#00ff8b"/>
<rect x="360.33" y="563.33" width="11.21" height="9.84" fill="#00ff86"/>
<rect x="371.24" y="563.33" width="5.76" height="9.84" fill="#00ff7e"/>
<rect x="60.20" y="572.87" width="5.76" height="9.84" fill="#afff00"/>
<rect x="65.66" y="572.87" width="11.21" height="9.84" fill="#71ff00"/>
<rect x="76.57" y="572.87" width="11.21" height="9.84" fill="#48ff00"/>
<rect x="87.48" y="572.87" width="11.21" height="9.84" fill="#2dff00"/>
<rect x="98.40" y="572.87" width="11.21" height="9.84" fill="#23ff00"/>
<rect x="109.31" y="572.87" width="11.21" height="9.84" fill="#20ff00"/>
<rect x="120.23" y="572.87" width="11.21" height="9.84" fill="#20ff00"/>
<rect x="131.14" y="572.87" width="11.21" height="9.84" fill="#20ff00"/>
<rect x="142.05" y="572.87" width="11.21" height="9.84" fill="#20ff00"/>
<rect x="152.97" y="572.87" width="11.21" height="9.84" fill="#1fff00"/>
<rect x="163.88" y="572.87" width="11.21" height="9.84" fill="#1eff00"/>
<rect x="174.79" y="572.87" width="11.21" height="9.84" fill="#1aff00"/>
<rect x="185.71" y="572.87" width="11.21" height="9.84" fill="#16ff00"/>
<rect x="196.62" y="572.87" width="11.21" height="9.84" fill="#12ff00"/>
<rect x="207.54" y="572.87" width="11.21" height="9.84" fill="#0dff00"/>
<rect x="218.45" y="572.87" width="11.21" height="9.84" fill="#09ff00"/>
<rect x="229.36" y="572.87" width="11.21" height="9.84" fill="#04ff00"/>
<rect x="240.28" y="572.87" width="11.21" height="9.84" fill="#00ff00"/>
<rect x="251.19" y="572.87" width="11.21" height="9.84" fill="#00ff06"/>
<rect x="262.11" y="572.87" width="11.21" height="9.84" fill="#00ff0c"/>
<rect x="273.02" y="572.87" width="11.21" height="9.84" fill="#00ff16"/>
<rect x="283.93" y="572.87" width="11.21" height="9.84" fill="#00ff27"/>
<rect x="294.85" y="572.87" width="11.21" height="9.84" fill="#00ff3d"/>
<rect x="305.76" y="572.87" width="11.21" height="9.84" fill="#00ff51"/>
<rect x="316.67" y="572.87" width="11.21" height="9.84" fill="#00ff61"/>
<rect x="327.59" y="572.87" width="11.21" height="9.84" fill="#00ff6b"/>
<rect x="338.50" y="572.87" width="11.21" height="9.84" fill="#00ff6f"/>
<rect x="349.42" y="572.87" width="11.21" height="9.84" fill="#00ff6f"/>
<rect x="360.33" y="572.87" width="11.21" height="9.84" fill="#00ff6a"/>
<rect x="371.24" y="572.87" width="5.76" height="9.84" fill="#00ff62"/>
<rect x="60.20" y="582.42" width="5.76" height="9.84" fill="#caff00"/>
<rect x="65.66" y="582.42" width="11.21" height="9.84" fill="#88ff00"/>
<rect x="76.57" y="582.42" width="11.21" height="9.84" fill="#5eff00"/>
<rect x="87.48" y="582.42" width="11.21" height="9.84" fill="#42ff00"/>
<rect x="98.40" y="582.42" width="11.21" height="9.84" fill="#36ff00"/>
<rect x="109.31" y="582.42" width="11.21" height="9.84" fill="#32ff00"/>
<rect x="120.23" y="582.42" width="11.21" height="9.84" fill="#30ff00"/>
<rect x="131.14" y="582.42" width="11.21" height="9.84" fill="#2fff00"/>
<rect x="142.05" y="582.42" width="11.21" height="9.84" fill="#2eff00"/>
<rect x="152.97" y="582.42" width="11.21" height="9.84" fill="#2dff00"/>
<rect x="163.88" y="582.42" width="11.21" height="9.84" fill="#2bff00"/>
<rect x="174.79" y="582.42" width="11.21" height="9.84" fill="#29ff00"/>
<rect x="185.71" y="582.42" width="11.21" height="9.84" fill="#26ff00"/>
<rect x="196.62" y="582.42" width="11.21" height="9.84" fill="#22ff00"/>
<rect x="207.54" y="582.42" width="11.21" height="9.84" fill="#1dff00"/>
<rect x="218.45" y="582.42" width="11.21" height="9.84" fill="#18ff00"/>
<rect x="229.36" y="582.42" width="11.21" height="9.84" fill="#12ff00"/>
<rect x="240.28" y="582.42" width="11.21" height="9.84" fill="#0cff00"/>
<rect x="251.19" y="582.42" width="11.21" height="9.84" fill="#06ff00"/>
<rect x="262.11" y="582.42" width="11.21" height="9.84" fill="#00ff00"/>
<rect x="273.02" y="582.42" width="11.21" height="9.84" fill="#00ff08"/>
<rect x="283.93" y="582.42" width="11.21" height="9.84" fill="#00ff15"/>
<rect x="294.85" y="582.42" width="11.21" height="9.84" fill="#00ff26"/>
<rect x="305.76" y="582.42" width="11.21" height="9.84" fill="#00ff37"/>
<rect x="316.67" y="582.42" width="11.21" height="9.84" fill="#00ff47"/>
<rect x="327.59" y="582.42" width="11.21" height="9.84" fill="#00ff51"/>
<rect x="338.50" y="582.42" width="11.21" height="9.84" fill="#00ff55"/>
<rect x="349.42" y="582.42" width="11.21" height="9.84" fill="#00ff53"/>
<rect x="360.33" y="582.42" width="11.21" height="9.84" fill="#00ff4d"/>
<rect x="371.24" y="582.42" width="5.76" height="9.84" fill="#00ff44"/>
<rect x="60.20" y="591.96" width="5.76" height="9.84" fill="#e1ff00"/>
<rect x="65.66" y="591.96" width="11.21" height="9.84" fill="#a6ff00"/>
<rect x="76.57" y="591.96" width="11.21" height="9.84" fill="#7dff00"/>
<rect x="87.48" y="591.96" width="11.21" height="9.84" fill="#61ff00"/>
<rect x="98.40" y="591.96" width="11.21" height="9.84" fill="#52ff00"/>
<rect x="109.31" y="591.96" width="11.21" height="9.84" fill="#4bff00"/>
<rect x="120.23" y="591.96" width="11.21" height="9.84" fill="#47ff00"/>
<rect x="131.14" y="591.96" width="11.21" height="9.84" fill="#45ff00"/>
<rect x="142.05" y="591.96" width="11.21" height="9.84" fill="#42ff00"/>
<rect x="152.97" y="591.96" width="11.21" height="9.84" fill="#40ff00"/>
<rect x="163.88" y="591.96" width="11.21" height="9.84" fill="#3fff00"/>
<rect x="174.79" y="591.96" width="11.21" height="9.84" fill="#3eff00"/>
<rect x="185.71" y="591.96" width="11.21" height="9.84" fill="#3cff00"/>
<rect x="196.62" y="591.96" width="11.21" height="9.84" fill="#3aff00"/>
<rect x="207.54" y="591.96" width="11.21" height="9.84" fill="#36ff00"/>
<rect x="218.45" y="591.96" width="11.21" height="9.84" fill="#30ff00"/>
<rect x="229.36" y="591.96" width="11.21" height="9.84" fill="#27ff00"/>
<rect x="240.28" y="591.96" width="11.21" height="9.84" fill="#1eff00"/>
<rect x="251.19" y="591.96" width="11.21" height="9.84" fill="#16ff00"/>
<rect x="262.11" y="591.96" width="11.21" height="9.84" fill="#0eff00"/>
<rect x="273.02" y="591.96" width="11.21" height="9.84" fill="#05ff00"/>
<rect x="283.93" y="591.96" width="11.21" height="9.84" fill="#00ff06"/>
<rect x="294.85" y="591.96" width="11.21" height="9.84" fill="#00ff13"/>
<rect x="305.76" y="591.96" width="11.21" height="9.84" fill="#00ff21"/>
<rect x="316.67" y="591.96" width="11.21" height="9.84" fill="#00ff2f"/>
<rect x="327.59" y="591.96" width="11.21" height="9.84" fill="#00ff39"/>
<rect x="338.50" y="591.96" width="11.21" height="9.84" fill="#00ff3d"/>
<rect x="349.42" y="591.96" width="11.21" height="9.84" fill="#00ff3a"/>
<rect x="360.33" y="591.96" width="11.21" height="9.84" fill="#00ff32"/>
<rect x="371.24" y="591.96" width="5.76" height="9.84" fill="#00ff1b"/>
<rect x="60.20" y="601.50" width="5.76" height="9.84" fill="#f7ff00"/>
<rect x="65.66" y="601.50" width="11.21" height="9.84" fill="#c6ff00"/>
<rect x="76.57" y="601.50" width="11.21" height="9.84" fill="#9eff00"/>
<rect x="87.48" y="601.50" width="11.21" height="9.84" fill="#81ff00"/>
<rect x="98.40" y="601.50" width="11.21" height="9.84" fill="#6fff00"/>
<rect x="109.31" y="601.50" width="11.21" height="9.84" fill="#67ff00"/>
<rect x="120.23" y="601.50" width="11.21" height="9.84" fill="#62ff00"/>
<rect x="131.14" y="601.50" width="11.21" height="9.84" fill="#5fff00"/>
<rect x="142.05" y="601.50" width="11.21" height="9.84" fill="#5cff00"/>
<rect x="152.97" y="601.50" width="11.21" height="9.84" fill="#5aff00"/>
<rect x="163.88" y="601.50" width="11.21" height="9.84" fill="#59ff00"/>
<rect x="174.79" y="601.50" width="11.21" height="9.84" fill="#59ff00"/>
<rect x="185.71" y="601.50" width="11.21" height="9.84" fill="#58ff00"/>
<rect x="196.62" y="601.50" width="11.21" height="9.84" fill="#57ff00"/>
<rect x="207.54" y="601.50" width="11.21" height="9.84" fill="#54ff00"/>
<rect x="218.45" y="601.50" width="11.21" height="9.84" fill="#4bff00"/>
<rect x="229.36" y="601.50" width="11.21" height="9.84" fill="#41ff00"/>
<rect x="240.28" y="601.50" width="11.21" height="9.84" fill="#36ff00"/>
<rect x="251.19" y="601.50" width="11.21" height="9.84" fill="#2bff00"/>
<rect x="262.11" y="601.50" width="11.21" height="9.84" fill="#1fff00"/>
<rect x="273.02" y="601.50" width="11.21" height="9.84" fill="#13ff00"/>
<rect x="283.93" y="601.50" width="11.21" height="9.84" fill="#08ff00"/>
<rect x="294.85" y="601.50" width="11.21" height="9.84" fill="#00ff03"/>
<rect x="305.76" y="601.50" width="11.21" height="9.84" fill="#00ff0d"/>
<rect x="316.67" y="601.50" width="11.21" height="9.84" fill="#00ff18"/>
<rect x="327.59" y="601.50" width="11.21" height="9.84" fill="#00ff20"/>
<rect x="338.50" y="601.50" width="11.21" height="9.84" fill="#00ff24"/>
<rect x="349.42" y="601.50" width="11.21" height="9.84" fill="#00ff22"/>
<rect x="360.33" y="601.50" width="11.21" height="9.84" fill="#00ff1c"/>
<rect x="371.24" y="601.50" width="5.76" height="9.84" fill="#00ff07"/>
<rect x="60.20" y="611.04" width="5.76" height="9.84" fill="#ffea00"/>
<rect x="65.66" y="611.04" width="11.21" height="9.84" fill="#e6ff00"/>
<rect x="76.57" y="611.04" width="11.21" height="9.84" fill="#bfff00"/>
<rect x="87.48" y="611.04" width="11.21" height="9.84" fill="#a0ff00"/>
<rect x="98.40" y="611.04" width="11.21" height="9.84" fill="#8dff00"/>
<rect x="109.31" y="611.04" width="11.21" height="9.84" fill="#85ff00"/>
<rect x="120.23" y="611.04" width="11.21" height="9.84" fill="#82ff00"/>
<rect x="131.14" y="611.04" width="11.21" height="9.84" fill="#80ff00"/>
<rect x="142.05" y="611.04" width="11.21" height="9.84" fill="#7eff00"/>
<rect x="152.97" y="611.04" width="11.21" height="9.84" fill="#7cff00"/>
<rect x="163.88" y="611.04" width="11.21" height="9.84" fill="#7cff00"/>
<rect x="174.79" y="611.04" width="11.21" height="9.84" fill="#7cff00"/>
<rect x="185.71" y="611.04" width="11.21" height="9.84" fill="#7cff00"/>
<rect x="196.62" y="611.04" width="11.21" height="9.84" fill="#7bff00"/>
<rect x="207.54" y="611.04" width="11.21" height="9.84" fill="#76ff00"/>
<rect x="218.45" y="611.04" width="11.21" height="9.84" fill="#6cff00"/>
<rect x="229.36" y="611.04" width="11.21" height="9.84" fill="#5eff00"/>
<rect x="240.28" y="611.04" width="11.21" height="9.84" fill="#50ff00"/>
<rect x="251.19" y="611.04" width="11.21" height="9.84" fill="#43ff00"/>
<rect x="262.11" y="611.04" width="11.21" height="9.84" fill="#35ff00"/>
<rect x="273.02" y="611.04" width="11.21" height="9.84" fill="#25ff00"/>
<rect x="283.93" y="611.04" width="11.21" height="9.84" fill="#18ff00"/>
<rect x="294.85" y="611.04" width="11.21" height="9.84" fill="#0fff00"/>
<rect x="305.76" y="611.04" width="11.21" height="9.84" fill="#08ff00"/>
<rect x="316.67" y="611.04" width="11.21" height="9.84" fill="#01ff00"/>
<rect x="327.59" y="611.04" width="11.21" height="9.84" fill="#00ff05"/>
<rect x="338.50" y="611.04" width="11.21" height="9.84" fill="#00ff08"/>
<rect x="349.42" y="611.04" width="11.21" height="9.84" fill="#00ff06"/>
<rect x="360.33" y="611.04" width="11.21" height="9.84" fill="#00ff02"/>
<rect x="371.24" y="611.04" width="5.76" height="9.84" fill="#11ff00"/>
<rect x="60.20" y="620.58" width="5.76" height="9.84" fill="#ffc300"/>
<rect x="65.66" y="620.58" width="11.21" height="9.84" fill="#fff100"/>
<rect x="76.57" y="620.58" width="11.21" height="9.84" fill="#e7ff00"/>
<rect x="87.48" y="620.58" width="11.21" height="9.84" fill="#c6ff00"/>
<rect x="98.40" y="620.58" width="11.21" height="9.84" fill="#b2ff00"/>
<rect x="109.31" y="620.58" width="11.21" height="9.84" fill="#a9ff00"/>
<rect x="120.23" y="620.58" width="11.21" height="9.84" fill="#a6ff00"/>
<rect x="131.14" y="620.58" width="11.21" height="9.84" fill="#a5ff00"/>
<rect x="142.05" y="620.58" width="11.21" height="9.84" fill="#a4ff00"/>
<rect x="152.97" y="620.58" width="11.21" height="9.84" fill="#a4ff00"/>
<rect x="163.88" y="620.58" width="11.21" height="9.84" fill="#a3ff00"/>
<rect x="174.79" y="620.58" width="11.21" height="9.84" fill="#a3ff00"/>
<rect x="185.71" y="620.58" width="11.21" height="9.84" fill="#a3ff00"/>
<rect x="196.62" y="620.58" width="11.21" height="9.84" fill="#a2ff00"/>
<rect x="207.54" y="620.58" width="11.21" height="9.84" fill="#9dff00"/>
<rect x="218.45" y="620.58" width="11.21" height="9.84" fill="#90ff00"/>
<rect x="229.36" y="620.58" width="11.21" height="9.84" fill="#80ff00"/>
<rect x="240.28" y="620.58" width="11.21" height="9.84" fill="#71ff00"/>
<rect x="251.19" y="620.58" width="11.21" height="9.84" fill="#61ff00"/>
<rect x="262.11" y="620.58" width="11.21" height="9.84" fill="#4fff00"/>
<rect x="273.02" y="620.58" width="11.21" height="9.84" fill="#3cff00"/>
<rect x="283.93" y="620.58" width="11.21" height="9.84" fill="#2cff00"/>
<rect x="294.85" y="620.58" width="11.21" height="9.84" fill="#24ff00"/>
<rect x="305.76" y="620.58" width="11.21" height="9.84" fill="#1eff00"/>
<rect x="316.67" y="620.58" width="11.21" height="9.84" fill="#1aff00"/>
<rect x="327.59" y="620.58" width="11.21" height="9.84" fill="#16ff00"/>
<rect x="338.50" y="620.58" width="11.21" height="9.84" fill="#14ff00"/>
<rect x="349.42" y="620.58" width="11.21" height="9.84" fill="#15ff00"/>
<rect x="360.33" y="620.58" width="11.21" height="9.84" fill="#18ff00"/>
<rect x="371.24" y="620.58" width="5.76" height="9.84" fill="#2cff00"/>
<rect x="60.20" y="630.12" width="5.76" height="9.84" fill="#ff9c00"/>
<rect x="65.66" y="630.12" width="11.21" height="9.84" fill="#ffca00"/>
<rect x="76.57" y="630.12" width="11.21" height="9.84" fill="#ffef00"/>
<rect x="87.48" y="630.12" width="11.21" height="9.84" fill="#efff00"/>
<rect x="98.40" y="630.12" width="11.21" height="9.84" fill="#daff00"/>
<rect x="109.31" y="630.12" width="11.21" height="9.84" fill="#d0ff00"/>
<rect x="120.23" y="630.12" width="11.21" height="9.84" fill="#ccff00"/>
<rect x="131.14" y="630.12" width="11.21" height="9.84" fill="#cbff00"/>
<rect x="142.05" y="630.12" width="11.21" height="9.84" fill="#cbff00"/>
<rect x="152.97" y="630.12" width="11.21" height="9.84" fill="#cbff00"/>
<rect x="163.88" y="630.12" width="11.21" height="9.84" fill="#cbff00"/>
<rect x="174.79" y="630.12" width="11.21" height="9.84" fill="#cbff00"/>
<rect x="185.71" y="630.12" width="11.21" height="9.84" fill="#cbff00"/>
<rect x="196.62" y="630.12" width="11.21" height="9.84" fill="#caff00"/>
<rect x="207.54" y="630.12" width="11.21" height="9.84" fill="#c5ff00"/>
<rect x="218.45" y="630.12" width="11.21" height="9.84" fill="#b9ff00"/>
<rect x="229.36" y="630.12" width="11.21" height="9.84" fill="#a9ff00"/>
<rect x="240.28" y="630.12" width="11.21" height="9.84" fill="#98ff00"/>
<rect x="251.19" y="630.12" width="11.21" height="9.84" fill="#86ff00"/>
<rect x="262.11" y="630.12" width="11.21" height="9.84" fill="#70ff00"/>
<rect x="273.02" y="630.12" width="11.21" height="9.84" fill="#57ff00"/>
<rect x="283.93" y="630.12" width="11.21" height="9.84" fill="#43ff00"/>
<rect x="294.85" y="630.12" width="11.21" height="9.84" fill="#3dff00"/>
<rect x="305.76" y="630.12" width="11.21" height="9.84" fill="#38ff00"/>
<rect x="316.67" y="630.12" width="11.21" height="9.84" fill="#34ff00"/>
<rect x="327.59" y="630.12" width="11.21" height="9.84" fill="#31ff00"/>
<rect x="338.50" y="630.12" width="11.21" height="9.84" fill="#30ff00"/>
<rect x="349.42" y="630.12" width="11.21" height="9.84" fill="#31ff00"/>
<rect x="360.33" y="630.12" width="11.21" height="9.84" fill="#36ff00"/>
<rect x="371.24" y="630.12" width="5.76" height="9.84" fill="#4aff00"/>
<rect x="60.20" y="639.66" width="5.76" height="9.84" fill="#ff7700"/>
<rect x="65.66" y="639.66" width="11.21" height="9.84" fill="#ffa600"/>
<rect x="76.57" y="639.66" width="11.21" height="9.84" fill="#ffca00"/>
<rect x="87.48" y="639.66" width="11.21" height="9.84" fill="#ffe800"/>
<rect x="98.40" y="639.66" width="11.21" height="9.84" fill="#fffd00"/>
<rect x="109.31" y="639.66" width="11.21" height="9.84" fill="#f6ff00"/>
<rect x="120.23" y="639.66" width="11.21" height="9.84" fill="#f0ff00"/>
<rect x="131.14" y="639.66" width="11.21" height="9.84" fill="#efff00"/>
<rect x="142.05" y="639.66" width="11.21" height="9.84" fill="#efff00"/>
<rect x="152.97" y="639.66" width="11.21" height="9.84" fill="#eeff00"/>
<rect x="163.88" y="639.66" width="11.21" height="9.84" fill="#eeff00"/>
<rect x="174.79" y="639.66" width="11.21" height="9.84" fill="#eeff00"/>
<rect x="185.71" y="639.66" width="11.21" height="9.84" fill="#eeff00"/>
<rect x="196.62" y="639.66" width="11.21" height="9.84" fill="#edff00"/>
<rect x="207.54" y="639.66" width="11.21" height="9.84" fill="#e9ff00"/>
<rect x="218.45" y="639.66" width="11.21" height="9.84" fill="#dfff00"/>
<rect x="229.36" y="639.66" width="11.21" height="9.84" fill="#d2ff00"/>
<rect x="240.28" y="639.66" width="11.21" height="9.84" fill="#c1ff00"/>
<rect x="251.19" y="639.66" width="11.21" height="9.84" fill="#aeff00"/>
<rect x="262.11" y="639.66" width="11.21" height="9.84" fill="#93ff00"/>
<rect x="273.02" y="639.66" width="11.21" height="9.84" fill="#72ff00"/>
<rect x="283.93" y="639.66" width="11.21" height="9.84" fill="#59ff00"/>
<rect x="294.85" y="639.66" width="11.21" height="9.84" fill="#52ff00"/>
<rect x="305.76" y="639.66" width="11.21" height="9.84" fill="#4dff00"/>
<rect x="316.67" y="639.66" width="11.21" height="9.84" fill="#4aff00"/>
<rect x="327.59" y="639.66" width="11.21" height="9.84" fill="#47ff00"/>
<rect x="338.50" y="639.66" width="11.21" height="9.84" fill="#47ff00"/>
<rect x="349.42" y="639.66" width="11.21" height="9.84" fill="#4aff00"/>
<rect x="360.33" y="639.66" width="11.21" height="9.84" fill="#50ff00"/>
<rect x="371.24" y="639.66" width="5.76" height="9.84" fill="#66ff00"/>
<rect x="60.20" y="649.21" width="5.76" height="9.84" fill="#ff5700"/>
<rect x="65.66" y="649.21" width="11.21" height="9.84" fill="#ff8500"/>
<rect x="76.57" y="649.21" width="11.21" height="9.84" fill="#ffa700"/>
<rect x="87.48" y="649.21" width="11.21" height="9.84" fill="#ffc600"/>
<rect x="98.40" y="649.21" width="11.21" height="9.84" fill="#ffdc00"/>
<rect x="109.31" y="649.21" width="11.21" height="9.84" fill="#ffe900"/>
<rect x="120.23" y="649.21" width="11.21" height="9.84" fill="#fff100"/>
<rect x="131.14" y="649.21" width="11.21" height="9.84" fill="#fff300"/>
<rect x="142.05" y="649.21" width="11.21" height="9.84" fill="#fff400"/>
<rect x="152.97" y="649.21" width="11.21" height="9.84" fill="#fff500"/>
<rect x="163.88" y="649.21" width="11.21" height="9.84" fill="#fff600"/>
<rect x="174.79" y="649.21" width="11.21" height="9.84" fill="#fff600"/>
<rect x="185.71" y="649.21" width="11.21" height="9.84" fill="#fff600"/>
<rect x="196.62" y="649.21" width="11.21" height="9.84" fill="#fff600"/>
<rect x="207.54" y="649.21" width="11.21" height="9.84" fill="#fffa00"/>
<rect x="218.45" y="649.21" width="11.21" height="9.84" fill="#fbff00"/>
<rect x="229.36" y="649.21" width="11.21" height="9.84" fill="#f1ff00"/>
<rect x="240.28" y="649.21" width="11.21" height="9.84" fill="#e2ff00"/>
<rect x="251.19" y="649.21" width="11.21" height="9.84" fill="#d0ff00"/>
<rect x="262.11" y="649.21" width="11.21" height="9.84" fill="#b2ff00"/>
<rect x="273.02" y="649.21" width="11.21" height="9.84" fill="#8bff00"/>
<rect x="283.93" y="649.21" width="11.21" height="9.84" fill="#6cff00"/>
<rect x="294.85" y="649.21" width="11.21" height="9.84" fill="#64ff00"/>
<rect x="305.76" y="649.21" width="11.21" height="9.84" fill="#5eff00"/>
<rect x="316.67" y="649.21" width="11.21" height="9.84" fill="#5aff00"/>
<rect x="327.59" y="649.21" width="11.21" height="9.84" fill="#58ff00"/>
<rect x="338.50" y="649.21" width="11.21" height="9.84" fill="#58ff00"/>
<rect x="349.42" y="649.21" width="11.21" height="9.84" fill="#5cff00"/>
<rect x="360.33" y="649.21" width="11.21" height="9.84" fill="#64ff00"/>
<rect x="371.24" y="649.21" width="5.76" height="9.84" fill="#7cff00"/>
<rect x="60.20" y="658.75" width="5.76" height="9.84" fill="#ff3800"/>
<rect x="65.66" y="658.75" width="11.21" height="9.84" fill="#ff6600"/>
<rect x="76.57" y="658.75" width="11.21" height="9.84" fill="#ff8800"/>
<rect x="87.48" y="658.75" width="11.21" height="9.84" fill="#ffaa00"/>
<rect x="98.40" y="658.75" width="11.21" height="9.84" fill="#ffc000"/>
<rect x="109.31" y="658.75" width="11.21" height="9.84" fill="#ffcf00"/>
<rect x="120.23" y="658.75" width="11.21" height="9.84" fill="#ffd900"/>
<rect x="131.14" y="658.75" width="11.21" height="9.84" fill="#ffdb00"/>
<rect x="142.05" y="658.75" width="11.21" height="9.84" fill="#ffdd00"/>
<rect x="152.97" y="658.75" width="11.21" height="9.84" fill="#ffde00"/>
<rect x="163.88" y="658.75" width="11.21" height="9.84" fill="#ffdf00"/>
<rect x="174.79" y="658.75" width="11.21" height="9.84" fill="#ffdf00"/>
<rect x="185.71" y="658.75" width="11.21" height="9.84" fill="#ffdf00"/>
<rect x="196.62" y="658.75" width="11.21" height="9.84" fill="#ffe000"/>
<rect x="207.54" y="658.75" width="11.21" height="9.84" fill="#ffe400"/>
<rect x="218.45" y="658.75" width="11.21" height="9.84" fill="#ffee00"/>
<rect x="229.36" y="658.75" width="11.21" height="9.84" fill="#fff600"/>
<rect x="240.28" y="658.75" width="11.21" height="9.84" fill="#f9ff00"/>
<rect x="251.19" y="658.75" width="11.21" height="9.84" fill="#e7ff00"/>
<rect x="262.11" y="658.75" width="11.21" height="9.84" fill="#c9ff00"/>
<rect x="273.02" y="658.75" width="11.21" height="9.84" fill="#a1ff00"/>
<rect x="283.93" y="658.75" width="11.21" height="9.84" fill="#80ff00"/>
<rect x="294.85" y="658.75" width="11.21" height="9.84" fill="#78ff00"/>
<rect x="305.76" y="658.75" width="11.21" height="9.84" fill="#70ff00"/>
<rect x="316.67" y="658.75" width="11.21" height="9.84" fill="#6cff00"/>
<rect x="327.59" y="658.75" width="11.21" height="9.84" fill="#69ff00"/>
<rect x="338.50" y="658.75" width="11.21" height="9.84" fill="#6aff00"/>
<rect x="349.42" y="658.75" width="11.21" height="9.84" fill="#6fff00"/>
<rect x="360.33" y="658.75" width="11.21" height="9.84" fill="#79ff00"/>
<rect x="371.24" y="658.75" width="5.76" height="9.84" fill="#93ff00"/>
<rect x="60.20" y="668.29" width="5.76" height="9.84" fill="#ff1400"/>
<rect x="65.66" y="668.29" width="11.21" height="9.84" fill="#ff4900"/>
<rect x="76.57" y="668.29" width="11.21" height="9.84" fill="#ff6e00"/>
<rect x="87.48" y="668.29" width="11.21" height="9.84" fill="#ff9400"/>
<rect x="98.40" y="668.29" width="11.21" height="9.84" fill="#ffac00"/>
<rect x="109.31" y="668.29" width="11.21" height="9.84" fill="#ffbc00"/>
<rect x="120.23" y="668.29" width="11.21" height="9.84" fill="#ffc800"/>
<rect x="131.14" y="668.29" width="11.21" height="9.84" fill="#ffca00"/>
<rect x="142.05" y="668.29" width="11.21" height="9.84" fill="#ffcc00"/>
<rect x="152.97" y="668.29" width="11.21" height="9.84" fill="#ffce00"/>
<rect x="163.88" y="668.29" width="11.21" height="9.84" fill="#ffce00"/>
<rect x="174.79" y="668.29" width="11.21" height="9.84" fill="#ffce00"/>
<rect x="185.71" y="668.29" width="11.21" height="9.84" fill="#ffce00"/>
<rect x="196.62" y="668.29" width="11.21" height="9.84" fill="#ffcf00"/>
<rect x="207.54" y="668.29" width="11.21" height="9.84" fill="#ffd400"/>
<rect x="218.45" y="668.29" width="11.21" height="9.84" fill="#ffde00"/>
<rect x="229.36" y="668.29" width="11.21" height="9.84" fill="#ffe500"/>
<rect x="240.28" y="668.29" width="11.21" height="9.84" fill="#fff500"/>
<rect x="251.19" y="668.29" width="11.21" height="9.84" fill="#f7ff00"/>
<rect x="262.11" y="668.29" width="11.21" height="9.84" fill="#dbff00"/>
<rect x="273.02" y="668.29" width="11.21" height="9.84" fill="#b6ff00"/>
<rect x="283.93" y="668.29" width="11.21" height="9.84" fill="#96ff00"/>
<rect x="294.85" y="668.29" width="11.21" height="9.84" fill="#8dff00"/>
<rect x="305.76" y="668.29" width="11.21" height="9.84" fill="#85ff00"/>
<rect x="316.67" y="668.29" width="11.21" height="9.84" fill="#80ff00"/>
<rect x="327.59" y="668.29" width="11.21" height="9.84" fill="#7eff00"/>
<rect x="338.50" y="668.29" width="11.21" height="9.84" fill="#7fff00"/>
<rect x="349.42" y="668.29" width="11.21" height="9.84" fill="#84ff00"/>
<rect x="360.33" y="668.29" width="11.21" height="9.84" fill="#8fff00"/>
<rect x="371.24" y="668.29" width="5.76" height="9.84" fill="#aaff00"/>
<rect x="60.20" y="677.83" width="5.76" height="5.07" fill="#ff0000"/>
<rect x="65.66" y="677.83" width="11.21" height="5.07" fill="#ff2f00"/>
<rect x="76.57" y="677.83" width="11.21" height="5.07" fill="#ff5800"/>
<rect x="87.48" y="677.83" width="11.21" height="5.07" fill="#ff8300"/>
<rect x="98.40" y="677.83" width="11.21" height="5.07" fill="#ff9f00"/>
<rect x="109.31" y="677.83" width="11.21" height="5.07" fill="#ffae00"/>
<rect x="120.23" y="677.83" width="11.21" height="5.07" fill="#ffbb00"/>
<rect x="131.14" y="677.83" width="11.21" height="5.07" fill="#ffbe00"/>
<rect x="142.05" y="677.83" width="11.21" height="5.07" fill="#ffc000"/>
<rect x="152.97" y="677.83" width="11.21" height="5.07" fill="#ffc100"/>
<rect x="163.88" y="677.83" width="11.21" height="5.07" fill="#ffc200"/>
<rect x="174.79" y="677.83" width="11.21" height="5.07" fill="#ffc200"/>
<rect x="185.71" y="677.83" width="11.21" height="5.07" fill="#ffc200"/>
<rect x="196.62" y="677.83" width="11.21" height="5.07" fill="#ffc300"/>
<rect x="207.54" y="677.83" width="11.21" height="5.07" fill="#ffc500"/>
<rect x="218.45" y="677.83" width="11.21" height="5.07" fill="#ffd200"/>
<rect x="229.36" y="677.83" width="11.21" height="5.07" fill="#ffd700"/>
<rect x="240.28" y="677.83" width="11.21" height="5.07" fill="#ffe800"/>
<rect x="251.19" y="677.83" width="11.21" height="5.07" fill="#fff900"/>
<rect x="262.11" y="677.83" width="11.21" height="5.07" fill="#f0ff00"/>
<rect x="273.02" y="677.83" width="11.21" height="5.07" fill="#cdff00"/>
<rect x="283.93" y="677.83" width="11.21" height="5.07" fill="#afff00"/>
<rect x="294.85" y="677.83" width="11.21" height="5.07" fill="#a4ff00"/>
<rect x="305.76" y="677.83" width="11.21" height="5.07" fill="#9dff00"/>
<rect x="316.67" y="677.83" width="11.21" height="5.07" fill="#98ff00"/>
<rect x="327.59" y="677.83" width="11.21" height="5.07" fill="#97ff00"/>
<rect x="338.50" y="677.83" width="11.21" height="5.07" fill="#97ff00"/>
<rect x="349.42" y="677.83" width="11.21" height="5.07" fill="#9eff00"/>
<rect x="360.33" y="677.83" width="11.21" height="5.07" fill="#a8ff00"/>
<rect x="371.24" y="677.83" width="5.76" height="5.07" fill="#c8ff00"/></g></g>
<clipPath id="cpc"><rect x="59.60" y="766.40" width="316.50" height="276.50"/></clipPath>
<g clip-path="url(#cpc)"><g filter="url(#bl)"><rect x="59.60" y="766.40" width="5.76" height="5.07" fill="#4cff00"/>
<rect x="65.06" y="766.40" width="11.21" height="5.07" fill="#00ff0a"/>
<rect x="75.97" y="766.40" width="11.21" height="5.07" fill="#00ff3d"/>
<rect x="86.88" y="766.40" width="11.21" height="5.07" fill="#00ff0a"/>
<rect x="97.80" y="766.40" width="11.21" height="5.07" fill="#00ff0a"/>
<rect x="108.71" y="766.40" width="11.21" height="5.07" fill="#00ff0a"/>
<rect x="119.63" y="766.40" width="11.21" height="5.07" fill="#00ff0a"/>
<rect x="130.54" y="766.40" width="11.21" height="5.07" fill="#00ff7a"/>
<rect x="141.45" y="766.40" width="11.21" height="5.07" fill="#4cff00"/>
<rect x="152.37" y="766.40" width="11.21" height="5.07" fill="#00ff0a"/>
<rect x="163.28" y="766.40" width="11.21" height="5.07" fill="#00ff0a"/>
<rect x="174.19" y="766.40" width="11.21" height="5.07" fill="#4cff00"/>
<rect x="185.11" y="766.40" width="11.21" height="5.07" fill="#00ff0a"/>
<rect x="196.02" y="766.40" width="11.21" height="5.07" fill="#00ff0a"/>
<rect x="206.94" y="766.40" width="11.21" height="5.07" fill="#00ff0a"/>
<rect x="217.85" y="766.40" width="11.21" height="5.07" fill="#00ff0a"/>
<rect x="228.76" y="766.40" width="11.21" height="5.07" fill="#00ff0a"/>
<rect x="239.68" y="766.40" width="11.21" height="5.07" fill="#4cff00"/>
<rect x="250.59" y="766.40" width="11.21" height="5.07" fill="#00ff3d"/>
<rect x="261.51" y="766.40" width="11.21" height="5.07" fill="#00ff0a"/>
<rect x="272.42" y="766.40" width="11.21" height="5.07" fill="#4cff00"/>
<rect x="283.33" y="766.40" width="11.21" height="5.07" fill="#99ff00"/>
<rect x="294.25" y="766.40" width="11.21" height="5.07" fill="#99ff00"/>
<rect x="305.16" y="766.40" width="11.21" height="5.07" fill="#00ff0a"/>
<rect x="316.07" y="766.40" width="11.21" height="5.07" fill="#00ff0a"/>
<rect x="326.99" y="766.40" width="11.21" height="5.07" fill="#00ff0a"/>
<rect x="337.90" y="766.40" width="11.21" height="5.07" fill="#00ff0a"/>
<rect x="348.82" y="766.40" width="11.21" height="5.07" fill="#00ff0a"/>
<rect x="359.73" y="766.40" width="11.21" height="5.07" fill="#00ff0a"/>
<rect x="370.64" y="766.40" width="5.76" height="5.07" fill="#4cff00"/>
<rect x="59.60" y="771.17" width="5.76" height="9.83" fill="#00ff3d"/>
<rect x="65.06" y="771.17" width="11.21" height="9.83" fill="#00ff7a"/>
<rect x="75.97" y="771.17" width="11.21" height="9.83" fill="#00ff7a"/>
<rect x="86.88" y="771.17" width="11.21" height="9.83" fill="#4cff00"/>
<rect x="97.80" y="771.17" width="11.21" height="9.83" fill="#00ff0a"/>
<rect x="108.71" y="771.17" width="11.21" height="9.83" fill="#00ff0a"/>
<rect x="119.63" y="771.17" width="11.21" height="9.83" fill="#00ff0a"/>
<rect x="130.54" y="771.17" width="11.21" height="9.83" fill="#00ff0a"/>
<rect x="141.45" y="771.17" width="11.21" height="9.83" fill="#4cff00"/>
<rect x="152.37" y="771.17" width="11.21" height="9.83" fill="#99ff00"/>
<rect x="163.28" y="771.17" width="11.21" height="9.83" fill="#00ff0a"/>
<rect x="174.19" y="771.17" width="11.21" height="9.83" fill="#e0ff00"/>
<rect x="185.11" y="771.17" width="11.21" height="9.83" fill="#00ff0a"/>
<rect x="196.02" y="771.17" width="11.21" height="9.83" fill="#4cff00"/>
<rect x="206.94" y="771.17" width="11.21" height="9.83" fill="#00ff0a"/>
<rect x="217.85" y="771.17" width="11.21" height="9.83" fill="#00ff7a"/>
<rect x="228.76" y="771.17" width="11.21" height="9.83" fill="#00ff0a"/>
<rect x="239.68" y="771.17" width="11.21" height="9.83" fill="#00ff0a"/>
<rect x="250.59" y="771.17" width="11.21" height="9.83" fill="#00ff0a"/>
<rect x="261.51" y="771.17" width="11.21" height="9.83" fill="#00ff0a"/>
<rect x="272.42" y="771.17" width="11.21" height="9.83" fill="#4cff00"/>
<rect x="283.33" y="771.17" width="11.21" height="9.83" fill="#00ff7a"/>
<rect x="294.25" y="771.17" width="11.21" height="9.83" fill="#00ff7a"/>
<rect x="305.16" y="771.17" width="11.21" height="9.83" fill="#00ff0a"/>
<rect x="316.07" y="771.17" width="11.21" height="9.83" fill="#00ff7a"/>
<rect x="326.99" y="771.17" width="11.21" height="9.83" fill="#00ff0a"/>
<rect x="337.90" y="771.17" width="11.21" height="9.83" fill="#00ff0a"/>
<rect x="348.82" y="771.17" width="11.21" height="9.83" fill="#00ff0a"/>
<rect x="359.73" y="771.17" width="11.21" height="9.83" fill="#4cff00"/>
<rect x="370.64" y="771.17" width="5.76" height="9.83" fill="#00ff0a"/>
<rect x="59.60" y="780.70" width="5.76" height="9.83" fill="#4cff00"/>
<rect x="65.06" y="780.70" width="11.21" height="9.83" fill="#4cff00"/>
<rect x="75.97" y="780.70" width="11.21" height="9.83" fill="#e0ff00"/>
<rect x="86.88" y="780.70" width="11.21" height="9.83" fill="#4cff00"/>
<rect x="97.80" y="780.70" width="11.21" height="9.83" fill="#00ff0a"/>
<rect x="108.71" y="780.70" width="11.21" height="9.83" fill="#4cff00"/>
<rect x="119.63" y="780.70" width="11.21" height="9.83" fill="#4cff00"/>
<rect x="130.54" y="780.70" width="11.21" height="9.83" fill="#00ff0a"/>
<rect x="141.45" y="780.70" width="11.21" height="9.83" fill="#00ff0a"/>
<rect x="152.37" y="780.70" width="11.21" height="9.83" fill="#4cff00"/>
<rect x="163.28" y="780.70" width="11.21" height="9.83" fill="#4cff00"/>
<rect x="174.19" y="780.70" width="11.21" height="9.83" fill="#00ff0a"/>
<rect x="185.11" y="780.70" width="11.21" height="9.83" fill="#00ff0a"/>
<rect x="196.02" y="780.70" width="11.21" height="9.83" fill="#00ff7a"/>
<rect x="206.94" y="780.70" width="11.21" height="9.83" fill="#4cff00"/>
<rect x="217.85" y="780.70" width="11.21" height="9.83" fill="#00ff0a"/>
<rect x="228.76" y="780.70" width="11.21" height="9.83" fill="#00ff0a"/>
<rect x="239.68" y="780.70" width="11.21" height="9.83" fill="#00ff3d"/>
<rect x="250.59" y="780.70" width="11.21" height="9.83" fill="#00ff0a"/>
<rect x="261.51" y="780.70" width="11.21" height="9.83" fill="#00ff7a"/>
<rect x="272.42" y="780.70" width="11.21" height="9.83" fill="#00ff0a"/>
<rect x="283.33" y="780.70" width="11.21" height="9.83" fill="#00ff7a"/>
<rect x="294.25" y="780.70" width="11.21" height="9.83" fill="#00ff0a"/>
<rect x="305.16" y="780.70" width="11.21" height="9.83" fill="#00ff3d"/>
<rect x="316.07" y="780.70" width="11.21" height="9.83" fill="#00ff0a"/>
<rect x="326.99" y="780.70" width="11.21" height="9.83" fill="#00ff0a"/>
<rect x="337.90" y="780.70" width="11.21" height="9.83" fill="#00ff7a"/>
<rect x="348.82" y="780.70" width="11.21" height="9.83" fill="#00ff3d"/>
<rect x="359.73" y="780.70" width="11.21" height="9.83" fill="#00ff0a"/>
<rect x="370.64" y="780.70" width="5.76" height="9.83" fill="#00ff0a"/>
<rect x="59.60" y="790.24" width="5.76" height="9.83" fill="#00ff0a"/>
<rect x="65.06" y="790.24" width="11.21" height="9.83" fill="#00ffeb"/>
<rect x="75.97" y="790.24" width="11.21" height="9.83" fill="#00ff0a"/>
<rect x="86.88" y="790.24" width="11.21" height="9.83" fill="#e0ff00"/>
<rect x="97.80" y="790.24" width="11.21" height="9.83" fill="#00ff0a"/>
<rect x="108.71" y="790.24" width="11.21" height="9.83" fill="#00ff0a"/>
<rect x="119.63" y="790.24" width="11.21" height="9.83" fill="#4cff00"/>
<rect x="130.54" y="790.24" width="11.21" height="9.83" fill="#e0ff00"/>
<rect x="141.45" y="790.24" width="11.21" height="9.83" fill="#00ff0a"/>
<rect x="152.37" y="790.24" width="11.21" height="9.83" fill="#00ff0a"/>
<rect x="163.28" y="790.24" width="11.21" height="9.83" fill="#4cff00"/>
<rect x="174.19" y="790.24" width="11.21" height="9.83" fill="#00ff0a"/>
<rect x="185.11" y="790.24" width="11.21" height="9.83" fill="#00ff0a"/>
<rect x="196.02" y="790.24" width="11.21" height="9.83" fill="#00ff0a"/>
<rect x="206.94" y="790.24" width="11.21" height="9.83" fill="#00ff0a"/>
<rect x="217.85" y="790.24" width="11.21" height="9.83" fill="#00ff0a"/>
<rect x="228.76" y="790.24" width="11.21" height="9.83" fill="#00ff7a"/>
<rect x="239.68" y="790.24" width="11.21" height="9.83" fill="#00ff3d"/>
<rect x="250.59" y="790.24" width="11.21" height="9.83" fill="#00ff0a"/>
<rect x="261.51" y="790.24" width="11.21" height="9.83" fill="#99ff00"/>
<rect x="272.42" y="790.24" width="11.21" height="9.83" fill="#e0ff00"/>
<rect x="283.33" y="790.24" width="11.21" height="9.83" fill="#00ff0a"/>
<rect x="294.25" y="790.24" width="11.21" height="9.83" fill="#4cff00"/>
<rect x="305.16" y="790.24" width="11.21" height="9.83" fill="#00ff0a"/>
<rect x="316.07" y="790.24" width="11.21" height="9.83" fill="#00ff3d"/>
<rect x="326.99" y="790.24" width="11.21" height="9.83" fill="#00ff0a"/>
<rect x="337.90" y="790.24" width="11.21" height="9.83" fill="#00ff0a"/>
<rect x="348.82" y="790.24" width="11.21" height="9.83" fill="#99ff00"/>
<rect x="359.73" y="790.24" width="11.21" height="9.83" fill="#00ff0a"/>
<rect x="370.64" y="790.24" width="5.76" height="9.83" fill="#00ff0a"/>
<rect x="59.60" y="799.77" width="5.76" height="9.83" fill="#00ff3d"/>
<rect x="65.06" y="799.77" width="11.21" height="9.83" fill="#00ff0a"/>
<rect x="75.97" y="799.77" width="11.21" height="9.83" fill="#00ff0a"/>
<rect x="86.88" y="799.77" width="11.21" height="9.83" fill="#00ff3d"/>
<rect x="97.80" y="799.77" width="11.21" height="9.83" fill="#00ff0a"/>
<rect x="108.71" y="799.77" width="11.21" height="9.83" fill="#00ff3d"/>
<rect x="119.63" y="799.77" width="11.21" height="9.83" fill="#00ff0a"/>
<rect x="130.54" y="799.77" width="11.21" height="9.83" fill="#4cff00"/>
<rect x="141.45" y="799.77" width="11.21" height="9.83" fill="#00ff0a"/>
<rect x="152.37" y="799.77" width="11.21" height="9.83" fill="#00ff0a"/>
<rect x="163.28" y="799.77" width="11.21" height="9.83" fill="#00ff0a"/>
<rect x="174.19" y="799.77" width="11.21" height="9.83" fill="#00ff0a"/>
<rect x="185.11" y="799.77" width="11.21" height="9.83" fill="#00ff3d"/>
<rect x="196.02" y="799.77" width="11.21" height="9.83" fill="#00ff0a"/>
<rect x="206.94" y="799.77" width="11.21" height="9.83" fill="#4cff00"/>
<rect x="217.85" y="799.77" width="11.21" height="9.83" fill="#4cff00"/>
<rect x="228.76" y="799.77" width="11.21" height="9.83" fill="#4cff00"/>
<rect x="239.68" y="799.77" width="11.21" height="9.83" fill="#00ff0a"/>
<rect x="250.59" y="799.77" width="11.21" height="9.83" fill="#4cff00"/>
<rect x="261.51" y="799.77" width="11.21" height="9.83" fill="#00ff0a"/>
<rect x="272.42" y="799.77" width="11.21" height="9.83" fill="#00ff3d"/>
<rect x="283.33" y="799.77" width="11.21" height="9.83" fill="#4cff00"/>
<rect x="294.25" y="799.77" width="11.21" height="9.83" fill="#00ff0a"/>
<rect x="305.16" y="799.77" width="11.21" height="9.83" fill="#00ff0a"/>
<rect x="316.07" y="799.77" width="11.21" height="9.83" fill="#00ff0a"/>
<rect x="326.99" y="799.77" width="11.21" height="9.83" fill="#4cff00"/>
<rect x="337.90" y="799.77" width="11.21" height="9.83" fill="#00ff0a"/>
<rect x="348.82" y="799.77" width="11.21" height="9.83" fill="#00ff0a"/>
<rect x="359.73" y="799.77" width="11.21" height="9.83" fill="#00ff7a"/>
<rect x="370.64" y="799.77" width="5.76" height="9.83" fill="#00ff0a"/>
<rect x="59.60" y="809.31" width="5.76" height="9.83" fill="#4cff00"/>
<rect x="65.06" y="809.31" width="11.21" height="9.83" fill="#4cff00"/>
<rect x="75.97" y="809.31" width="11.21" height="9.83" fill="#00ff0a"/>
<rect x="86.88" y="809.31" width="11.21" height="9.83" fill="#00ff0a"/>
<rect x="97.80" y="809.31" width="11.21" height="9.83" fill="#00ff0a"/>
<rect x="108.71" y="809.31" width="11.21" height="9.83" fill="#4cff00"/>
<rect x="119.63" y="809.31" width="11.21" height="9.83" fill="#00ff0a"/>
<rect x="130.54" y="809.31" width="11.21" height="9.83" fill="#00ff0a"/>
<rect x="141.45" y="809.31" width="11.21" height="9.83" fill="#00ff0a"/>
<rect x="152.37" y="809.31" width="11.21" height="9.83" fill="#4cff00"/>
<rect x="163.28" y="809.31" width="11.21" height="9.83" fill="#00ff0a"/>
<rect x="174.19" y="809.31" width="11.21" height="9.83" fill="#00ff3d"/>
<rect x="185.11" y="809.31" width="11.21" height="9.83" fill="#00ff0a"/>
<rect x="196.02" y="809.31" width="11.21" height="9.83" fill="#4cff00"/>
<rect x="206.94" y="809.31" width="11.21" height="9.83" fill="#99ff00"/>
<rect x="217.85" y="809.31" width="11.21" height="9.83" fill="#00ff0a"/>
<rect x="228.76" y="809.31" width="11.21" height="9.83" fill="#4cff00"/>
<rect x="239.68" y="809.31" width="11.21" height="9.83" fill="#4cff00"/>
<rect x="250.59" y="809.31" width="11.21" height="9.83" fill="#00ff0a"/>
<rect x="261.51" y="809.31" width="11.21" height="9.83" fill="#00ff0a"/>
<rect x="272.42" y="809.31" width="11.21" height="9.83" fill="#4cff00"/>
<rect x="283.33" y="809.31" width="11.21" height="9.83" fill="#00ff0a"/>
<rect x="294.25" y="809.31" width="11.21" height="9.83" fill="#00ff0a"/>
<rect x="305.16" y="809.31" width="11.21" height="9.83" fill="#4cff00"/>
<rect x="316.07" y="809.31" width="11.21" height="9.83" fill="#00ff3d"/>
<rect x="326.99" y="809.31" width="11.21" height="9.83" fill="#00ff7a"/>
<rect x="337.90" y="809.31" width="11.21" height="9.83" fill="#00ff0a"/>
<rect x="348.82" y="809.31" width="11.21" height="9.83" fill="#00ff0a"/>
<rect x="359.73" y="809.31" width="11.21" height="9.83" fill="#00ff0a"/>
<rect x="370.64" y="809.31" width="5.76" height="9.83" fill="#00ff0a"/>
<rect x="59.60" y="818.84" width="5.76" height="9.83" fill="#00ff0a"/>
<rect x="65.06" y="818.84" width="11.21" height="9.83" fill="#00ff0a"/>
<rect x="75.97" y="818.84" width="11.21" height="9.83" fill="#00ff0a"/>
<rect x="86.88" y="818.84" width="11.21" height="9.83" fill="#00ff0a"/>
<rect x="97.80" y="818.84" width="11.21" height="9.83" fill="#00ff0a"/>
<rect x="108.71" y="818.84" width="11.21" height="9.83" fill="#00ff3d"/>
<rect x="119.63" y="818.84" width="11.21" height="9.83" fill="#00ff0a"/>
<rect x="130.54" y="818.84" width="11.21" height="9.83" fill="#00ff3d"/>
<rect x="141.45" y="818.84" width="11.21" height="9.83" fill="#00ff3d"/>
<rect x="152.37" y="818.84" width="11.21" height="9.83" fill="#00ff3d"/>
<rect x="163.28" y="818.84" width="11.21" height="9.83" fill="#00ff0a"/>
<rect x="174.19" y="818.84" width="11.21" height="9.83" fill="#00ff0a"/>
<rect x="185.11" y="818.84" width="11.21" height="9.83" fill="#4cff00"/>
<rect x="196.02" y="818.84" width="11.21" height="9.83" fill="#00ff0a"/>
<rect x="206.94" y="818.84" width="11.21" height="9.83" fill="#99ff00"/>
<rect x="217.85" y="818.84" width="11.21" height="9.83" fill="#4cff00"/>
<rect x="228.76" y="818.84" width="11.21" height="9.83" fill="#00ff0a"/>
<rect x="239.68" y="818.84" width="11.21" height="9.83" fill="#00ff0a"/>
<rect x="250.59" y="818.84" width="11.21" height="9.83" fill="#00ff0a"/>
<rect x="261.51" y="818.84" width="11.21" height="9.83" fill="#4cff00"/>
<rect x="272.42" y="818.84" width="11.21" height="9.83" fill="#00ff0a"/>
<rect x="283.33" y="818.84" width="11.21" height="9.83" fill="#99ff00"/>
<rect x="294.25" y="818.84" width="11.21" height="9.83" fill="#00ff0a"/>
<rect x="305.16" y="818.84" width="11.21" height="9.83" fill="#00ff0a"/>
<rect x="316.07" y="818.84" width="11.21" height="9.83" fill="#00ff3d"/>
<rect x="326.99" y="818.84" width="11.21" height="9.83" fill="#00ff0a"/>
<rect x="337.90" y="818.84" width="11.21" height="9.83" fill="#00ff0a"/>
<rect x="348.82" y="818.84" width="11.21" height="9.83" fill="#00ff0a"/>
<rect x="359.73" y="818.84" width="11.21" height="9.83" fill="#00ff0a"/>
<rect x="370.64" y="818.84" width="5.76" height="9.83" fill="#00ff0a"/>
<rect x="59.60" y="828.37" width="5.76" height="9.83" fill="#4cff00"/>
<rect x="65.06" y="828.37" width="11.21" height="9.83" fill="#4cff00"/>
<rect x="75.97" y="828.37" width="11.21" height="9.83" fill="#00ff0a"/>
<rect x="86.88" y="828.37" width="11.21" height="9.83" fill="#00ff0a"/>
<rect x="97.80" y="828.37" width="11.21" height="9.83" fill="#00ff0a"/>
<rect x="108.71" y="828.37" width="11.21" height="9.83" fill="#00ff0a"/>
<rect x="119.63" y="828.37" width="11.21" height="9.83" fill="#4cff00"/>
<rect x="130.54" y="828.37" width="11.21" height="9.83" fill="#4cff00"/>
<rect x="141.45" y="828.37" width="11.21" height="9.83" fill="#4cff00"/>
<rect x="152.37" y="828.37" width="11.21" height="9.83" fill="#00ff0a"/>
<rect x="163.28" y="828.37" width="11.21" height="9.83" fill="#00ff0a"/>
<rect x="174.19" y="828.37" width="11.21" height="9.83" fill="#00ff0a"/>
<rect x="185.11" y="828.37" width="11.21" height="9.83" fill="#00ff0a"/>
<rect x="196.02" y="828.37" width="11.21" height="9.83" fill="#00ff0a"/>
<rect x="206.94" y="828.37" width="11.21" height="9.83" fill="#00ff0a"/>
<rect x="217.85" y="828.37" width="11.21" height="9.83" fill="#00ff3d"/>
<rect x="228.76" y="828.37" width="11.21" height="9.83" fill="#00ff0a"/>
<rect x="239.68" y="828.37" width="11.21" height="9.83" fill="#00ff0a"/>
<rect x="250.59" y="828.37" width="11.21" height="9.83" fill="#00ff7a"/>
<rect x="261.51" y="828.37" width="11.21" height="9.83" fill="#00ff0a"/>
<rect x="272.42" y="828.37" width="11.21" height="9.83" fill="#4cff00"/>
<rect x="283.33" y="828.37" width="11.21" height="9.83" fill="#00ff3d"/>
<rect x="294.25" y="828.37" width="11.21" height="9.83" fill="#00ff3d"/>
<rect x="305.16" y="828.37" width="11.21" height="9.83" fill="#4cff00"/>
<rect x="316.07" y="828.37" width="11.21" height="9.83" fill="#00ff0a"/>
<rect x="326.99" y="828.37" width="11.21" height="9.83" fill="#00ff0a"/>
<rect x="337.90" y="828.37" width="11.21" height="9.83" fill="#00ff0a"/>
<rect x="348.82" y="828.37" width="11.21" height="9.83" fill="#00ff0a"/>
<rect x="359.73" y="828.37" width="11.21" height="9.83" fill="#00ff0a"/>
<rect x="370.64" y="828.37" width="5.76" height="9.83" fill="#00ff0a"/>
<rect x="59.60" y="837.91" width="5.76" height="9.83" fill="#00ff0a"/>
<rect x="65.06" y="837.91" width="11.21" height="9.83" fill="#00ff0a"/>
<rect x="75.97" y="837.91" width="11.21" height="9.83" fill="#00ff0a"/>
<rect x="86.88" y="837.91" width="11.21" height="9.83" fill="#00ff0a"/>
<rect x="97.80" y="837.91" width="11.21" height="9.83" fill="#00ff0a"/>
<rect x="108.71" y="837.91" width="11.21" height="9.83" fill="#00ff7a"/>
<rect x="119.63" y="837.91" width="11.21" height="9.83" fill="#00ff0a"/>
<rect x="130.54" y="837.91" width="11.21" height="9.83" fill="#00ff3d"/>
<rect x="141.45" y="837.91" width="11.21" height="9.83" fill="#00ff7a"/>
<rect x="152.37" y="837.91" width="11.21" height="9.83" fill="#00ff0a"/>
<rect x="163.28" y="837.91" width="11.21" height="9.83" fill="#00ff3d"/>
<rect x="174.19" y="837.91" width="11.21" height="9.83" fill="#00ff0a"/>
<rect x="185.11" y="837.91" width="11.21" height="9.83" fill="#00ff0a"/>
<rect x="196.02" y="837.91" width="11.21" height="9.83" fill="#00ff0a"/>
<rect x="206.94" y="837.91" width="11.21" height="9.83" fill="#00ff0a"/>
<rect x="217.85" y="837.91" width="11.21" height="9.83" fill="#4cff00"/>
<rect x="228.76" y="837.91" width="11.21" height="9.83" fill="#00ff7a"/>
<rect x="239.68" y="837.91" width="11.21" height="9.83" fill="#00ff0a"/>
<rect x="250.59" y="837.91" width="11.21" height="9.83" fill="#00ff7a"/>
<rect x="261.51" y="837.91" width="11.21" height="9.83" fill="#00ff0a"/>
<rect x="272.42" y="837.91" width="11.21" height="9.83" fill="#00ff0a"/>
<rect x="283.33" y="837.91" width="11.21" height="9.83" fill="#00ff7a"/>
<rect x="294.25" y="837.91" width="11.21" height="9.83" fill="#4cff00"/>
<rect x="305.16" y="837.91" width="11.21" height="9.83" fill="#00ff0a"/>
<rect x="316.07" y="837.91" width="11.21" height="9.83" fill="#00ff0a"/>
<rect x="326.99" y="837.91" width="11.21" height="9.83" fill="#00ff0a"/>
<rect x="337.90" y="837.91" width="11.21" height="9.83" fill="#00ff7a"/>
<rect x="348.82" y="837.91" width="11.21" height="9.83" fill="#4cff00"/>
<rect x="359.73" y="837.91" width="11.21" height="9.83" fill="#00ff7a"/>
<rect x="370.64" y="837.91" width="5.76" height="9.83" fill="#00ff0a"/>
<rect x="59.60" y="847.44" width="5.76" height="9.83" fill="#00ff3d"/>
<rect x="65.06" y="847.44" width="11.21" height="9.83" fill="#00ff7a"/>
<rect x="75.97" y="847.44" width="11.21" height="9.83" fill="#00ff0a"/>
<rect x="86.88" y="847.44" width="11.21" height="9.83" fill="#e0ff00"/>
<rect x="97.80" y="847.44" width="11.21" height="9.83" fill="#00ff0a"/>
<rect x="108.71" y="847.44" width="11.21" height="9.83" fill="#4cff00"/>
<rect x="119.63" y="847.44" width="11.21" height="9.83" fill="#4cff00"/>
<rect x="130.54" y="847.44" width="11.21" height="9.83" fill="#00ff0a"/>
<rect x="141.45" y="847.44" width="11.21" height="9.83" fill="#00ff0a"/>
<rect x="152.37" y="847.44" width="11.21" height="9.83" fill="#00ff0a"/>
<rect x="163.28" y="847.44" width="11.21" height="9.83" fill="#00ff0a"/>
<rect x="174.19" y="847.44" width="11.21" height="9.83" fill="#00ff0a"/>
<rect x="185.11" y="847.44" width="11.21" height="9.83" fill="#e0ff00"/>
<rect x="196.02" y="847.44" width="11.21" height="9.83" fill="#00ff0a"/>
<rect x="206.94" y="847.44" width="11.21" height="9.83" fill="#00ff3d"/>
<rect x="217.85" y="847.44" width="11.21" height="9.83" fill="#00ff0a"/>
<rect x="228.76" y="847.44" width="11.21" height="9.83" fill="#00ff0a"/>
<rect x="239.68" y="847.44" width="11.21" height="9.83" fill="#00ff0a"/>
<rect x="250.59" y="847.44" width="11.21" height="9.83" fill="#4cff00"/>
<rect x="261.51" y="847.44" width="11.21" height="9.83" fill="#00ff0a"/>
<rect x="272.42" y="847.44" width="11.21" height="9.83" fill="#4cff00"/>
<rect x="283.33" y="847.44" width="11.21" height="9.83" fill="#00ff7a"/>
<rect x="294.25" y="847.44" width="11.21" height="9.83" fill="#e0ff00"/>
<rect x="305.16" y="847.44" width="11.21" height="9.83" fill="#4cff00"/>
<rect x="316.07" y="847.44" width="11.21" height="9.83" fill="#00ff0a"/>
<rect x="326.99" y="847.44" width="11.21" height="9.83" fill="#4cff00"/>
<rect x="337.90" y="847.44" width="11.21" height="9.83" fill="#00ff7a"/>
<rect x="348.82" y="847.44" width="11.21" height="9.83" fill="#e0ff00"/>
<rect x="359.73" y="847.44" width="11.21" height="9.83" fill="#00ff0a"/>
<rect x="370.64" y="847.44" width="5.76" height="9.83" fill="#e0ff00"/>
<rect x="59.60" y="856.98" width="5.76" height="9.83" fill="#00ff3d"/>
<rect x="65.06" y="856.98" width="11.21" height="9.83" fill="#00ff0a"/>
<rect x="75.97" y="856.98" width="11.21" height="9.83" fill="#4cff00"/>
<rect x="86.88" y="856.98" width="11.21" height="9.83" fill="#00ff0a"/>
<rect x="97.80" y="856.98" width="11.21" height="9.83" fill="#00ff3d"/>
<rect x="108.71" y="856.98" width="11.21" height="9.83" fill="#00ff3d"/>
<rect x="119.63" y="856.98" width="11.21" height="9.83" fill="#4cff00"/>
<rect x="130.54" y="856.98" width="11.21" height="9.83" fill="#00ff3d"/>
<rect x="141.45" y="856.98" width="11.21" height="9.83" fill="#00ff0a"/>
<rect x="152.37" y="856.98" width="11.21" height="9.83" fill="#00ff0a"/>
<rect x="163.28" y="856.98" width="11.21" height="9.83" fill="#4cff00"/>
<rect x="174.19" y="856.98" width="11.21" height="9.83" fill="#4cff00"/>
<rect x="185.11" y="856.98" width="11.21" height="9.83" fill="#00ff3d"/>
<rect x="196.02" y="856.98" width="11.21" height="9.83" fill="#00ff0a"/>
<rect x="206.94" y="856.98" width="11.21" height="9.83" fill="#00ff0a"/>
<rect x="217.85" y="856.98" width="11.21" height="9.83" fill="#00ff3d"/>
<rect x="228.76" y="856.98" width="11.21" height="9.83" fill="#00ff0a"/>
<rect x="239.68" y="856.98" width="11.21" height="9.83" fill="#4cff00"/>
<rect x="250.59" y="856.98" width="11.21" height="9.83" fill="#00ff0a"/>
<rect x="261.51" y="856.98" width="11.21" height="9.83" fill="#00ff0a"/>
<rect x="272.42" y="856.98" width="11.21" height="9.83" fill="#00ff0a"/>
<rect x="283.33" y="856.98" width="11.21" height="9.83" fill="#00ff3d"/>
<rect x="294.25" y="856.98" width="11.21" height="9.83" fill="#4cff00"/>
<rect x="305.16" y="856.98" width="11.21" height="9.83" fill="#00ff0a"/>
<rect x="316.07" y="856.98" width="11.21" height="9.83" fill="#00ff0a"/>
<rect x="326.99" y="856.98" width="11.21" height="9.83" fill="#00ff0a"/>
<rect x="337.90" y="856.98" width="11.21" height="9.83" fill="#00ff0a"/>
<rect x="348.82" y="856.98" width="11.21" height="9.83" fill="#00ff0a"/>
<rect x="359.73" y="856.98" width="11.21" height="9.83" fill="#00ff0a"/>
<rect x="370.64" y="856.98" width="5.76" height="9.83" fill="#4cff00"/>
<rect x="59.60" y="866.51" width="5.76" height="9.83" fill="#00ff0a"/>
<rect x="65.06" y="866.51" width="11.21" height="9.83" fill="#4cff00"/>
<rect x="75.97" y="866.51" width="11.21" height="9.83" fill="#00ff0a"/>
<rect x="86.88" y="866.51" width="11.21" height="9.83" fill="#00ff0a"/>
<rect x="97.80" y="866.51" width="11.21" height="9.83" fill="#4cff00"/>
<rect x="108.71" y="866.51" width="11.21" height="9.83" fill="#00ff0a"/>
<rect x="119.63" y="866.51" width="11.21" height="9.83" fill="#00ff0a"/>
<rect x="130.54" y="866.51" width="11.21" height="9.83" fill="#00ff7a"/>
<rect x="141.45" y="866.51" width="11.21" height="9.83" fill="#00ff7a"/>
<rect x="152.37" y="866.51" width="11.21" height="9.83" fill="#4cff00"/>
<rect x="163.28" y="866.51" width="11.21" height="9.83" fill="#00ff7a"/>
<rect x="174.19" y="866.51" width="11.21" height="9.83" fill="#00ff0a"/>
<rect x="185.11" y="866.51" width="11.21" height="9.83" fill="#00ff0a"/>
<rect x="196.02" y="866.51" width="11.21" height="9.83" fill="#00ff3d"/>
<rect x="206.94" y="866.51" width="11.21" height="9.83" fill="#00ff0a"/>
<rect x="217.85" y="866.51" width="11.21" height="9.83" fill="#00ff0a"/>
<rect x="228.76" y="866.51" width="11.21" height="9.83" fill="#00ff0a"/>
<rect x="239.68" y="866.51" width="11.21" height="9.83" fill="#00ff0a"/>
<rect x="250.59" y="866.51" width="11.21" height="9.83" fill="#00ff3d"/>
<rect x="261.51" y="866.51" width="11.21" height="9.83" fill="#00ff0a"/>
<rect x="272.42" y="866.51" width="11.21" height="9.83" fill="#00ff0a"/>
<rect x="283.33" y="866.51" width="11.21" height="9.83" fill="#00ff0a"/>
<rect x="294.25" y="866.51" width="11.21" height="9.83" fill="#4cff00"/>
<rect x="305.16" y="866.51" width="11.21" height="9.83" fill="#00ff3d"/>
<rect x="316.07" y="866.51" width="11.21" height="9.83" fill="#4cff00"/>
<rect x="326.99" y="866.51" width="11.21" height="9.83" fill="#00ff0a"/>
<rect x="337.90" y="866.51" width="11.21" height="9.83" fill="#00ff0a"/>
<rect x="348.82" y="866.51" width="11.21" height="9.83" fill="#00ff0a"/>
<rect x="359.73" y="866.51" width="11.21" height="9.83" fill="#e0ff00"/>
<rect x="370.64" y="866.51" width="5.76" height="9.83" fill="#00ff0a"/>
<rect x="59.60" y="876.05" width="5.76" height="9.83" fill="#99ff00"/>
<rect x="65.06" y="876.05" width="11.21" height="9.83" fill="#00ff0a"/>
<rect x="75.97" y="876.05" width="11.21" height="9.83" fill="#00ff0a"/>
<rect x="86.88" y="876.05" width="11.21" height="9.83" fill="#4cff00"/>
<rect x="97.80" y="876.05" width="11.21" height="9.83" fill="#00ff0a"/>
<rect x="108.71" y="876.05" width="11.21" height="9.83" fill="#99ff00"/>
<rect x="119.63" y="876.05" width="11.21" height="9.83" fill="#00ff7a"/>
<rect x="130.54" y="876.05" width="11.21" height="9.83" fill="#00ff0a"/>
<rect x="141.45" y="876.05" width="11.21" height="9.83" fill="#00ff0a"/>
<rect x="152.37" y="876.05" width="11.21" height="9.83" fill="#4cff00"/>
<rect x="163.28" y="876.05" width="11.21" height="9.83" fill="#00ff0a"/>
<rect x="174.19" y="876.05" width="11.21" height="9.83" fill="#00ff0a"/>
<rect x="185.11" y="876.05" width="11.21" height="9.83" fill="#99ff00"/>
<rect x="196.02" y="876.05" width="11.21" height="9.83" fill="#00ff7a"/>
<rect x="206.94" y="876.05" width="11.21" height="9.83" fill="#99ff00"/>
<rect x="217.85" y="876.05" width="11.21" height="9.83" fill="#00ff0a"/>
<rect x="228.76" y="876.05" width="11.21" height="9.83" fill="#00ff0a"/>
<rect x="239.68" y="876.05" width="11.21" height="9.83" fill="#00ff0a"/>
<rect x="250.59" y="876.05" width="11.21" height="9.83" fill="#00ff3d"/>
<rect x="261.51" y="876.05" width="11.21" height="9.83" fill="#00ff0a"/>
<rect x="272.42" y="876.05" width="11.21" height="9.83" fill="#00ff0a"/>
<rect x="283.33" y="876.05" width="11.21" height="9.83" fill="#00ff0a"/>
<rect x="294.25" y="876.05" width="11.21" height="9.83" fill="#00ff0a"/>
<rect x="305.16" y="876.05" width="11.21" height="9.83" fill="#00ff7a"/>
<rect x="316.07" y="876.05" width="11.21" height="9.83" fill="#00ff0a"/>
<rect x="326.99" y="876.05" width="11.21" height="9.83" fill="#00ff0a"/>
<rect x="337.90" y="876.05" width="11.21" height="9.83" fill="#00ff3d"/>
<rect x="348.82" y="876.05" width="11.21" height="9.83" fill="#00ff0a"/>
<rect x="359.73" y="876.05" width="11.21" height="9.83" fill="#4cff00"/>
<rect x="370.64" y="876.05" width="5.76" height="9.83" fill="#00ff0a"/>
<rect x="59.60" y="885.58" width="5.76" height="9.83" fill="#00ff0a"/>
<rect x="65.06" y="885.58" width="11.21" height="9.83" fill="#00ff3d"/>
<rect x="75.97" y="885.58" width="11.21" height="9.83" fill="#00ff3d"/>
<rect x="86.88" y="885.58" width="11.21" height="9.83" fill="#00ff7a"/>
<rect x="97.80" y="885.58" width="11.21" height="9.83" fill="#99ff00"/>
<rect x="108.71" y="885.58" width="11.21" height="9.83" fill="#00ff3d"/>
<rect x="119.63" y="885.58" width="11.21" height="9.83" fill="#4cff00"/>
<rect x="130.54" y="885.58" width="11.21" height="9.83" fill="#00ff0a"/>
<rect x="141.45" y="885.58" width="11.21" height="9.83" fill="#00ff0a"/>
<rect x="152.37" y="885.58" width="11.21" height="9.83" fill="#00ff0a"/>
<rect x="163.28" y="885.58" width="11.21" height="9.83" fill="#4cff00"/>
<rect x="174.19" y="885.58" width="11.21" height="9.83" fill="#4cff00"/>
<rect x="185.11" y="885.58" width="11.21" height="9.83" fill="#00ff0a"/>
<rect x="196.02" y="885.58" width="11.21" height="9.83" fill="#00ff0a"/>
<rect x="206.94" y="885.58" width="11.21" height="9.83" fill="#00ff0a"/>
<rect x="217.85" y="885.58" width="11.21" height="9.83" fill="#00ff3d"/>
<rect x="228.76" y="885.58" width="11.21" height="9.83" fill="#00ff0a"/>
<rect x="239.68" y="885.58" width="11.21" height="9.83" fill="#e0ff00"/>
<rect x="250.59" y="885.58" width="11.21" height="9.83" fill="#00ff3d"/>
<rect x="261.51" y="885.58" width="11.21" height="9.83" fill="#00ff0a"/>
<rect x="272.42" y="885.58" width="11.21" height="9.83" fill="#00ff3d"/>
<rect x="283.33" y="885.58" width="11.21" height="9.83" fill="#00ff0a"/>
<rect x="294.25" y="885.58" width="11.21" height="9.83" fill="#4cff00"/>
<rect x="305.16" y="885.58" width="11.21" height="9.83" fill="#e0ff00"/>
<rect x="316.07" y="885.58" width="11.21" height="9.83" fill="#00ff0a"/>
<rect x="326.99" y="885.58" width="11.21" height="9.83" fill="#00ff0a"/>
<rect x="337.90" y="885.58" width="11.21" height="9.83" fill="#00ff0a"/>
<rect x="348.82" y="885.58" width="11.21" height="9.83" fill="#00ff0a"/>
<rect x="359.73" y="885.58" width="11.21" height="9.83" fill="#00ff0a"/>
<rect x="370.64" y="885.58" width="5.76" height="9.83" fill="#00ff0a"/>
<rect x="59.60" y="895.12" width="5.76" height="9.83" fill="#00ff3d"/>
<rect x="65.06" y="895.12" width="11.21" height="9.83" fill="#e0ff00"/>
<rect x="75.97" y="895.12" width="11.21" height="9.83" fill="#00ff0a"/>
<rect x="86.88" y="895.12" width="11.21" height="9.83" fill="#4cff00"/>
<rect x="97.80" y="895.12" width="11.21" height="9.83" fill="#99ff00"/>
<rect x="108.71" y="895.12" width="11.21" height="9.83" fill="#00ff0a"/>
<rect x="119.63" y="895.12" width="11.21" height="9.83" fill="#4cff00"/>
<rect x="130.54" y="895.12" width="11.21" height="9.83" fill="#99ff00"/>
<rect x="141.45" y="895.12" width="11.21" height="9.83" fill="#00ff0a"/>
<rect x="152.37" y="895.12" width="11.21" height="9.83" fill="#4cff00"/>
<rect x="163.28" y="895.12" width="11.21" height="9.83" fill="#00ff0a"/>
<rect x="174.19" y="895.12" width="11.21" height="9.83" fill="#00ff0a"/>
<rect x="185.11" y="895.12" width="11.21" height="9.83" fill="#00ff0a"/>
<rect x="196.02" y="895.12" width="11.21" height="9.83" fill="#4cff00"/>
<rect x="206.94" y="895.12" width="11.21" height="9.83" fill="#00ff7a"/>
<rect x="217.85" y="895.12" width="11.21" height="9.83" fill="#00ff7a"/>
<rect x="228.76" y="895.12" width="11.21" height="9.83" fill="#00ff0a"/>
<rect x="239.68" y="895.12" width="11.21" height="9.83" fill="#00ff0a"/>
<rect x="250.59" y="895.12" width="11.21" height="9.83" fill="#00ff0a"/>
<rect x="261.51" y="895.12" width="11.21" height="9.83" fill="#00ff7a"/>
<rect x="272.42" y="895.12" width="11.21" height="9.83" fill="#003dff"/>
<rect x="283.33" y="895.12" width="11.21" height="9.83" fill="#00ff0a"/>
<rect x="294.25" y="895.12" width="11.21" height="9.83" fill="#00ff0a"/>
<rect x="305.16" y="895.12" width="11.21" height="9.83" fill="#00ff0a"/>
<rect x="316.07" y="895.12" width="11.21" height="9.83" fill="#00ff0a"/>
<rect x="326.99" y="895.12" width="11.21" height="9.83" fill="#00ff3d"/>
<rect x="337.90" y="895.12" width="11.21" height="9.83" fill="#ffcc00"/>
<rect x="348.82" y="895.12" width="11.21" height="9.83" fill="#00ff0a"/>
<rect x="359.73" y="895.12" width="11.21" height="9.83" fill="#00ff3d"/>
<rect x="370.64" y="895.12" width="5.76" height="9.83" fill="#4cff00"/>
<rect x="59.60" y="904.65" width="5.76" height="9.83" fill="#00ff0a"/>
<rect x="65.06" y="904.65" width="11.21" height="9.83" fill="#00ff0a"/>
<rect x="75.97" y="904.65" width="11.21" height="9.83" fill="#00ff0a"/>
<rect x="86.88" y="904.65" width="11.21" height="9.83" fill="#00ff0a"/>
<rect x="97.80" y="904.65" width="11.21" height="9.83" fill="#00ff7a"/>
<rect x="108.71" y="904.65" width="11.21" height="9.83" fill="#00ff0a"/>
<rect x="119.63" y="904.65" width="11.21" height="9.83" fill="#4cff00"/>
<rect x="130.54" y="904.65" width="11.21" height="9.83" fill="#00ff0a"/>
<rect x="141.45" y="904.65" width="11.21" height="9.83" fill="#00ff3d"/>
<rect x="152.37" y="904.65" width="11.21" height="9.83" fill="#00ff0a"/>
<rect x="163.28" y="904.65" width="11.21" height="9.83" fill="#00ff0a"/>
<rect x="174.19" y="904.65" width="11.21" height="9.83" fill="#00ff0a"/>
<rect x="185.11" y="904.65" width="11.21" height="9.83" fill="#4cff00"/>
<rect x="196.02" y="904.65" width="11.21" height="9.83" fill="#00ff0a"/>
<rect x="206.94" y="904.65" width="11.21" height="9.83" fill="#00ff0a"/>
<rect x="217.85" y="904.65" width="11.21" height="9.83" fill="#99ff00"/>
<rect x="228.76" y="904.65" width="11.21" height="9.83" fill="#00ff3d"/>
<rect x="239.68" y="904.65" width="11.21" height="9.83" fill="#00ff0a"/>
<rect x="250.59" y="904.65" width="11.21" height="9.83" fill="#00ff0a"/>
<rect x="261.51" y="904.65" width="11.21" height="9.83" fill="#00ff0a"/>
<rect x="272.42" y="904.65" width="11.21" height="9.83" fill="#00ff0a"/>
<rect x="283.33" y="904.65" width="11.21" height="9.83" fill="#00ff0a"/>
<rect x="294.25" y="904.65" width="11.21" height="9.83" fill="#4cff00"/>
<rect x="305.16" y="904.65" width="11.21" height="9.83" fill="#00ff3d"/>
<rect x="316.07" y="904.65" width="11.21" height="9.83" fill="#00ff0a"/>
<rect x="326.99" y="904.65" width="11.21" height="9.83" fill="#4cff00"/>
<rect x="337.90" y="904.65" width="11.21" height="9.83" fill="#00ff0a"/>
<rect x="348.82" y="904.65" width="11.21" height="9.83" fill="#00ff0a"/>
<rect x="359.73" y="904.65" width="11.21" height="9.83" fill="#00ff0a"/>
<rect x="370.64" y="904.65" width="5.76" height="9.83" fill="#00ff0a"/>
<rect x="59.60" y="914.18" width="5.76" height="9.83" fill="#00ff0a"/>
<rect x="65.06" y="914.18" width="11.21" height="9.83" fill="#00ff3d"/>
<rect x="75.97" y="914.18" width="11.21" height="9.83" fill="#00ff7a"/>
<rect x="86.88" y="914.18" width="11.21" height="9.83" fill="#4cff00"/>
<rect x="97.80" y="914.18" width="11.21" height="9.83" fill="#00ff0a"/>
<rect x="108.71" y="914.18" width="11.21" height="9.83" fill="#00ff0a"/>
<rect x="119.63" y="914.18" width="11.21" height="9.83" fill="#4cff00"/>
<rect x="130.54" y="914.18" width="11.21" height="9.83" fill="#4cff00"/>
<rect x="141.45" y="914.18" width="11.21" height="9.83" fill="#00ff7a"/>
<rect x="152.37" y="914.18" width="11.21" height="9.83" fill="#4cff00"/>
<rect x="163.28" y="914.18" width="11.21" height="9.83" fill="#00ff3d"/>
<rect x="174.19" y="914.18" width="11.21" height="9.83" fill="#00ff0a"/>
<rect x="185.11" y="914.18" width="11.21" height="9.83" fill="#00ff7a"/>
<rect x="196.02" y="914.18" width="11.21" height="9.83" fill="#4cff00"/>
<rect x="206.94" y="914.18" width="11.21" height="9.83" fill="#00ff0a"/>
<rect x="217.85" y="914.18" width="11.21" height="9.83" fill="#00ff0a"/>
<rect x="228.76" y="914.18" width="11.21" height="9.83" fill="#00ff3d"/>
<rect x="239.68" y="914.18" width="11.21" height="9.83" fill="#00ff3d"/>
<rect x="250.59" y="914.18" width="11.21" height="9.83" fill="#00ff3d"/>
<rect x="261.51" y="914.18" width="11.21" height="9.83" fill="#4cff00"/>
<rect x="272.42" y="914.18" width="11.21" height="9.83" fill="#00ff0a"/>
<rect x="283.33" y="914.18" width="11.21" height="9.83" fill="#00ff0a"/>
<rect x="294.25" y="914.18" width="11.21" height="9.83" fill="#00ff0a"/>
<rect x="305.16" y="914.18" width="11.21" height="9.83" fill="#4cff00"/>
<rect x="316.07" y="914.18" width="11.21" height="9.83" fill="#00ff0a"/>
<rect x="326.99" y="914.18" width="11.21" height="9.83" fill="#00ff3d"/>
<rect x="337.90" y="914.18" width="11.21" height="9.83" fill="#00ff0a"/>
<rect x="348.82" y="914.18" width="11.21" height="9.83" fill="#00ff0a"/>
<rect x="359.73" y="914.18" width="11.21" height="9.83" fill="#00ff0a"/>
<rect x="370.64" y="914.18" width="5.76" height="9.83" fill="#00ff0a"/>
<rect x="59.60" y="923.72" width="5.76" height="9.83" fill="#00ff3d"/>
<rect x="65.06" y="923.72" width="11.21" height="9.83" fill="#00ff3d"/>
<rect x="75.97" y="923.72" width="11.21" height="9.83" fill="#00ff0a"/>
<rect x="86.88" y="923.72" width="11.21" height="9.83" fill="#00ff3d"/>
<rect x="97.80" y="923.72" width="11.21" height="9.83" fill="#00ff0a"/>
<rect x="108.71" y="923.72" width="11.21" height="9.83" fill="#00ff7a"/>
<rect x="119.63" y="923.72" width="11.21" height="9.83" fill="#4cff00"/>
<rect x="130.54" y="923.72" width="11.21" height="9.83" fill="#00ff0a"/>
<rect x="141.45" y="923.72" width="11.21" height="9.83" fill="#4cff00"/>
<rect x="152.37" y="923.72" width="11.21" height="9.83" fill="#00ff0a"/>
<rect x="163.28" y="923.72" width="11.21" height="9.83" fill="#00ff0a"/>
<rect x="174.19" y="923.72" width="11.21" height="9.83" fill="#00ff0a"/>
<rect x="185.11" y="923.72" width="11.21" height="9.83" fill="#00ff0a"/>
<rect x="196.02" y="923.72" width="11.21" height="9.83" fill="#00ff0a"/>
<rect x="206.94" y="923.72" width="11.21" height="9.83" fill="#4cff00"/>
<rect x="217.85" y="923.72" width="11.21" height="9.83" fill="#00ff0a"/>
<rect x="228.76" y="923.72" width="11.21" height="9.83" fill="#00ff0a"/>
<rect x="239.68" y="923.72" width="11.21" height="9.83" fill="#00ff0a"/>
<rect x="250.59" y="923.72" width="11.21" height="9.83" fill="#00ff7a"/>
<rect x="261.51" y="923.72" width="11.21" height="9.83" fill="#00ff0a"/>
<rect x="272.42" y="923.72" width="11.21" height="9.83" fill="#00ff0a"/>
<rect x="283.33" y="923.72" width="11.21" height="9.83" fill="#00ff0a"/>
<rect x="294.25" y="923.72" width="11.21" height="9.83" fill="#00ff3d"/>
<rect x="305.16" y="923.72" width="11.21" height="9.83" fill="#00ff0a"/>
<rect x="316.07" y="923.72" width="11.21" height="9.83" fill="#00ff0a"/>
<rect x="326.99" y="923.72" width="11.21" height="9.83" fill="#00ff0a"/>
<rect x="337.90" y="923.72" width="11.21" height="9.83" fill="#00ff7a"/>
<rect x="348.82" y="923.72" width="11.21" height="9.83" fill="#00ff0a"/>
<rect x="359.73" y="923.72" width="11.21" height="9.83" fill="#00ff0a"/>
<rect x="370.64" y="923.72" width="5.76" height="9.83" fill="#00ff0a"/>
<rect x="59.60" y="933.25" width="5.76" height="9.83" fill="#00ff3d"/>
<rect x="65.06" y="933.25" width="11.21" height="9.83" fill="#4cff00"/>
<rect x="75.97" y="933.25" width="11.21" height="9.83" fill="#4cff00"/>
<rect x="86.88" y="933.25" width="11.21" height="9.83" fill="#00ff0a"/>
<rect x="97.80" y="933.25" width="11.21" height="9.83" fill="#00ff3d"/>
<rect x="108.71" y="933.25" width="11.21" height="9.83" fill="#00ff3d"/>
<rect x="119.63" y="933.25" width="11.21" height="9.83" fill="#00ff3d"/>
<rect x="130.54" y="933.25" width="11.21" height="9.83" fill="#00ff3d"/>
<rect x="141.45" y="933.25" width="11.21" height="9.83" fill="#00ff3d"/>
<rect x="152.37" y="933.25" width="11.21" height="9.83" fill="#00ff0a"/>
<rect x="163.28" y="933.25" width="11.21" height="9.83" fill="#4cff00"/>
<rect x="174.19" y="933.25" width="11.21" height="9.83" fill="#00ff7a"/>
<rect x="185.11" y="933.25" width="11.21" height="9.83" fill="#00ff0a"/>
<rect x="196.02" y="933.25" width="11.21" height="9.83" fill="#00ff0a"/>
<rect x="206.94" y="933.25" width="11.21" height="9.83" fill="#4cff00"/>
<rect x="217.85" y="933.25" width="11.21" height="9.83" fill="#00ff3d"/>
<rect x="228.76" y="933.25" width="11.21" height="9.83" fill="#00ff0a"/>
<rect x="239.68" y="933.25" width="11.21" height="9.83" fill="#00ff7a"/>
<rect x="250.59" y="933.25" width="11.21" height="9.83" fill="#00ff3d"/>
<rect x="261.51" y="933.25" width="11.21" height="9.83" fill="#00ff0a"/>
<rect x="272.42" y="933.25" width="11.21" height="9.83" fill="#00ff0a"/>
<rect x="283.33" y="933.25" width="11.21" height="9.83" fill="#00ff0a"/>
<rect x="294.25" y="933.25" width="11.21" height="9.83" fill="#4cff00"/>
<rect x="305.16" y="933.25" width="11.21" height="9.83" fill="#00ff0a"/>
<rect x="316.07" y="933.25" width="11.21" height="9.83" fill="#4cff00"/>
<rect x="326.99" y="933.25" width="11.21" height="9.83" fill="#00ff0a"/>
<rect x="337.90" y="933.25" width="11.21" height="9.83" fill="#00ff7a"/>
<rect x="348.82" y="933.25" width="11.21" height="9.83" fill="#00ff0a"/>
<rect x="359.73" y="933.25" width="11.21" height="9.83" fill="#00ff0a"/>
<rect x="370.64" y="933.25" width="5.76" height="9.83" fill="#4cff00"/>
<rect x="59.60" y="942.79" width="5.76" height="9.83" fill="#00ff0a"/>
<rect x="65.06" y="942.79" width="11.21" height="9.83" fill="#99ff00"/>
<rect x="75.97" y="942.79" width="11.21" height="9.83" fill="#00ff0a"/>
<rect x="86.88" y="942.79" width="11.21" height="9.83" fill="#4cff00"/>
<rect x="97.80" y="942.79" width="11.21" height="9.83" fill="#00ff3d"/>
<rect x="108.71" y="942.79" width="11.21" height="9.83" fill="#00ff3d"/>
<rect x="119.63" y="942.79" width="11.21" height="9.83" fill="#00ff0a"/>
<rect x="130.54" y="942.79" width="11.21" height="9.83" fill="#00ff0a"/>
<rect x="141.45" y="942.79" width="11.21" height="9.83" fill="#00ff3d"/>
<rect x="152.37" y="942.79" width="11.21" height="9.83" fill="#00ff0a"/>
<rect x="163.28" y="942.79" width="11.21" height="9.83" fill="#00ff0a"/>
<rect x="174.19" y="942.79" width="11.21" height="9.83" fill="#00ff0a"/>
<rect x="185.11" y="942.79" width="11.21" height="9.83" fill="#00ff3d"/>
<rect x="196.02" y="942.79" width="11.21" height="9.83" fill="#00ff0a"/>
<rect x="206.94" y="942.79" width="11.21" height="9.83" fill="#00ff0a"/>
<rect x="217.85" y="942.79" width="11.21" height="9.83" fill="#00ff0a"/>
<rect x="228.76" y="942.79" width="11.21" height="9.83" fill="#00ff0a"/>
<rect x="239.68" y="942.79" width="11.21" height="9.83" fill="#99ff00"/>
<rect x="250.59" y="942.79" width="11.21" height="9.83" fill="#4cff00"/>
<rect x="261.51" y="942.79" width="11.21" height="9.83" fill="#00ff7a"/>
<rect x="272.42" y="942.79" width="11.21" height="9.83" fill="#00ff7a"/>
<rect x="283.33" y="942.79" width="11.21" height="9.83" fill="#00ff3d"/>
<rect x="294.25" y="942.79" width="11.21" height="9.83" fill="#00ff0a"/>
<rect x="305.16" y="942.79" width="11.21" height="9.83" fill="#00ff0a"/>
<rect x="316.07" y="942.79" width="11.21" height="9.83" fill="#00ff0a"/>
<rect x="326.99" y="942.79" width="11.21" height="9.83" fill="#00ff7a"/>
<rect x="337.90" y="942.79" width="11.21" height="9.83" fill="#00ff3d"/>
<rect x="348.82" y="942.79" width="11.21" height="9.83" fill="#00ff0a"/>
<rect x="359.73" y="942.79" width="11.21" height="9.83" fill="#00ff3d"/>
<rect x="370.64" y="942.79" width="5.76" height="9.83" fill="#00ff0a"/>
<rect x="59.60" y="952.32" width="5.76" height="9.83" fill="#4cff00"/>
<rect x="65.06" y="952.32" width="11.21" height="9.83" fill="#00ff0a"/>
<rect x="75.97" y="952.32" width="11.21" height="9.83" fill="#00ff0a"/>
<rect x="86.88" y="952.32" width="11.21" height="9.83" fill="#e0ff00"/>
<rect x="97.80" y="952.32" width="11.21" height="9.83" fill="#00ff0a"/>
<rect x="108.71" y="952.32" width="11.21" height="9.83" fill="#99ff00"/>
<rect x="119.63" y="952.32" width="11.21" height="9.83" fill="#00ff0a"/>
<rect x="130.54" y="952.32" width="11.21" height="9.83" fill="#00ff0a"/>
<rect x="141.45" y="952.32" width="11.21" height="9.83" fill="#00ff3d"/>
<rect x="152.37" y="952.32" width="11.21" height="9.83" fill="#00ff3d"/>
<rect x="163.28" y="952.32" width="11.21" height="9.83" fill="#00ff0a"/>
<rect x="174.19" y="952.32" width="11.21" height="9.83" fill="#99ff00"/>
<rect x="185.11" y="952.32" width="11.21" height="9.83" fill="#00ff0a"/>
<rect x="196.02" y="952.32" width="11.21" height="9.83" fill="#00ff0a"/>
<rect x="206.94" y="952.32" width="11.21" height="9.83" fill="#4cff00"/>
<rect x="217.85" y="952.32" width="11.21" height="9.83" fill="#00ff0a"/>
<rect x="228.76" y="952.32" width="11.21" height="9.83" fill="#4cff00"/>
<rect x="239.68" y="952.32" width="11.21" height="9.83" fill="#00ff0a"/>
<rect x="250.59" y="952.32" width="11.21" height="9.83" fill="#00ff3d"/>
<rect x="261.51" y="952.32" width="11.21" height="9.83" fill="#00ff0a"/>
<rect x="272.42" y="952.32" width="11.21" height="9.83" fill="#4cff00"/>
<rect x="283.33" y="952.32" width="11.21" height="9.83" fill="#00ff0a"/>
<rect x="294.25" y="952.32" width="11.21" height="9.83" fill="#00ff0a"/>
<rect x="305.16" y="952.32" width="11.21" height="9.83" fill="#00ff7a"/>
<rect x="316.07" y="952.32" width="11.21" height="9.83" fill="#00ff3d"/>
<rect x="326.99" y="952.32" width="11.21" height="9.83" fill="#00ff3d"/>
<rect x="337.90" y="952.32" width="11.21" height="9.83" fill="#00ff3d"/>
<rect x="348.82" y="952.32" width="11.21" height="9.83" fill="#00ff0a"/>
<rect x="359.73" y="952.32" width="11.21" height="9.83" fill="#99ff00"/>
<rect x="370.64" y="952.32" width="5.76" height="9.83" fill="#00ff0a"/>
<rect x="59.60" y="961.86" width="5.76" height="9.83" fill="#00ff0a"/>
<rect x="65.06" y="961.86" width="11.21" height="9.83" fill="#4cff00"/>
<rect x="75.97" y="961.86" width="11.21" height="9.83" fill="#00ff3d"/>
<rect x="86.88" y="961.86" width="11.21" height="9.83" fill="#00ff0a"/>
<rect x="97.80" y="961.86" width="11.21" height="9.83" fill="#00ff7a"/>
<rect x="108.71" y="961.86" width="11.21" height="9.83" fill="#00ff0a"/>
<rect x="119.63" y="961.86" width="11.21" height="9.83" fill="#00ff3d"/>
<rect x="130.54" y="961.86" width="11.21" height="9.83" fill="#00ff0a"/>
<rect x="141.45" y="961.86" width="11.21" height="9.83" fill="#00ff0a"/>
<rect x="152.37" y="961.86" width="11.21" height="9.83" fill="#00ff3d"/>
<rect x="163.28" y="961.86" width="11.21" height="9.83" fill="#00ff0a"/>
<rect x="174.19" y="961.86" width="11.21" height="9.83" fill="#00ff3d"/>
<rect x="185.11" y="961.86" width="11.21" height="9.83" fill="#00ff7a"/>
<rect x="196.02" y="961.86" width="11.21" height="9.83" fill="#4cff00"/>
<rect x="206.94" y="961.86" width="11.21" height="9.83" fill="#00ff0a"/>
<rect x="217.85" y="961.86" width="11.21" height="9.83" fill="#00ff3d"/>
<rect x="228.76" y="961.86" width="11.21" height="9.83" fill="#00ffeb"/>
<rect x="239.68" y="961.86" width="11.21" height="9.83" fill="#00ff0a"/>
<rect x="250.59" y="961.86" width="11.21" height="9.83" fill="#00ff3d"/>
<rect x="261.51" y="961.86" width="11.21" height="9.83" fill="#00ff0a"/>
<rect x="272.42" y="961.86" width="11.21" height="9.83" fill="#00ff0a"/>
<rect x="283.33" y="961.86" width="11.21" height="9.83" fill="#4cff00"/>
<rect x="294.25" y="961.86" width="11.21" height="9.83" fill="#00ff0a"/>
<rect x="305.16" y="961.86" width="11.21" height="9.83" fill="#00ff0a"/>
<rect x="316.07" y="961.86" width="11.21" height="9.83" fill="#00ff3d"/>
<rect x="326.99" y="961.86" width="11.21" height="9.83" fill="#00ff0a"/>
<rect x="337.90" y="961.86" width="11.21" height="9.83" fill="#99ff00"/>
<rect x="348.82" y="961.86" width="11.21" height="9.83" fill="#00ff7a"/>
<rect x="359.73" y="961.86" width="11.21" height="9.83" fill="#00ff0a"/>
<rect x="370.64" y="961.86" width="5.76" height="9.83" fill="#00ff0a"/>
<rect x="59.60" y="971.39" width="5.76" height="9.83" fill="#00ff0a"/>
<rect x="65.06" y="971.39" width="11.21" height="9.83" fill="#4cff00"/>
<rect x="75.97" y="971.39" width="11.21" height="9.83" fill="#00ff0a"/>
<rect x="86.88" y="971.39" width="11.21" height="9.83" fill="#00ff0a"/>
<rect x="97.80" y="971.39" width="11.21" height="9.83" fill="#00ff3d"/>
<rect x="108.71" y="971.39" width="11.21" height="9.83" fill="#00ff7a"/>
<rect x="119.63" y="971.39" width="11.21" height="9.83" fill="#4cff00"/>
<rect x="130.54" y="971.39" width="11.21" height="9.83" fill="#00ff3d"/>
<rect x="141.45" y="971.39" width="11.21" height="9.83" fill="#4cff00"/>
<rect x="152.37" y="971.39" width="11.21" height="9.83" fill="#00ff3d"/>
<rect x="163.28" y="971.39" width="11.21" height="9.83" fill="#00ff7a"/>
<rect x="174.19" y="971.39" width="11.21" height="9.83" fill="#00ff0a"/>
<rect x="185.11" y="971.39" width="11.21" height="9.83" fill="#00ff0a"/>
<rect x="196.02" y="971.39" width="11.21" height="9.83" fill="#00ff0a"/>
<rect x="206.94" y="971.39" width="11.21" height="9.83" fill="#4cff00"/>
<rect x="217.85" y="971.39" width="11.21" height="9.83" fill="#00ff0a"/>
<rect x="228.76" y="971.39" width="11.21" height="9.83" fill="#00ff0a"/>
<rect x="239.68" y="971.39" width="11.21" height="9.83" fill="#00ff0a"/>
<rect x="250.59" y="971.39" width="11.21" height="9.83" fill="#00ff3d"/>
<rect x="261.51" y="971.39" width="11.21" height="9.83" fill="#4cff00"/>
<rect x="272.42" y="971.39" width="11.21" height="9.83" fill="#4cff00"/>
<rect x="283.33" y="971.39" width="11.21" height="9.83" fill="#00ff0a"/>
<rect x="294.25" y="971.39" width="11.21" height="9.83" fill="#00ff7a"/>
<rect x="305.16" y="971.39" width="11.21" height="9.83" fill="#00ff7a"/>
<rect x="316.07" y="971.39" width="11.21" height="9.83" fill="#00ff0a"/>
<rect x="326.99" y="971.39" width="11.21" height="9.83" fill="#00ff0a"/>
<rect x="337.90" y="971.39" width="11.21" height="9.83" fill="#00ff3d"/>
<rect x="348.82" y="971.39" width="11.21" height="9.83" fill="#00ff7a"/>
<rect x="359.73" y="971.39" width="11.21" height="9.83" fill="#00ff0a"/>
<rect x="370.64" y="971.39" width="5.76" height="9.83" fill="#00ff0a"/>
<rect x="59.60" y="980.93" width="5.76" height="9.83" fill="#00ff0a"/>
<rect x="65.06" y="980.93" width="11.21" height="9.83" fill="#99ff00"/>
<rect x="75.97" y="980.93" width="11.21" height="9.83" fill="#00ff0a"/>
<rect x="86.88" y="980.93" width="11.21" height="9.83" fill="#00ff0a"/>
<rect x="97.80" y="980.93" width="11.21" height="9.83" fill="#4cff00"/>
<rect x="108.71" y="980.93" width="11.21" height="9.83" fill="#00ff3d"/>
<rect x="119.63" y="980.93" width="11.21" height="9.83" fill="#00ff7a"/>
<rect x="130.54" y="980.93" width="11.21" height="9.83" fill="#00ff3d"/>
<rect x="141.45" y="980.93" width="11.21" height="9.83" fill="#00ff0a"/>
<rect x="152.37" y="980.93" width="11.21" height="9.83" fill="#4cff00"/>
<rect x="163.28" y="980.93" width="11.21" height="9.83" fill="#00ff7a"/>
<rect x="174.19" y="980.93" width="11.21" height="9.83" fill="#4cff00"/>
<rect x="185.11" y="980.93" width="11.21" height="9.83" fill="#00ff3d"/>
<rect x="196.02" y="980.93" width="11.21" height="9.83" fill="#00ff0a"/>
<rect x="206.94" y="980.93" width="11.21" height="9.83" fill="#00ff3d"/>
<rect x="217.85" y="980.93" width="11.21" height="9.83" fill="#00ff0a"/>
<rect x="228.76" y="980.93" width="11.21" height="9.83" fill="#00ff0a"/>
<rect x="239.68" y="980.93" width="11.21" height="9.83" fill="#00ff7a"/>
<rect x="250.59" y="980.93" width="11.21" height="9.83" fill="#00ff0a"/>
<rect x="261.51" y="980.93" width="11.21" height="9.83" fill="#00ff0a"/>
<rect x="272.42" y="980.93" width="11.21" height="9.83" fill="#4cff00"/>
<rect x="283.33" y="980.93" width="11.21" height="9.83" fill="#4cff00"/>
<rect x="294.25" y="980.93" width="11.21" height="9.83" fill="#00ff7a"/>
<rect x="305.16" y="980.93" width="11.21" height="9.83" fill="#00ff0a"/>
<rect x="316.07" y="980.93" width="11.21" height="9.83" fill="#00ff0a"/>
<rect x="326.99" y="980.93" width="11.21" height="9.83" fill="#00ff0a"/>
<rect x="337.90" y="980.93" width="11.21" height="9.83" fill="#00ff7a"/>
<rect x="348.82" y="980.93" width="11.21" height="9.83" fill="#00ff7a"/>
<rect x="359.73" y="980.93" width="11.21" height="9.83" fill="#00ff0a"/>
<rect x="370.64" y="980.93" width="5.76" height="9.83" fill="#00ff0a"/>
<rect x="59.60" y="990.46" width="5.76" height="9.83" fill="#00ff0a"/>
<rect x="65.06" y="990.46" width="11.21" height="9.83" fill="#99ff00"/>
<rect x="75.97" y="990.46" width="11.21" height="9.83" fill="#00ff3d"/>
<rect x="86.88" y="990.46" width="11.21" height="9.83" fill="#00ff3d"/>
<rect x="97.80" y="990.46" width="11.21" height="9.83" fill="#00ff3d"/>
<rect x="108.71" y="990.46" width="11.21" height="9.83" fill="#00ff3d"/>
<rect x="119.63" y="990.46" width="11.21" height="9.83" fill="#00ff3d"/>
<rect x="130.54" y="990.46" width="11.21" height="9.83" fill="#00ff0a"/>
<rect x="141.45" y="990.46" width="11.21" height="9.83" fill="#00ff0a"/>
<rect x="152.37" y="990.46" width="11.21" height="9.83" fill="#00ff7a"/>
<rect x="163.28" y="990.46" width="11.21" height="9.83" fill="#00ff3d"/>
<rect x="174.19" y="990.46" width="11.21" height="9.83" fill="#00ff0a"/>
<rect x="185.11" y="990.46" width="11.21" height="9.83" fill="#00ff0a"/>
<rect x="196.02" y="990.46" width="11.21" height="9.83" fill="#00ff3d"/>
<rect x="206.94" y="990.46" width="11.21" height="9.83" fill="#00ff0a"/>
<rect x="217.85" y="990.46" width="11.21" height="9.83" fill="#4cff00"/>
<rect x="228.76" y="990.46" width="11.21" height="9.83" fill="#00ff3d"/>
<rect x="239.68" y="990.46" width="11.21" height="9.83" fill="#e0ff00"/>
<rect x="250.59" y="990.46" width="11.21" height="9.83" fill="#00ff0a"/>
<rect x="261.51" y="990.46" width="11.21" height="9.83" fill="#00ff0a"/>
<rect x="272.42" y="990.46" width="11.21" height="9.83" fill="#00ff0a"/>
<rect x="283.33" y="990.46" width="11.21" height="9.83" fill="#00ff7a"/>
<rect x="294.25" y="990.46" width="11.21" height="9.83" fill="#00ff3d"/>
<rect x="305.16" y="990.46" width="11.21" height="9.83" fill="#99ff00"/>
<rect x="316.07" y="990.46" width="11.21" height="9.83" fill="#00ff3d"/>
<rect x="326.99" y="990.46" width="11.21" height="9.83" fill="#99ff00"/>
<rect x="337.90" y="990.46" width="11.21" height="9.83" fill="#4cff00"/>
<rect x="348.82" y="990.46" width="11.21" height="9.83" fill="#00ff7a"/>
<rect x="359.73" y="990.46" width="11.21" height="9.83" fill="#00ff0a"/>
<rect x="370.64" y="990.46" width="5.76" height="9.83" fill="#00ff0a"/>
<rect x="59.60" y="999.99" width="5.76" height="9.83" fill="#00ff7a"/>
<rect x="65.06" y="999.99" width="11.21" height="9.83" fill="#00ff0a"/>
<rect x="75.97" y="999.99" width="11.21" height="9.83" fill="#00ff0a"/>
<rect x="86.88" y="999.99" width="11.21" height="9.83" fill="#00ff0a"/>
<rect x="97.80" y="999.99" width="11.21" height="9.83" fill="#00ff3d"/>
<rect x="108.71" y="999.99" width="11.21" height="9.83" fill="#00ff3d"/>
<rect x="119.63" y="999.99" width="11.21" height="9.83" fill="#00ff0a"/>
<rect x="130.54" y="999.99" width="11.21" height="9.83" fill="#00ff7a"/>
<rect x="141.45" y="999.99" width="11.21" height="9.83" fill="#00ff0a"/>
<rect x="152.37" y="999.99" width="11.21" height="9.83" fill="#00ff0a"/>
<rect x="163.28" y="999.99" width="11.21" height="9.83" fill="#00ff0a"/>
<rect x="174.19" y="999.99" width="11.21" height="9.83" fill="#00ff7a"/>
<rect x="185.11" y="999.99" width="11.21" height="9.83" fill="#00ff0a"/>
<rect x="196.02" y="999.99" width="11.21" height="9.83" fill="#00ff0a"/>
<rect x="206.94" y="999.99" width="11.21" height="9.83" fill="#00ff0a"/>
<rect x="217.85" y="999.99" width="11.21" height="9.83" fill="#00ff0a"/>
<rect x="228.76" y="999.99" width="11.21" height="9.83" fill="#4cff00"/>
<rect x="239.68" y="999.99" width="11.21" height="9.83" fill="#00ff0a"/>
<rect x="250.59" y="999.99" width="11.21" height="9.83" fill="#00ff0a"/>
<rect x="261.51" y="999.99" width="11.21" height="9.83" fill="#00ff3d"/>
<rect x="272.42" y="999.99" width="11.21" height="9.83" fill="#00ff0a"/>
<rect x="283.33" y="999.99" width="11.21" height="9.83" fill="#00ff3d"/>
<rect x="294.25" y="999.99" width="11.21" height="9.83" fill="#00ff7a"/>
<rect x="305.16" y="999.99" width="11.21" height="9.83" fill="#00ff7a"/>
<rect x="316.07" y="999.99" width="11.21" height="9.83" fill="#00ff0a"/>
<rect x="326.99" y="999.99" width="11.21" height="9.83" fill="#00ff3d"/>
<rect x="337.90" y="999.99" width="11.21" height="9.83" fill="#00ff0a"/>
<rect x="348.82" y="999.99" width="11.21" height="9.83" fill="#00ff0a"/>
<rect x="359.73" y="999.99" width="11.21" height="9.83" fill="#00ff7a"/>
<rect x="370.64" y="999.99" width="5.76" height="9.83" fill="#00ff0a"/>
<rect x="59.60" y="1009.53" width="5.76" height="9.83" fill="#00ff3d"/>
<rect x="65.06" y="1009.53" width="11.21" height="9.83" fill="#00ff0a"/>
<rect x="75.97" y="1009.53" width="11.21" height="9.83" fill="#00ff3d"/>
<rect x="86.88" y="1009.53" width="11.21" height="9.83" fill="#00ff7a"/>
<rect x="97.80" y="1009.53" width="11.21" height="9.83" fill="#00ff7a"/>
<rect x="108.71" y="1009.53" width="11.21" height="9.83" fill="#4cff00"/>
<rect x="119.63" y="1009.53" width="11.21" height="9.83" fill="#00ff0a"/>
<rect x="130.54" y="1009.53" width="11.21" height="9.83" fill="#4cff00"/>
<rect x="141.45" y="1009.53" width="11.21" height="9.83" fill="#4cff00"/>
<rect x="152.37" y="1009.53" width="11.21" height="9.83" fill="#00ff0a"/>
<rect x="163.28" y="1009.53" width="11.21" height="9.83" fill="#00ff3d"/>
<rect x="174.19" y="1009.53" width="11.21" height="9.83" fill="#00ff0a"/>
<rect x="185.11" y="1009.53" width="11.21" height="9.83" fill="#00ff7a"/>
<rect x="196.02" y="1009.53" width="11.21" height="9.83" fill="#00ff0a"/>
<rect x="206.94" y="1009.53" width="11.21" height="9.83" fill="#00ff7a"/>
<rect x="217.85" y="1009.53" width="11.21" height="9.83" fill="#00ff0a"/>
<rect x="228.76" y="1009.53" width="11.21" height="9.83" fill="#00ff3d"/>
<rect x="239.68" y="1009.53" width="11.21" height="9.83" fill="#00ff0a"/>
<rect x="250.59" y="1009.53" width="11.21" height="9.83" fill="#4cff00"/>
<rect x="261.51" y="1009.53" width="11.21" height="9.83" fill="#00ff0a"/>
<rect x="272.42" y="1009.53" width="11.21" height="9.83" fill="#00ff0a"/>
<rect x="283.33" y="1009.53" width="11.21" height="9.83" fill="#99ff00"/>
<rect x="294.25" y="1009.53" width="11.21" height="9.83" fill="#00ff0a"/>
<rect x="305.16" y="1009.53" width="11.21" height="9.83" fill="#00ffeb"/>
<rect x="316.07" y="1009.53" width="11.21" height="9.83" fill="#00ff7a"/>
<rect x="326.99" y="1009.53" width="11.21" height="9.83" fill="#00ffeb"/>
<rect x="337.90" y="1009.53" width="11.21" height="9.83" fill="#00ff0a"/>
<rect x="348.82" y="1009.53" width="11.21" height="9.83" fill="#4cff00"/>
<rect x="359.73" y="1009.53" width="11.21" height="9.83" fill="#00ff0a"/>
<rect x="370.64" y="1009.53" width="5.76" height="9.83" fill="#4cff00"/>
<rect x="59.60" y="1019.06" width="5.76" height="9.83" fill="#00ff3d"/>
<rect x="65.06" y="1019.06" width="11.21" height="9.83" fill="#00ff3d"/>
<rect x="75.97" y="1019.06" width="11.21" height="9.83" fill="#4cff00"/>
<rect x="86.88" y="1019.06" width="11.21" height="9.83" fill="#99ff00"/>
<rect x="97.80" y="1019.06" width="11.21" height="9.83" fill="#00ff0a"/>
<rect x="108.71" y="1019.06" width="11.21" height="9.83" fill="#00ff7a"/>
<rect x="119.63" y="1019.06" width="11.21" height="9.83" fill="#00ff3d"/>
<rect x="130.54" y="1019.06" width="11.21" height="9.83" fill="#00ff0a"/>
<rect x="141.45" y="1019.06" width="11.21" height="9.83" fill="#00ff7a"/>
<rect x="152.37" y="1019.06" width="11.21" height="9.83" fill="#00ff3d"/>
<rect x="163.28" y="1019.06" width="11.21" height="9.83" fill="#4cff00"/>
<rect x="174.19" y="1019.06" width="11.21" height="9.83" fill="#00ff0a"/>
<rect x="185.11" y="1019.06" width="11.21" height="9.83" fill="#4cff00"/>
<rect x="196.02" y="1019.06" width="11.21" height="9.83" fill="#00ff7a"/>
<rect x="206.94" y="1019.06" width="11.21" height="9.83" fill="#00ff3d"/>
<rect x="217.85" y="1019.06" width="11.21" height="9.83" fill="#00ff0a"/>
<rect x="228.76" y="1019.06" width="11.21" height="9.83" fill="#00ff3d"/>
<rect x="239.68" y="1019.06" width="11.21" height="9.83" fill="#00ff0a"/>
<rect x="250.59" y="1019.06" width="11.21" height="9.83" fill="#00ff7a"/>
<rect x="261.51" y="1019.06" width="11.21" height="9.83" fill="#00ff0a"/>
<rect x="272.42" y="1019.06" width="11.21" height="9.83" fill="#00ff7a"/>
<rect x="283.33" y="1019.06" width="11.21" height="9.83" fill="#00ff0a"/>
<rect x="294.25" y="1019.06" width="11.21" height="9.83" fill="#00ff3d"/>
<rect x="305.16" y="1019.06" width="11.21" height="9.83" fill="#99ff00"/>
<rect x="316.07" y="1019.06" width="11.21" height="9.83" fill="#00ff0a"/>
<rect x="326.99" y="1019.06" width="11.21" height="9.83" fill="#00ff7a"/>
<rect x="337.90" y="1019.06" width="11.21" height="9.83" fill="#00ff7a"/>
<rect x="348.82" y="1019.06" width="11.21" height="9.83" fill="#4cff00"/>
<rect x="359.73" y="1019.06" width="11.21" height="9.83" fill="#00ff7a"/>
<rect x="370.64" y="1019.06" width="5.76" height="9.83" fill="#00ff0a"/>
<rect x="59.60" y="1028.60" width="5.76" height="9.83" fill="#00ff7a"/>
<rect x="65.06" y="1028.60" width="11.21" height="9.83" fill="#00ff7a"/>
<rect x="75.97" y="1028.60" width="11.21" height="9.83" fill="#00ff0a"/>
<rect x="86.88" y="1028.60" width="11.21" height="9.83" fill="#00ff0a"/>
<rect x="97.80" y="1028.60" width="11.21" height="9.83" fill="#00ff3d"/>
<rect x="108.71" y="1028.60" width="11.21" height="9.83" fill="#4cff00"/>
<rect x="119.63" y="1028.60" width="11.21" height="9.83" fill="#00ff0a"/>
<rect x="130.54" y="1028.60" width="11.21" height="9.83" fill="#00ff0a"/>
<rect x="141.45" y="1028.60" width="11.21" height="9.83" fill="#00ff0a"/>
<rect x="152.37" y="1028.60" width="11.21" height="9.83" fill="#00ff0a"/>
<rect x="163.28" y="1028.60" width="11.21" height="9.83" fill="#00ff0a"/>
<rect x="174.19" y="1028.60" width="11.21" height="9.83" fill="#00ff0a"/>
<rect x="185.11" y="1028.60" width="11.21" height="9.83" fill="#00ff0a"/>
<rect x="196.02" y="1028.60" width="11.21" height="9.83" fill="#00ff0a"/>
<rect x="206.94" y="1028.60" width="11.21" height="9.83" fill="#00ff3d"/>
<rect x="217.85" y="1028.60" width="11.21" height="9.83" fill="#00ff7a"/>
<rect x="228.76" y="1028.60" width="11.21" height="9.83" fill="#00ff0a"/>
<rect x="239.68" y="1028.60" width="11.21" height="9.83" fill="#00ff0a"/>
<rect x="250.59" y="1028.60" width="11.21" height="9.83" fill="#00ff0a"/>
<rect x="261.51" y="1028.60" width="11.21" height="9.83" fill="#4cff00"/>
<rect x="272.42" y="1028.60" width="11.21" height="9.83" fill="#00ff0a"/>
<rect x="283.33" y="1028.60" width="11.21" height="9.83" fill="#00ffeb"/>
<rect x="294.25" y="1028.60" width="11.21" height="9.83" fill="#00ff0a"/>
<rect x="305.16" y="1028.60" width="11.21" height="9.83" fill="#00ff7a"/>
<rect x="316.07" y="1028.60" width="11.21" height="9.83" fill="#000aff"/>
<rect x="326.99" y="1028.60" width="11.21" height="9.83" fill="#00ff0a"/>
<rect x="337.90" y="1028.60" width="11.21" height="9.83" fill="#00ff0a"/>
<rect x="348.82" y="1028.60" width="11.21" height="9.83" fill="#00ff3d"/>
<rect x="359.73" y="1028.60" width="11.21" height="9.83" fill="#00ff0a"/>
<rect x="370.64" y="1028.60" width="5.76" height="9.83" fill="#00ff0a"/>
<rect x="59.60" y="1038.13" width="5.76" height="5.07" fill="#00ff7a"/>
<rect x="65.06" y="1038.13" width="11.21" height="5.07" fill="#00ff7a"/>
<rect x="75.97" y="1038.13" width="11.21" height="5.07" fill="#00ff0a"/>
<rect x="86.88" y="1038.13" width="11.21" height="5.07" fill="#00ff0a"/>
<rect x="97.80" y="1038.13" width="11.21" height="5.07" fill="#00ff0a"/>
<rect x="108.71" y="1038.13" width="11.21" height="5.07" fill="#00ff3d"/>
<rect x="119.63" y="1038.13" width="11.21" height="5.07" fill="#00ff0a"/>
<rect x="130.54" y="1038.13" width="11.21" height="5.07" fill="#00ff0a"/>
<rect x="141.45" y="1038.13" width="11.21" height="5.07" fill="#00ff0a"/>
<rect x="152.37" y="1038.13" width="11.21" height="5.07" fill="#00ff3d"/>
<rect x="163.28" y="1038.13" width="11.21" height="5.07" fill="#00ff0a"/>
<rect x="174.19" y="1038.13" width="11.21" height="5.07" fill="#00ff0a"/>
<rect x="185.11" y="1038.13" width="11.21" height="5.07" fill="#00ff0a"/>
<rect x="196.02" y="1038.13" width="11.21" height="5.07" fill="#00ff0a"/>
<rect x="206.94" y="1038.13" width="11.21" height="5.07" fill="#99ff00"/>
<rect x="217.85" y="1038.13" width="11.21" height="5.07" fill="#00ff0a"/>
<rect x="228.76" y="1038.13" width="11.21" height="5.07" fill="#00ff0a"/>
<rect x="239.68" y="1038.13" width="11.21" height="5.07" fill="#00ff0a"/>
<rect x="250.59" y="1038.13" width="11.21" height="5.07" fill="#00ff3d"/>
<rect x="261.51" y="1038.13" width="11.21" height="5.07" fill="#00ff0a"/>
<rect x="272.42" y="1038.13" width="11.21" height="5.07" fill="#00ff0a"/>
<rect x="283.33" y="1038.13" width="11.21" height="5.07" fill="#00ff0a"/>
<rect x="294.25" y="1038.13" width="11.21" height="5.07" fill="#00ff0a"/>
<rect x="305.16" y="1038.13" width="11.21" height="5.07" fill="#00ff0a"/>
<rect x="316.07" y="1038.13" width="11.21" height="5.07" fill="#00ff7a"/>
<rect x="326.99" y="1038.13" width="11.21" height="5.07" fill="#00ff0a"/>
<rect x="337.90" y="1038.13" width="11.21" height="5.07" fill="#00ff7a"/>
<rect x="348.82" y="1038.13" width="11.21" height="5.07" fill="#00ff0a"/>
<rect x="359.73" y="1038.13" width="11.21" height="5.07" fill="#00ff0a"/>
<rect x="370.64" y="1038.13" width="5.76" height="5.07" fill="#00ff0a"/></g></g>
</svg>
<svg width="520" height="1094" viewBox="0 0 520 1094"><g stroke="#1a1a1a" stroke-width="1.5" fill="none">
<line x1="78.18" y1="307.90" x2="78.18" y2="311.50" />
<line x1="61.80" y1="293.57" x2="58.20" y2="293.57" />
<line x1="105.48" y1="307.90" x2="105.48" y2="313.90" />
<line x1="61.80" y1="269.69" x2="55.80" y2="269.69" />
<line x1="132.78" y1="307.90" x2="132.78" y2="311.50" />
<line x1="61.80" y1="245.81" x2="58.20" y2="245.81" />
<line x1="160.09" y1="307.90" x2="160.09" y2="313.90" />
<line x1="61.80" y1="221.93" x2="55.80" y2="221.93" />
<line x1="187.39" y1="307.90" x2="187.39" y2="311.50" />
<line x1="61.80" y1="198.06" x2="58.20" y2="198.06" />
<line x1="214.69" y1="307.90" x2="214.69" y2="313.90" />
<line x1="61.80" y1="174.18" x2="55.80" y2="174.18" />
<line x1="241.99" y1="307.90" x2="241.99" y2="311.50" />
<line x1="61.80" y1="150.30" x2="58.20" y2="150.30" />
<line x1="269.29" y1="307.90" x2="269.29" y2="313.90" />
<line x1="61.80" y1="126.42" x2="55.80" y2="126.42" />
<line x1="296.59" y1="307.90" x2="296.59" y2="311.50" />
<line x1="61.80" y1="102.54" x2="58.20" y2="102.54" />
<line x1="323.90" y1="307.90" x2="323.90" y2="313.90" />
<line x1="61.80" y1="78.66" x2="55.80" y2="78.66" />
<line x1="351.20" y1="307.90" x2="351.20" y2="311.50" />
<line x1="61.80" y1="54.78" x2="58.20" y2="54.78" />
<line x1="378.50" y1="307.90" x2="378.50" y2="313.90" />
<line x1="61.80" y1="30.90" x2="55.80" y2="30.90" />
<rect x="61.80" y="30.90" width="316.70" height="277.00" fill="none"/>
<line x1="76.57" y1="682.60" x2="76.57" y2="686.20" />
<line x1="60.20" y1="668.29" x2="56.60" y2="668.29" />
<line x1="103.86" y1="682.60" x2="103.86" y2="688.60" />
<line x1="60.20" y1="644.43" x2="54.20" y2="644.43" />
<line x1="131.14" y1="682.60" x2="131.14" y2="686.20" />
<line x1="60.20" y1="620.58" x2="56.60" y2="620.58" />
<line x1="158.42" y1="682.60" x2="158.42" y2="688.60" />
<line x1="60.20" y1="596.73" x2="54.20" y2="596.73" />
<line x1="185.71" y1="682.60" x2="185.71" y2="686.20" />
<line x1="60.20" y1="572.87" x2="56.60" y2="572.87" />
<line x1="212.99" y1="682.60" x2="212.99" y2="688.60" />
<line x1="60.20" y1="549.02" x2="54.20" y2="549.02" />
<line x1="240.28" y1="682.60" x2="240.28" y2="686.20" />
<line x1="60.20" y1="525.17" x2="56.60" y2="525.17" />
<line x1="267.56" y1="682.60" x2="267.56" y2="688.60" />
<line x1="60.20" y1="501.31" x2="54.20" y2="501.31" />
<line x1="294.85" y1="682.60" x2="294.85" y2="686.20" />
<line x1="60.20" y1="477.46" x2="56.60" y2="477.46" />
<line x1="322.13" y1="682.60" x2="322.13" y2="688.60" />
<line x1="60.20" y1="453.61" x2="54.20" y2="453.61" />
<line x1="349.42" y1="682.60" x2="349.42" y2="686.20" />
<line x1="60.20" y1="429.75" x2="56.60" y2="429.75" />
<line x1="376.70" y1="682.60" x2="376.70" y2="688.60" />
<line x1="60.20" y1="405.90" x2="54.20" y2="405.90" />
<rect x="60.20" y="405.90" width="316.50" height="276.70" fill="none"/>
<line x1="75.97" y1="1042.90" x2="75.97" y2="1046.50" />
<line x1="59.60" y1="1028.60" x2="56.00" y2="1028.60" />
<line x1="103.26" y1="1042.90" x2="103.26" y2="1048.90" />
<line x1="59.60" y1="1004.76" x2="53.60" y2="1004.76" />
<line x1="130.54" y1="1042.90" x2="130.54" y2="1046.50" />
<line x1="59.60" y1="980.93" x2="56.00" y2="980.93" />
<line x1="157.82" y1="1042.90" x2="157.82" y2="1048.90" />
<line x1="59.60" y1="957.09" x2="53.60" y2="957.09" />
<line x1="185.11" y1="1042.90" x2="185.11" y2="1046.50" />
<line x1="59.60" y1="933.25" x2="56.00" y2="933.25" />
<line x1="212.39" y1="1042.90" x2="212.39" y2="1048.90" />
<line x1="59.60" y1="909.42" x2="53.60" y2="909.42" />
<line x1="239.68" y1="1042.90" x2="239.68" y2="1046.50" />
<line x1="59.60" y1="885.58" x2="56.00" y2="885.58" />
<line x1="266.96" y1="1042.90" x2="266.96" y2="1048.90" />
<line x1="59.60" y1="861.74" x2="53.60" y2="861.74" />
<line x1="294.25" y1="1042.90" x2="294.25" y2="1046.50" />
<line x1="59.60" y1="837.91" x2="56.00" y2="837.91" />
<line x1="321.53" y1="1042.90" x2="321.53" y2="1048.90" />
<line x1="59.60" y1="814.07" x2="53.60" y2="814.07" />
<line x1="348.82" y1="1042.90" x2="348.82" y2="1046.50" />
<line x1="59.60" y1="790.24" x2="56.00" y2="790.24" />
<line x1="376.10" y1="1042.90" x2="376.10" y2="1048.90" />
<line x1="59.60" y1="766.40" x2="53.60" y2="766.40" />
<rect x="59.60" y="766.40" width="316.50" height="276.50" fill="none"/>
</g></svg>
<div style="position:absolute;left:407.90px;top:33.70px;width:31.50px;height:270.50px;background:linear-gradient(to bottom,#ff0000 0%,#ffff00 25%,#00ff00 50%,#00ffff 75%,#0000ff 100%)"></div>
<div class="cl" style="left:444.00px;top:23.80px;font-size:10.75px;font-weight:700">1058,33</div>
<div class="cl" style="left:444.00px;top:50.80px;font-size:10.75px;font-weight:700">1058,08</div>
<div class="cl" style="left:444.00px;top:77.80px;font-size:10.75px;font-weight:700">1057,83</div>
<div class="cl" style="left:444.00px;top:104.80px;font-size:10.75px;font-weight:700">1057,58</div>
<div class="cl" style="left:444.00px;top:131.80px;font-size:10.75px;font-weight:700">1057,33</div>
<div class="cl" style="left:444.00px;top:158.80px;font-size:10.75px;font-weight:700">1057,09</div>
<div class="cl" style="left:444.00px;top:185.80px;font-size:10.75px;font-weight:700">1056,84</div>
<div class="cl" style="left:444.00px;top:212.80px;font-size:10.75px;font-weight:700">1056,59</div>
<div class="cl" style="left:444.00px;top:239.80px;font-size:10.75px;font-weight:700">1056,34</div>
<div class="cl" style="left:444.00px;top:266.80px;font-size:10.75px;font-weight:700">1056,09</div>
<div class="cl" style="left:444.00px;top:293.80px;font-size:10.75px;font-weight:700">1055,84</div>
<div style="position:absolute;left:403.60px;top:400.70px;width:33.20px;height:287.10px;background:linear-gradient(to bottom,#ff0000 0%,#ffff00 25%,#00ff00 50%,#00ffff 75%,#0000ff 100%)"></div>
<div class="cl" style="left:441.60px;top:390.50px;font-size:12.4px;font-weight:400">4240,00</div>
<div class="cl" style="left:441.60px;top:404.84px;font-size:12.4px;font-weight:400">4210,80</div>
<div class="cl" style="left:441.60px;top:419.18px;font-size:12.4px;font-weight:400">4181,60</div>
<div class="cl" style="left:441.60px;top:433.52px;font-size:12.4px;font-weight:400">4152,40</div>
<div class="cl" style="left:441.60px;top:447.86px;font-size:12.4px;font-weight:400">4123,20</div>
<div class="cl" style="left:441.60px;top:462.20px;font-size:12.4px;font-weight:400">4094,00</div>
<div class="cl" style="left:441.60px;top:476.54px;font-size:12.4px;font-weight:400">4064,80</div>
<div class="cl" style="left:441.60px;top:490.88px;font-size:12.4px;font-weight:400">4035,60</div>
<div class="cl" style="left:441.60px;top:505.22px;font-size:12.4px;font-weight:400">4006,40</div>
<div class="cl" style="left:441.60px;top:519.56px;font-size:12.4px;font-weight:400">3977,20</div>
<div class="cl" style="left:441.60px;top:533.90px;font-size:12.4px;font-weight:400">3948,00</div>
<div class="cl" style="left:441.60px;top:548.24px;font-size:12.4px;font-weight:400">3918,80</div>
<div class="cl" style="left:441.60px;top:562.58px;font-size:12.4px;font-weight:400">3889,60</div>
<div class="cl" style="left:441.60px;top:576.92px;font-size:12.4px;font-weight:400">3860,40</div>
<div class="cl" style="left:441.60px;top:591.26px;font-size:12.4px;font-weight:400">3831,20</div>
<div class="cl" style="left:441.60px;top:605.60px;font-size:12.4px;font-weight:400">3802,00</div>
<div class="cl" style="left:441.60px;top:619.94px;font-size:12.4px;font-weight:400">3772,80</div>
<div class="cl" style="left:441.60px;top:634.28px;font-size:12.4px;font-weight:400">3743,60</div>
<div class="cl" style="left:441.60px;top:648.62px;font-size:12.4px;font-weight:400">3714,40</div>
<div class="cl" style="left:441.60px;top:662.96px;font-size:12.4px;font-weight:400">3685,20</div>
<div class="cl" style="left:441.60px;top:677.30px;font-size:12.4px;font-weight:400">3656,00</div>
<div style="position:absolute;left:400.90px;top:778.70px;width:31.60px;height:270.50px;background:linear-gradient(to bottom,#ff0000 0%,#ffff00 25%,#00ff00 50%,#00ffff 75%,#0000ff 100%)"></div>
<div class="cl" style="left:437.30px;top:768.50px;font-size:10.6px;font-weight:700">1057,74</div>
<div class="cl" style="left:437.30px;top:795.50px;font-size:10.6px;font-weight:700">1057,49</div>
<div class="cl" style="left:437.30px;top:822.50px;font-size:10.6px;font-weight:700">1057,24</div>
<div class="cl" style="left:437.30px;top:849.50px;font-size:10.6px;font-weight:700">1057,00</div>
<div class="cl" style="left:437.30px;top:876.50px;font-size:10.6px;font-weight:700">1056,75</div>
<div class="cl" style="left:437.30px;top:903.50px;font-size:10.6px;font-weight:700">1056,50</div>
<div class="cl" style="left:437.30px;top:930.50px;font-size:10.6px;font-weight:700">1056,25</div>
<div class="cl" style="left:437.30px;top:957.50px;font-size:10.6px;font-weight:700">1056,00</div>
<div class="cl" style="left:437.30px;top:984.50px;font-size:10.6px;font-weight:700">1055,75</div>
<div class="cl" style="left:437.30px;top:1011.50px;font-size:10.6px;font-weight:700">1055,50</div>
<div class="cl" style="left:437.30px;top:1038.50px;font-size:10.6px;font-weight:700">1055,25</div>
<div class="tl" style="left:75.48px;top:314.00px;width:60px;text-align:center;font-size:15px">50</div>
<div class="tl" style="left:-7.40px;top:258.89px;width:60px;text-align:right;font-size:15px">50</div>
<div class="tl" style="left:130.09px;top:314.00px;width:60px;text-align:center;font-size:15px">100</div>
<div class="tl" style="left:-7.40px;top:211.13px;width:60px;text-align:right;font-size:15px">100</div>
<div class="tl" style="left:184.69px;top:314.00px;width:60px;text-align:center;font-size:15px">150</div>
<div class="tl" style="left:-7.40px;top:163.38px;width:60px;text-align:right;font-size:15px">150</div>
<div class="tl" style="left:239.29px;top:314.00px;width:60px;text-align:center;font-size:15px">200</div>
<div class="tl" style="left:-7.40px;top:115.62px;width:60px;text-align:right;font-size:15px">200</div>
<div class="tl" style="left:293.90px;top:314.00px;width:60px;text-align:center;font-size:15px">250</div>
<div class="tl" style="left:-7.40px;top:67.86px;width:60px;text-align:right;font-size:15px">250</div>
<div class="tl" style="left:348.50px;top:314.00px;width:60px;text-align:center;font-size:15px">300</div>
<div class="tl" style="left:-7.40px;top:20.10px;width:60px;text-align:right;font-size:15px">300</div>
<div class="tl" style="left:73.86px;top:689.20px;width:60px;text-align:center;font-size:15px">50</div>
<div class="tl" style="left:-9.40px;top:633.63px;width:60px;text-align:right;font-size:15px">50</div>
<div class="tl" style="left:128.42px;top:689.20px;width:60px;text-align:center;font-size:15px">100</div>
<div class="tl" style="left:-9.40px;top:585.93px;width:60px;text-align:right;font-size:15px">100</div>
<div class="tl" style="left:182.99px;top:689.20px;width:60px;text-align:center;font-size:15px">150</div>
<div class="tl" style="left:-9.40px;top:538.22px;width:60px;text-align:right;font-size:15px">150</div>
<div class="tl" style="left:237.56px;top:689.20px;width:60px;text-align:center;font-size:15px">200</div>
<div class="tl" style="left:-9.40px;top:490.51px;width:60px;text-align:right;font-size:15px">200</div>
<div class="tl" style="left:292.13px;top:689.20px;width:60px;text-align:center;font-size:15px">250</div>
<div class="tl" style="left:-9.40px;top:442.81px;width:60px;text-align:right;font-size:15px">250</div>
<div class="tl" style="left:346.70px;top:689.20px;width:60px;text-align:center;font-size:15px">300</div>
<div class="tl" style="left:-9.40px;top:395.10px;width:60px;text-align:right;font-size:15px">300</div>
<div class="tl" style="left:73.26px;top:1050.10px;width:60px;text-align:center;font-size:15px">50</div>
<div class="tl" style="left:-10.10px;top:993.96px;width:60px;text-align:right;font-size:15px">50</div>
<div class="tl" style="left:127.82px;top:1050.10px;width:60px;text-align:center;font-size:15px">100</div>
<div class="tl" style="left:-10.10px;top:946.29px;width:60px;text-align:right;font-size:15px">100</div>
<div class="tl" style="left:182.39px;top:1050.10px;width:60px;text-align:center;font-size:15px">150</div>
<div class="tl" style="left:-10.10px;top:898.62px;width:60px;text-align:right;font-size:15px">150</div>
<div class="tl" style="left:236.96px;top:1050.10px;width:60px;text-align:center;font-size:15px">200</div>
<div class="tl" style="left:-10.10px;top:850.94px;width:60px;text-align:right;font-size:15px">200</div>
<div class="tl" style="left:291.53px;top:1050.10px;width:60px;text-align:center;font-size:15px">250</div>
<div class="tl" style="left:-10.10px;top:803.27px;width:60px;text-align:right;font-size:15px">250</div>
<div class="tl" style="left:346.10px;top:1050.10px;width:60px;text-align:center;font-size:15px">300</div>
<div class="tl" style="left:-10.10px;top:755.60px;width:60px;text-align:right;font-size:15px">300</div>
<div id="lab_a" class="t" style="left:76.12px;top:1.50px;font-size:17.5px;font-weight:700">(a)</div>
<div id="tit_a" class="t" style="left:108.29px;top:2.72px;font-size:16.3px;font-weight:400">Map of unprocessed Resonance</div>
<div id="cb_a" class="t" style="left:415.17px;top:5.46px;font-size:13.5px;font-weight:400">Wavelenght (nm)</div>
<div id="xt_a" class="t" style="left:143.91px;top:337.16px;font-size:17.75px;font-weight:400">Spatial X-Axis (µm)</div>
<div id="yt_a" class="t" style="left:11.50px;top:170.30px;font-size:18.4px;font-weight:400;transform:translate(-50%,-50%) rotate(-90deg)">Spatial Y-Axis (µm)</div>
<div id="lab_b" class="t" style="left:74.97px;top:376.15px;font-size:17.5px;font-weight:700">(b)</div>
<div id="tit_b" class="t" style="left:151.17px;top:378.37px;font-size:17.7px;font-weight:400">Calculated Pattern</div>
<div id="cb_b" class="t" style="left:363.91px;top:375.79px;font-size:14.75px;font-weight:400">Pillar Diameters (nm)</div>
<div id="xt_b" class="t" style="left:140.51px;top:708.96px;font-size:17.75px;font-weight:400">Spatial X-Axis  (µm)</div>
<div id="yt_b" class="t" style="left:11.70px;top:543.20px;font-size:18.35px;font-weight:400;transform:translate(-50%,-50%) rotate(-90deg)">Spatial Y-Axis  (µm)</div>
<div id="lab_c" class="t" style="left:73.46px;top:735.01px;font-size:17.8px;font-weight:700">(c)</div>
<div id="tit_c" class="t" style="left:175.90px;top:741.96px;font-size:16.0px;font-weight:400">Array Resonance</div>
<div id="cb_c" class="t" style="left:399.37px;top:748.91px;font-size:13.5px;font-weight:400">Wavelength (nm)</div>
<div id="xt_c" class="t" style="left:139.11px;top:1074.37px;font-size:17.75px;font-weight:400">Spatial X-Axis  (µm)</div>
<div id="yt_c" class="t" style="left:8.60px;top:907.40px;font-size:18.35px;font-weight:400;transform:translate(-50%,-50%) rotate(-90deg)">Spatial Y-Axis  (µm)</div>
</body></html>
